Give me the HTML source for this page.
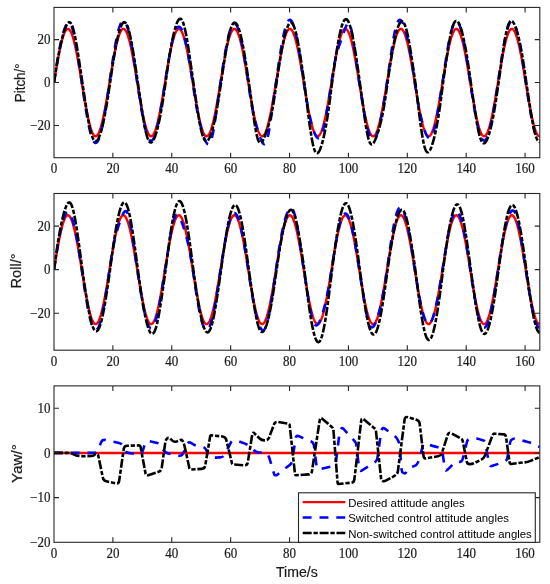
<!DOCTYPE html><html><head><meta charset="utf-8"><title>Attitude angles</title><style>
html,body{margin:0;padding:0;background:#fff;}body{width:550px;height:584px;overflow:hidden;}
svg{display:block;}
.tl{font-family:"Liberation Serif", "DejaVu Serif", serif;font-size:14px;fill:#1a1a1a;stroke:#1a1a1a;stroke-width:0.2px;}
.al{font-family:"Liberation Sans", sans-serif;font-size:14px;fill:#1a1a1a;stroke:#1a1a1a;stroke-width:0.2px;}
.lg{font-family:"Liberation Sans", sans-serif;font-size:11.4px;fill:#000;}
</style></head><body>
<svg width="550" height="584" viewBox="0 0 550 584">
<rect x="0" y="0" width="550" height="584" fill="#fff"/>
<defs>
<clipPath id="c_pitch"><rect x="54.00" y="7.40" width="485.80" height="150.30"/></clipPath>
<clipPath id="c_roll"><rect x="54.00" y="193.50" width="485.80" height="156.70"/></clipPath>
<clipPath id="c_yaw"><rect x="54.00" y="385.90" width="485.80" height="156.40"/></clipPath>
</defs>
<g clip-path="url(#c_pitch)">
<polyline fill="none" stroke="#ff0000" stroke-width="2.4" stroke-linejoin="round" points="54.00,82.55 54.30,80.71 54.61,78.86 54.91,77.02 55.21,75.19 55.52,73.37 55.82,71.56 56.13,69.76 56.43,67.97 56.73,66.21 57.04,64.46 57.34,62.73 57.64,61.03 57.95,59.35 58.25,57.70 58.55,56.08 58.86,54.49 59.16,52.94 59.47,51.42 59.77,49.93 60.07,48.49 60.38,47.08 60.68,45.72 60.98,44.40 61.29,43.12 61.59,41.89 61.89,40.71 62.20,39.58 62.50,38.50 62.81,37.47 63.11,36.50 63.41,35.58 63.72,34.71 64.02,33.90 64.32,33.15 64.63,32.46 64.93,31.83 65.23,31.25 65.54,30.74 65.84,30.29 66.14,29.90 66.45,29.57 66.75,29.30 67.06,29.10 67.36,28.96 67.66,28.89 67.97,28.87 68.27,28.93 68.57,29.04 68.88,29.22 69.18,29.46 69.48,29.76 69.79,30.13 70.09,30.55 70.40,31.04 70.70,31.59 71.00,32.20 71.31,32.87 71.61,33.60 71.91,34.39 72.22,35.23 72.52,36.13 72.82,37.08 73.13,38.09 73.43,39.15 73.74,40.26 74.04,41.42 74.34,42.63 74.65,43.89 74.95,45.19 75.25,46.54 75.56,47.93 75.86,49.36 76.16,50.83 76.47,52.34 76.77,53.88 77.08,55.46 77.38,57.06 77.68,58.70 77.99,60.37 78.29,62.06 78.59,63.78 78.90,65.52 79.20,67.28 79.50,69.06 79.81,70.85 80.11,72.66 80.42,74.48 80.72,76.31 81.02,78.14 81.33,79.98 81.63,81.83 81.93,83.67 82.24,85.52 82.54,87.36 82.84,89.19 83.15,91.02 83.45,92.83 83.76,94.64 84.06,96.43 84.36,98.20 84.67,99.96 84.97,101.69 85.27,103.41 85.58,105.09 85.88,106.75 86.18,108.39 86.49,109.99 86.79,111.56 87.10,113.09 87.40,114.59 87.70,116.05 88.01,117.47 88.31,118.85 88.61,120.19 88.92,121.49 89.22,122.73 89.52,123.93 89.83,125.08 90.13,126.18 90.44,127.23 90.74,128.23 91.04,129.17 91.35,130.06 91.65,130.89 91.95,131.66 92.26,132.38 92.56,133.03 92.86,133.63 93.17,134.17 93.47,134.64 93.77,135.06 94.08,135.41 94.38,135.70 94.69,135.93 94.99,136.09 95.29,136.19 95.60,136.23 95.90,136.20 96.20,136.11 96.51,135.96 96.81,135.74 97.11,135.47 97.42,135.12 97.72,134.72 98.03,134.26 98.33,133.73 98.63,133.14 98.94,132.50 99.24,131.79 99.54,131.03 99.85,130.21 100.15,129.33 100.45,128.40 100.76,127.41 101.06,126.37 101.37,125.28 101.67,124.14 101.97,122.95 102.28,121.71 102.58,120.42 102.88,119.09 103.19,117.72 103.49,116.31 103.79,114.85 104.10,113.36 104.40,111.83 104.71,110.27 105.01,108.67 105.31,107.04 105.62,105.39 105.92,103.70 106.22,102.00 106.53,100.26 106.83,98.51 107.13,96.74 107.44,94.95 107.74,93.15 108.05,91.34 108.35,89.51 108.65,87.68 108.96,85.84 109.26,84.00 109.56,82.15 109.87,80.31 110.17,78.46 110.47,76.63 110.78,74.80 111.08,72.98 111.39,71.17 111.69,69.37 111.99,67.59 112.30,65.83 112.60,64.08 112.90,62.36 113.21,60.66 113.51,58.99 113.81,57.35 114.12,55.74 114.42,54.15 114.72,52.60 115.03,51.09 115.33,49.61 115.64,48.18 115.94,46.78 116.24,45.43 116.55,44.12 116.85,42.85 117.15,41.63 117.46,40.46 117.76,39.34 118.06,38.27 118.37,37.26 118.67,36.29 118.98,35.38 119.28,34.53 119.58,33.74 119.89,33.00 120.19,32.32 120.49,31.70 120.80,31.14 121.10,30.64 121.40,30.20 121.71,29.82 122.01,29.51 122.32,29.25 122.62,29.07 122.92,28.94 123.23,28.88 123.53,28.88 123.83,28.94 124.14,29.07 124.44,29.26 124.74,29.52 125.05,29.84 125.35,30.21 125.66,30.66 125.96,31.16 126.26,31.72 126.57,32.34 126.87,33.03 127.17,33.77 127.48,34.57 127.78,35.42 128.08,36.33 128.39,37.30 128.69,38.32 129.00,39.39 129.30,40.51 129.60,41.68 129.91,42.90 130.21,44.17 130.51,45.48 130.82,46.84 131.12,48.24 131.42,49.67 131.73,51.15 132.03,52.67 132.34,54.22 132.64,55.80 132.94,57.42 133.25,59.06 133.55,60.73 133.85,62.43 134.16,64.15 134.46,65.90 134.76,67.66 135.07,69.44 135.37,71.24 135.68,73.05 135.98,74.87 136.28,76.70 136.59,78.54 136.89,80.38 137.19,82.23 137.50,84.07 137.80,85.91 138.10,87.75 138.41,89.59 138.71,91.41 139.01,93.23 139.32,95.03 139.62,96.81 139.93,98.58 140.23,100.34 140.53,102.07 140.84,103.77 141.14,105.45 141.44,107.11 141.75,108.74 142.05,110.33 142.35,111.89 142.66,113.42 142.96,114.91 143.27,116.36 143.57,117.78 143.87,119.15 144.18,120.48 144.48,121.76 144.78,123.00 145.09,124.19 145.39,125.32 145.69,126.41 146.00,127.45 146.30,128.44 146.61,129.37 146.91,130.24 147.21,131.06 147.52,131.82 147.82,132.52 148.12,133.17 148.43,133.75 148.73,134.28 149.03,134.74 149.34,135.14 149.64,135.48 149.95,135.75 150.25,135.97 150.55,136.12 150.86,136.20 151.16,136.23 151.46,136.19 151.77,136.08 152.07,135.92 152.37,135.69 152.68,135.40 152.98,135.04 153.29,134.62 153.59,134.15 153.89,133.61 154.20,133.01 154.50,132.35 154.80,131.63 155.11,130.85 155.41,130.02 155.71,129.13 156.02,128.19 156.32,127.19 156.63,126.14 156.93,125.04 157.23,123.88 157.54,122.68 157.84,121.43 158.14,120.14 158.45,118.80 158.75,117.42 159.05,115.99 159.36,114.53 159.66,113.03 159.97,111.49 160.27,109.92 160.57,108.32 160.88,106.69 161.18,105.02 161.48,103.34 161.79,101.62 162.09,99.89 162.39,98.13 162.70,96.36 163.00,94.57 163.30,92.76 163.61,90.94 163.91,89.12 164.22,87.28 164.52,85.44 164.82,83.60 165.13,81.75 165.43,79.91 165.73,78.07 166.04,76.23 166.34,74.40 166.64,72.58 166.95,70.78 167.25,68.98 167.56,67.21 167.86,65.45 168.16,63.71 168.47,61.99 168.77,60.30 169.07,58.64 169.38,57.00 169.68,55.39 169.98,53.82 170.29,52.27 170.59,50.77 170.90,49.30 171.20,47.87 171.50,46.48 171.81,45.14 172.11,43.84 172.41,42.58 172.72,41.38 173.02,40.22 173.32,39.11 173.63,38.05 173.93,37.04 174.24,36.09 174.54,35.20 174.84,34.35 175.15,33.57 175.45,32.84 175.75,32.18 176.06,31.57 176.36,31.02 176.66,30.54 176.97,30.11 177.27,29.75 177.58,29.45 177.88,29.21 178.18,29.03 178.49,28.92 178.79,28.87 179.09,28.89 179.40,28.97 179.70,29.11 180.00,29.31 180.31,29.58 180.61,29.91 180.92,30.30 181.22,30.76 181.52,31.27 181.83,31.85 182.13,32.49 182.43,33.18 182.74,33.93 183.04,34.75 183.34,35.61 183.65,36.54 183.95,37.51 184.26,38.54 184.56,39.63 184.86,40.76 185.17,41.94 185.47,43.17 185.77,44.45 186.08,45.77 186.38,47.14 186.68,48.54 186.99,49.99 187.29,51.48 187.59,53.00 187.90,54.56 188.20,56.15 188.51,57.77 188.81,59.42 189.11,61.10 189.42,62.80 189.72,64.53 190.02,66.28 190.33,68.05 190.63,69.83 190.93,71.63 191.24,73.44 191.54,75.27 191.85,77.10 192.15,78.94 192.45,80.78 192.76,82.63 193.06,84.47 193.36,86.31 193.67,88.15 193.97,89.98 194.27,91.81 194.58,93.62 194.88,95.42 195.19,97.20 195.49,98.97 195.79,100.71 196.10,102.44 196.40,104.14 196.70,105.82 197.01,107.46 197.31,109.08 197.61,110.67 197.92,112.23 198.22,113.75 198.53,115.23 198.83,116.67 199.13,118.08 199.44,119.44 199.74,120.76 200.04,122.03 200.35,123.26 200.65,124.44 200.95,125.56 201.26,126.64 201.56,127.67 201.87,128.64 202.17,129.56 202.47,130.42 202.78,131.23 203.08,131.98 203.38,132.67 203.69,133.30 203.99,133.87 204.29,134.38 204.60,134.83 204.90,135.22 205.21,135.54 205.51,135.81 205.81,136.01 206.12,136.14 206.42,136.21 206.72,136.22 207.03,136.17 207.33,136.05 207.63,135.87 207.94,135.63 208.24,135.33 208.55,134.96 208.85,134.53 209.15,134.04 209.46,133.48 209.76,132.87 210.06,132.20 210.37,131.47 210.67,130.68 210.97,129.83 211.28,128.93 211.58,127.98 211.88,126.97 212.19,125.90 212.49,124.79 212.80,123.63 213.10,122.42 213.40,121.16 213.71,119.85 214.01,118.50 214.31,117.11 214.62,115.68 214.92,114.21 215.22,112.70 215.53,111.16 215.83,109.58 216.14,107.97 216.44,106.33 216.74,104.66 217.05,102.97 217.35,101.25 217.65,99.51 217.96,97.75 218.26,95.97 218.56,94.18 218.87,92.37 219.17,90.55 219.48,88.72 219.78,86.88 220.08,85.04 220.39,83.20 220.69,81.35 220.99,79.51 221.30,77.67 221.60,75.83 221.90,74.01 222.21,72.19 222.51,70.39 222.82,68.60 223.12,66.82 223.42,65.07 223.73,63.34 224.03,61.62 224.33,59.94 224.64,58.28 224.94,56.65 225.24,55.05 225.55,53.48 225.85,51.94 226.16,50.45 226.46,48.99 226.76,47.57 227.07,46.19 227.37,44.85 227.67,43.56 227.98,42.32 228.28,41.12 228.58,39.97 228.89,38.87 229.19,37.83 229.50,36.83 229.80,35.89 230.10,35.01 230.41,34.18 230.71,33.41 231.01,32.70 231.32,32.04 231.62,31.45 231.92,30.91 232.23,30.44 232.53,30.03 232.84,29.68 233.14,29.39 233.44,29.17 233.75,29.00 234.05,28.91 234.35,28.87 234.66,28.90 234.96,28.99 235.26,29.15 235.57,29.37 235.87,29.65 236.17,29.99 236.48,30.40 236.78,30.87 237.09,31.39 237.39,31.98 237.69,32.63 238.00,33.34 238.30,34.11 238.60,34.93 238.91,35.81 239.21,36.74 239.51,37.73 239.82,38.77 240.12,39.87 240.43,41.01 240.73,42.20 241.03,43.44 241.34,44.73 241.64,46.06 241.94,47.44 242.25,48.85 242.55,50.31 242.85,51.80 243.16,53.33 243.46,54.90 243.77,56.50 244.07,58.12 244.37,59.78 244.68,61.47 244.98,63.18 245.28,64.91 245.59,66.66 245.89,68.43 246.19,70.22 246.50,72.02 246.80,73.84 247.11,75.66 247.41,77.50 247.71,79.34 248.02,81.18 248.32,83.03 248.62,84.87 248.93,86.71 249.23,88.55 249.53,90.38 249.84,92.20 250.14,94.01 250.45,95.80 250.75,97.58 251.05,99.35 251.36,101.09 251.66,102.81 251.96,104.50 252.27,106.17 252.57,107.82 252.87,109.43 253.18,111.01 253.48,112.56 253.79,114.07 254.09,115.54 254.39,116.98 254.70,118.38 255.00,119.73 255.30,121.04 255.61,122.30 255.91,123.52 256.21,124.68 256.52,125.80 256.82,126.87 257.13,127.88 257.43,128.85 257.73,129.75 258.04,130.60 258.34,131.40 258.64,132.13 258.95,132.81 259.25,133.43 259.55,133.99 259.86,134.48 260.16,134.92 260.47,135.29 260.77,135.61 261.07,135.85 261.38,136.04 261.68,136.16 261.98,136.22 262.29,136.22 262.59,136.15 262.89,136.02 263.20,135.83 263.50,135.57 263.80,135.25 264.11,134.87 264.41,134.43 264.72,133.92 265.02,133.36 265.32,132.73 265.63,132.04 265.93,131.30 266.23,130.50 266.54,129.64 266.84,128.73 267.14,127.76 267.45,126.74 267.75,125.67 268.06,124.54 268.36,123.37 268.66,122.15 268.97,120.88 269.27,119.56 269.57,118.21 269.88,116.81 270.18,115.37 270.48,113.89 270.79,112.37 271.09,110.82 271.40,109.23 271.70,107.62 272.00,105.97 272.31,104.30 272.61,102.60 272.91,100.87 273.22,99.13 273.52,97.36 273.82,95.58 274.13,93.79 274.43,91.97 274.74,90.15 275.04,88.32 275.34,86.48 275.65,84.64 275.95,82.80 276.25,80.95 276.56,79.11 276.86,77.27 277.16,75.44 277.47,73.61 277.77,71.80 278.08,70.00 278.38,68.21 278.68,66.44 278.99,64.69 279.29,62.96 279.59,61.26 279.90,59.58 280.20,57.92 280.50,56.30 280.81,54.70 281.11,53.14 281.42,51.62 281.72,50.13 282.02,48.68 282.33,47.27 282.63,45.90 282.93,44.57 283.24,43.29 283.54,42.05 283.84,40.87 284.15,39.73 284.45,38.64 284.75,37.61 285.06,36.62 285.36,35.70 285.67,34.82 285.97,34.01 286.27,33.25 286.58,32.55 286.88,31.91 287.18,31.33 287.49,30.80 287.79,30.34 288.09,29.95 288.40,29.61 288.70,29.34 289.01,29.13 289.31,28.98 289.61,28.89 289.92,28.87 290.22,28.91 290.52,29.02 290.83,29.19 291.13,29.42 291.43,29.72 291.74,30.07 292.04,30.49 292.35,30.97 292.65,31.52 292.95,32.12 293.26,32.78 293.56,33.50 293.86,34.28 294.17,35.11 294.47,36.01 294.77,36.95 295.08,37.95 295.38,39.01 295.69,40.11 295.99,41.26 296.29,42.47 296.60,43.72 296.90,45.02 297.20,46.36 297.51,47.74 297.81,49.17 298.11,50.63 298.42,52.13 298.72,53.67 299.03,55.24 299.33,56.85 299.63,58.48 299.94,60.14 300.24,61.83 300.54,63.55 300.85,65.28 301.15,67.04 301.45,68.82 301.76,70.61 302.06,72.41 302.37,74.23 302.67,76.06 302.97,77.89 303.28,79.74 303.58,81.58 303.88,83.42 304.19,85.27 304.49,87.11 304.79,88.94 305.10,90.77 305.40,92.59 305.71,94.40 306.01,96.19 306.31,97.97 306.62,99.72 306.92,101.46 307.22,103.18 307.53,104.87 307.83,106.53 308.13,108.17 308.44,109.78 308.74,111.35 309.04,112.89 309.35,114.39 309.65,115.86 309.96,117.29 310.26,118.67 310.56,120.02 310.87,121.31 311.17,122.57 311.47,123.77 311.78,124.93 312.08,126.04 312.38,127.09 312.69,128.10 312.99,129.05 313.30,129.94 313.60,130.78 313.90,131.56 314.21,132.28 314.51,132.95 314.81,133.55 315.12,134.10 315.42,134.58 315.72,135.01 316.03,135.37 316.33,135.66 316.64,135.90 316.94,136.07 317.24,136.18 317.55,136.23 317.85,136.21 318.15,136.13 318.46,135.98 318.76,135.78 319.06,135.51 319.37,135.17 319.67,134.78 319.98,134.32 320.28,133.80 320.58,133.22 320.89,132.59 321.19,131.89 321.49,131.13 321.80,130.32 322.10,129.45 322.40,128.53 322.71,127.55 323.01,126.51 323.32,125.43 323.62,124.29 323.92,123.11 324.23,121.88 324.53,120.60 324.83,119.27 325.14,117.91 325.44,116.50 325.74,115.05 326.05,113.56 326.35,112.04 326.66,110.48 326.96,108.89 327.26,107.26 327.57,105.61 327.87,103.93 328.17,102.23 328.48,100.50 328.78,98.75 329.08,96.98 329.39,95.19 329.69,93.39 330.00,91.58 330.30,89.76 330.60,87.93 330.91,86.09 331.21,84.24 331.51,82.40 331.82,80.55 332.12,78.71 332.42,76.87 332.73,75.04 333.03,73.22 333.33,71.41 333.64,69.61 333.94,67.83 334.25,66.06 334.55,64.32 334.85,62.59 335.16,60.89 335.46,59.22 335.76,57.57 336.07,55.95 336.37,54.36 336.67,52.81 336.98,51.29 337.28,49.81 337.59,48.37 337.89,46.97 338.19,45.61 338.50,44.29 338.80,43.02 339.10,41.79 339.41,40.62 339.71,39.49 340.01,38.41 340.32,37.39 340.62,36.42 340.93,35.50 341.23,34.64 341.53,33.84 341.84,33.09 342.14,32.40 342.44,31.78 342.75,31.21 343.05,30.70 343.35,30.25 343.66,29.87 343.96,29.55 344.27,29.29 344.57,29.09 344.87,28.95 345.18,28.88 345.48,28.88 345.78,28.93 346.09,29.05 346.39,29.23 346.69,29.48 347.00,29.79 347.30,30.16 347.61,30.59 347.91,31.09 348.21,31.64 348.52,32.26 348.82,32.93 349.12,33.66 349.43,34.45 349.73,35.30 350.03,36.21 350.34,37.16 350.64,38.18 350.95,39.24 351.25,40.36 351.55,41.52 351.86,42.74 352.16,44.00 352.46,45.30 352.77,46.65 353.07,48.05 353.37,49.48 353.68,50.95 353.98,52.46 354.29,54.01 354.59,55.59 354.89,57.20 355.20,58.84 355.50,60.51 355.80,62.20 356.11,63.92 356.41,65.66 356.71,67.42 357.02,69.20 357.32,71.00 357.62,72.81 357.93,74.63 358.23,76.46 358.54,78.29 358.84,80.13 359.14,81.98 359.45,83.82 359.75,85.67 360.05,87.51 360.36,89.34 360.66,91.17 360.96,92.98 361.27,94.79 361.57,96.58 361.88,98.35 362.18,100.10 362.48,101.83 362.79,103.55 363.09,105.23 363.39,106.89 363.70,108.52 364.00,110.12 364.30,111.69 364.61,113.22 364.91,114.71 365.22,116.17 365.52,117.59 365.82,118.97 366.13,120.30 366.43,121.59 366.73,122.83 367.04,124.03 367.34,125.17 367.64,126.27 367.95,127.32 368.25,128.31 368.56,129.24 368.86,130.13 369.16,130.95 369.47,131.72 369.77,132.43 370.07,133.08 370.38,133.68 370.68,134.21 370.98,134.68 371.29,135.09 371.59,135.44 371.90,135.72 372.20,135.94 372.50,136.10 372.81,136.20 373.11,136.23 373.41,136.20 373.72,136.10 374.02,135.94 374.32,135.72 374.63,135.44 374.93,135.09 375.24,134.68 375.54,134.21 375.84,133.68 376.15,133.09 376.45,132.44 376.75,131.73 377.06,130.96 377.36,130.14 377.66,129.25 377.97,128.32 378.27,127.33 378.58,126.28 378.88,125.19 379.18,124.04 379.49,122.85 379.79,121.60 380.09,120.31 380.40,118.98 380.70,117.61 381.00,116.19 381.31,114.73 381.61,113.23 381.91,111.70 382.22,110.14 382.52,108.54 382.83,106.91 383.13,105.25 383.43,103.56 383.74,101.85 384.04,100.12 384.34,98.37 384.65,96.60 384.95,94.81 385.25,93.00 385.56,91.19 385.86,89.36 386.17,87.53 386.47,85.69 386.77,83.84 387.08,82.00 387.38,80.15 387.68,78.31 387.99,76.48 388.29,74.65 388.59,72.83 388.90,71.02 389.20,69.22 389.51,67.44 389.81,65.68 390.11,63.94 390.42,62.22 390.72,60.53 391.02,58.86 391.33,57.22 391.63,55.60 391.93,54.02 392.24,52.48 392.54,50.97 392.85,49.50 393.15,48.06 393.45,46.67 393.76,45.32 394.06,44.01 394.36,42.75 394.67,41.53 394.97,40.37 395.27,39.25 395.58,38.19 395.88,37.18 396.19,36.22 396.49,35.31 396.79,34.46 397.10,33.67 397.40,32.94 397.70,32.26 398.01,31.65 398.31,31.09 398.61,30.60 398.92,30.16 399.22,29.79 399.53,29.48 399.83,29.24 400.13,29.05 400.44,28.93 400.74,28.88 401.04,28.88 401.35,28.95 401.65,29.09 401.95,29.28 402.26,29.54 402.56,29.86 402.87,30.25 403.17,30.69 403.47,31.20 403.78,31.77 404.08,32.40 404.38,33.08 404.69,33.83 404.99,34.63 405.29,35.49 405.60,36.41 405.90,37.38 406.20,38.40 406.51,39.48 406.81,40.60 407.12,41.78 407.42,43.00 407.72,44.27 408.03,45.59 408.33,46.95 408.63,48.35 408.94,49.79 409.24,51.28 409.54,52.79 409.85,54.35 410.15,55.93 410.46,57.55 410.76,59.20 411.06,60.87 411.37,62.57 411.67,64.30 411.97,66.04 412.28,67.81 412.58,69.59 412.88,71.39 413.19,73.20 413.49,75.02 413.80,76.85 414.10,78.69 414.40,80.53 414.71,82.38 415.01,84.22 415.31,86.07 415.62,87.90 415.92,89.74 416.22,91.56 416.53,93.37 416.83,95.18 417.14,96.96 417.44,98.73 417.74,100.48 418.05,102.21 418.35,103.91 418.65,105.59 418.96,107.24 419.26,108.87 419.56,110.46 419.87,112.02 420.17,113.54 420.48,115.03 420.78,116.48 421.08,117.89 421.39,119.26 421.69,120.58 421.99,121.86 422.30,123.10 422.60,124.28 422.90,125.42 423.21,126.50 423.51,127.53 423.82,128.51 424.12,129.44 424.42,130.31 424.73,131.12 425.03,131.88 425.33,132.58 425.64,133.22 425.94,133.80 426.24,134.32 426.55,134.77 426.85,135.17 427.16,135.50 427.46,135.77 427.76,135.98 428.07,136.13 428.37,136.21 428.67,136.23 428.98,136.18 429.28,136.07 429.58,135.90 429.89,135.67 430.19,135.37 430.49,135.01 430.80,134.59 431.10,134.10 431.41,133.56 431.71,132.96 432.01,132.29 432.32,131.57 432.62,130.79 432.92,129.95 433.23,129.06 433.53,128.11 433.83,127.11 434.14,126.05 434.44,124.94 434.75,123.79 435.05,122.58 435.35,121.33 435.66,120.03 435.96,118.69 436.26,117.30 436.57,115.88 436.87,114.41 437.17,112.91 437.48,111.37 437.78,109.79 438.09,108.19 438.39,106.55 438.69,104.89 439.00,103.20 439.30,101.48 439.60,99.74 439.91,97.99 440.21,96.21 440.51,94.42 440.82,92.61 441.12,90.79 441.43,88.97 441.73,87.13 442.03,85.29 442.34,83.44 442.64,81.60 442.94,79.76 443.25,77.92 443.55,76.08 443.85,74.25 444.16,72.43 444.46,70.63 444.77,68.84 445.07,67.06 445.37,65.30 445.68,63.57 445.98,61.85 446.28,60.16 446.59,58.50 446.89,56.86 447.19,55.26 447.50,53.69 447.80,52.15 448.11,50.65 448.41,49.18 448.71,47.76 449.02,46.37 449.32,45.03 449.62,43.73 449.93,42.48 450.23,41.28 450.53,40.12 450.84,39.02 451.14,37.96 451.45,36.96 451.75,36.02 452.05,35.12 452.36,34.29 452.66,33.51 452.96,32.79 453.27,32.13 453.57,31.52 453.87,30.98 454.18,30.50 454.48,30.08 454.78,29.72 455.09,29.42 455.39,29.19 455.70,29.02 456.00,28.92 456.30,28.87 456.61,28.89 456.91,28.98 457.21,29.12 457.52,29.33 457.82,29.61 458.12,29.94 458.43,30.34 458.73,30.80 459.04,31.32 459.34,31.90 459.64,32.54 459.95,33.24 460.25,34.00 460.55,34.81 460.86,35.69 461.16,36.61 461.46,37.60 461.77,38.63 462.07,39.72 462.38,40.85 462.68,42.04 462.98,43.28 463.29,44.56 463.59,45.88 463.89,47.25 464.20,48.66 464.50,50.11 464.80,51.60 465.11,53.13 465.41,54.69 465.72,56.28 466.02,57.90 466.32,59.56 466.63,61.24 466.93,62.94 467.23,64.67 467.54,66.42 467.84,68.19 468.14,69.98 468.45,71.78 468.75,73.59 469.06,75.42 469.36,77.25 469.66,79.09 469.97,80.93 470.27,82.78 470.57,84.62 470.88,86.46 471.18,88.30 471.48,90.13 471.79,91.95 472.09,93.77 472.40,95.56 472.70,97.34 473.00,99.11 473.31,100.85 473.61,102.58 473.91,104.28 474.22,105.95 474.52,107.60 474.82,109.22 475.13,110.80 475.43,112.35 475.74,113.87 476.04,115.35 476.34,116.79 476.65,118.19 476.95,119.55 477.25,120.86 477.56,122.13 477.86,123.36 478.16,124.53 478.47,125.66 478.77,126.73 479.07,127.75 479.38,128.72 479.68,129.63 479.99,130.49 480.29,131.29 480.59,132.04 480.90,132.72 481.20,133.35 481.50,133.91 481.81,134.42 482.11,134.86 482.41,135.25 482.72,135.57 483.02,135.82 483.33,136.02 483.63,136.15 483.93,136.22 484.24,136.22 484.54,136.16 484.84,136.04 485.15,135.86 485.45,135.61 485.75,135.30 486.06,134.92 486.36,134.49 486.67,133.99 486.97,133.43 487.27,132.82 487.58,132.14 487.88,131.40 488.18,130.61 488.49,129.76 488.79,128.86 489.09,127.90 489.40,126.88 489.70,125.81 490.01,124.70 490.31,123.53 490.61,122.31 490.92,121.05 491.22,119.74 491.52,118.39 491.83,117.00 492.13,115.56 492.43,114.09 492.74,112.58 493.04,111.03 493.35,109.45 493.65,107.84 493.95,106.19 494.26,104.52 494.56,102.83 494.86,101.11 495.17,99.36 495.47,97.60 495.77,95.82 496.08,94.03 496.38,92.22 496.69,90.40 496.99,88.57 497.29,86.73 497.60,84.89 497.90,83.05 498.20,81.20 498.51,79.36 498.81,77.52 499.11,75.68 499.42,73.86 499.72,72.04 500.03,70.24 500.33,68.45 500.63,66.68 500.94,64.93 501.24,63.19 501.54,61.49 501.85,59.80 502.15,58.14 502.45,56.51 502.76,54.92 503.06,53.35 503.36,51.82 503.67,50.33 503.97,48.87 504.28,47.45 504.58,46.08 504.88,44.75 505.19,43.46 505.49,42.22 505.79,41.02 506.10,39.88 506.40,38.79 506.70,37.74 507.01,36.75 507.31,35.82 507.62,34.94 507.92,34.11 508.22,33.35 508.53,32.64 508.83,31.99 509.13,31.40 509.44,30.87 509.74,30.40 510.04,30.00 510.35,29.65 510.65,29.37 510.96,29.15 511.26,28.99 511.56,28.90 511.87,28.87 512.17,28.91 512.47,29.00 512.78,29.16 513.08,29.39 513.38,29.67 513.69,30.02 513.99,30.43 514.30,30.91 514.60,31.44 514.90,32.03 515.21,32.69 515.51,33.40 515.81,34.17 516.12,35.00 516.42,35.88 516.72,36.82 517.03,37.82 517.33,38.86 517.64,39.96 517.94,41.11 518.24,42.30 518.55,43.55 518.85,44.84 519.15,46.17 519.46,47.55 519.76,48.97 520.06,50.43 520.37,51.93 520.67,53.46 520.98,55.03 521.28,56.63 521.58,58.26 521.89,59.92 522.19,61.61 522.49,63.32 522.80,65.05 523.10,66.80 523.40,68.58 523.71,70.37 524.01,72.17 524.32,73.99 524.62,75.81 524.92,77.65 525.23,79.49 525.53,81.33 525.83,83.18 526.14,85.02 526.44,86.86 526.74,88.70 527.05,90.53 527.35,92.35 527.65,94.16 527.96,95.95 528.26,97.73 528.57,99.49 528.87,101.23 529.17,102.95 529.48,104.64 529.78,106.31 530.08,107.95 530.39,109.56 530.69,111.14 530.99,112.68 531.30,114.19 531.60,115.66 531.91,117.10 532.21,118.49 532.51,119.84 532.82,121.14 533.12,122.40 533.42,123.61 533.73,124.78 534.03,125.89 534.33,126.95 534.64,127.97 534.94,128.92 535.25,129.82 535.55,130.67 535.85,131.46 536.16,132.19 536.46,132.86 536.76,133.48 537.07,134.03 537.37,134.52 537.67,134.95 537.98,135.32 538.28,135.63 538.59,135.87 538.89,136.05 539.19,136.17 539.50,136.22 539.80,136.22"/>
<polyline fill="none" stroke="#0000ff" stroke-width="2.6" stroke-dasharray="8.9 7.9" stroke-linejoin="round" points="54.00,82.55 54.30,80.49 54.61,78.43 54.91,76.38 55.21,74.34 55.52,72.30 55.82,70.29 56.13,68.31 56.43,66.36 56.73,64.45 57.04,62.57 57.34,60.73 57.64,58.93 57.95,57.17 58.25,55.44 58.55,53.76 58.86,52.11 59.16,50.51 59.47,48.95 59.77,47.42 60.07,45.94 60.38,44.50 60.68,43.10 60.98,41.74 61.29,40.41 61.59,39.13 61.89,37.89 62.20,36.70 62.50,35.54 62.81,34.42 63.11,33.35 63.41,32.32 63.72,31.34 64.02,30.39 64.32,29.50 64.63,28.65 64.93,27.85 65.23,27.10 65.54,26.40 65.84,25.75 66.14,25.16 66.45,24.63 66.75,24.16 67.06,23.74 67.36,23.39 67.66,23.10 67.97,22.88 68.27,22.74 68.57,22.66 68.88,22.65 69.18,22.72 69.48,22.87 69.79,23.09 70.09,23.40 70.40,23.78 70.70,24.25 71.00,24.80 71.31,25.43 71.61,26.15 71.91,26.95 72.22,27.83 72.52,28.79 72.82,29.84 73.13,30.96 73.43,32.16 73.74,33.43 74.04,34.78 74.34,36.19 74.65,37.68 74.95,39.22 75.25,40.83 75.56,42.50 75.86,44.21 76.16,45.98 76.47,47.79 76.77,49.64 77.08,51.52 77.38,53.44 77.68,55.39 77.99,57.36 78.29,59.35 78.59,61.36 78.90,63.38 79.20,65.41 79.50,67.44 79.81,69.48 80.11,71.51 80.42,73.54 80.72,75.58 81.02,77.63 81.33,79.69 81.63,81.74 81.93,83.81 82.24,85.88 82.54,87.95 82.84,90.01 83.15,92.07 83.45,94.11 83.76,96.14 84.06,98.15 84.36,100.14 84.67,102.12 84.97,104.07 85.27,105.99 85.58,107.89 85.88,109.76 86.18,111.59 86.49,113.39 86.79,115.15 87.10,116.88 87.40,118.57 87.70,120.21 88.01,121.81 88.31,123.36 88.61,124.86 88.92,126.31 89.22,127.71 89.52,129.06 89.83,130.36 90.13,131.59 90.44,132.77 90.74,133.89 91.04,134.95 91.35,135.95 91.65,136.88 91.95,137.75 92.26,138.56 92.56,139.29 92.86,139.96 93.17,140.57 93.47,141.10 93.77,141.57 94.08,141.96 94.38,142.29 94.69,142.55 94.99,142.73 95.29,142.84 95.60,142.88 95.90,142.86 96.20,142.75 96.51,142.58 96.81,142.34 97.11,142.03 97.42,141.64 97.72,141.19 98.03,140.67 98.33,140.08 98.63,139.42 98.94,138.69 99.24,137.90 99.54,137.04 99.85,136.12 100.15,135.13 100.45,134.08 100.76,132.97 101.06,131.80 101.37,130.58 101.67,129.29 101.97,127.96 102.28,126.56 102.58,125.12 102.88,123.62 103.19,122.08 103.49,120.49 103.79,118.86 104.10,117.18 104.40,115.46 104.71,113.70 105.01,111.91 105.31,110.08 105.62,108.22 105.92,106.33 106.22,104.41 106.53,102.46 106.83,100.49 107.13,98.50 107.44,96.49 107.74,94.47 108.05,92.43 108.35,90.38 108.65,88.31 108.96,86.25 109.26,84.17 109.56,82.09 109.87,79.97 110.17,77.86 110.47,75.75 110.78,73.65 111.08,71.56 111.39,69.48 111.69,67.42 111.99,65.38 112.30,63.35 112.60,61.35 112.90,59.37 113.21,57.43 113.51,55.51 113.81,53.62 114.12,51.77 114.42,49.95 114.72,48.17 115.03,46.44 115.33,44.74 115.64,43.09 115.94,41.49 116.24,39.93 116.55,38.43 116.85,36.98 117.15,35.58 117.46,34.23 117.76,32.95 118.06,31.72 118.37,30.55 118.67,29.45 118.98,28.40 119.28,27.42 119.58,26.51 119.89,25.66 120.19,24.88 120.49,24.17 120.80,23.53 121.10,22.95 121.40,22.45 121.71,22.02 122.01,21.66 122.32,21.37 122.62,21.15 122.92,21.01 123.23,20.94 123.53,20.94 123.83,21.01 124.14,21.16 124.44,21.38 124.74,21.67 125.05,22.03 125.35,22.47 125.66,22.97 125.96,23.55 126.26,24.20 126.57,24.91 126.87,25.70 127.17,26.55 127.48,27.46 127.78,28.45 128.08,29.49 128.39,30.60 128.69,31.77 129.00,33.00 129.30,34.29 129.60,35.63 129.91,37.03 130.21,38.49 130.51,39.99 130.82,41.55 131.12,43.16 131.42,44.81 131.73,46.51 132.03,48.24 132.34,50.02 132.64,51.84 132.94,53.70 133.25,55.59 133.55,57.51 133.85,59.46 134.16,61.43 134.46,63.43 134.76,65.46 135.07,67.50 135.37,69.57 135.68,71.64 135.98,73.74 136.28,75.84 136.59,77.95 136.89,80.06 137.19,82.18 137.50,84.20 137.80,86.20 138.10,88.19 138.41,90.18 138.71,92.16 139.01,94.12 139.32,96.08 139.62,98.01 139.93,99.93 140.23,101.83 140.53,103.71 140.84,105.56 141.14,107.38 141.44,109.17 141.75,110.94 142.05,112.66 142.35,114.36 142.66,116.01 142.96,117.63 143.27,119.20 143.57,120.74 143.87,122.22 144.18,123.66 144.48,125.05 144.78,126.39 145.09,127.68 145.39,128.92 145.69,130.10 146.00,131.22 146.30,132.29 146.61,133.30 146.91,134.25 147.21,135.13 147.52,135.96 147.82,136.72 148.12,137.42 148.43,138.05 148.73,138.62 149.03,139.12 149.34,139.56 149.64,139.92 149.95,140.22 150.25,140.45 150.55,140.62 150.86,140.71 151.16,140.74 151.46,140.69 151.77,140.58 152.07,140.40 152.37,140.15 152.68,139.84 152.98,139.45 153.29,139.00 153.59,138.48 153.89,137.90 154.20,137.25 154.50,136.53 154.80,135.75 155.11,134.91 155.41,134.01 155.71,133.04 156.02,132.02 156.32,130.94 156.63,129.80 156.93,128.60 157.23,127.36 157.54,126.05 157.84,124.70 158.14,123.30 158.45,121.84 158.75,120.35 159.05,118.80 159.36,117.22 159.66,115.59 159.97,113.93 160.27,112.22 160.57,110.48 160.88,108.71 161.18,106.91 161.48,105.08 161.79,103.22 162.09,101.34 162.39,99.44 162.70,97.52 163.00,95.57 163.30,93.62 163.61,91.65 163.91,89.67 164.22,87.68 164.52,85.68 164.82,83.68 165.13,81.72 165.43,79.80 165.73,77.89 166.04,75.98 166.34,74.08 166.64,72.18 166.95,70.31 167.25,68.44 167.56,66.59 167.86,64.76 168.16,62.96 168.47,61.17 168.77,59.41 169.07,57.68 169.38,55.98 169.68,54.30 169.98,52.67 170.29,51.06 170.59,49.50 170.90,47.97 171.20,46.48 171.50,45.04 171.81,43.64 172.11,42.29 172.41,40.98 172.72,39.73 173.02,38.52 173.32,37.37 173.63,36.27 173.93,35.22 174.24,34.23 174.54,33.30 174.84,32.43 175.15,31.61 175.45,30.86 175.75,30.16 176.06,29.53 176.36,28.96 176.66,28.46 176.97,28.01 177.27,27.64 177.58,27.32 177.88,27.08 178.18,26.89 178.49,26.78 178.79,26.73 179.09,26.74 179.40,26.82 179.70,26.97 180.00,27.18 180.31,27.46 180.61,27.81 180.92,28.21 181.22,28.69 181.52,29.22 181.83,29.82 182.13,30.48 182.43,31.21 182.74,31.99 183.04,32.83 183.34,33.74 183.65,34.70 183.95,35.71 184.26,36.78 184.56,37.91 184.86,39.09 185.17,40.32 185.47,41.60 185.77,42.92 186.08,44.30 186.38,45.72 186.68,47.18 186.99,48.69 187.29,50.23 187.59,51.82 187.90,53.44 188.20,55.09 188.51,56.78 188.81,58.50 189.11,60.24 189.42,62.01 189.72,63.81 190.02,65.63 190.33,67.47 190.63,69.32 190.93,71.19 191.24,73.08 191.54,74.98 191.85,76.88 192.15,78.79 192.45,80.71 192.76,82.64 193.06,84.76 193.36,86.89 193.67,89.00 193.97,91.11 194.27,93.21 194.58,95.28 194.88,97.29 195.19,99.25 195.49,101.15 195.79,103.00 196.10,104.79 196.40,106.53 196.70,108.21 197.01,109.85 197.31,111.43 197.61,112.97 197.92,114.45 198.22,115.90 198.53,117.30 198.83,118.66 199.13,119.98 199.44,121.27 199.74,122.52 200.04,123.73 200.35,124.92 200.65,126.08 200.95,127.21 201.26,128.31 201.56,129.39 201.87,130.44 202.17,131.47 202.47,132.47 202.78,133.45 203.08,134.40 203.38,135.32 203.69,136.22 203.99,137.08 204.29,137.92 204.60,138.72 204.90,139.48 205.21,140.21 205.51,140.89 205.81,141.52 206.12,142.10 206.42,142.63 206.72,143.10 207.03,143.50 207.33,143.83 207.63,144.09 207.94,144.27 208.24,144.37 208.55,144.38 208.85,144.30 209.15,144.13 209.46,143.85 209.76,143.48 210.06,143.00 210.37,142.42 210.67,141.72 210.97,140.92 211.28,140.02 211.58,139.00 211.88,137.88 212.19,136.65 212.49,135.33 212.80,133.90 213.10,132.39 213.40,130.78 213.71,129.09 214.01,127.32 214.31,125.48 214.62,123.57 214.92,121.60 215.22,119.59 215.53,117.53 215.83,115.43 216.14,113.30 216.44,111.15 216.74,108.98 217.05,106.80 217.35,104.62 217.65,102.45 217.96,100.28 218.26,98.12 218.56,95.98 218.87,93.86 219.17,91.76 219.48,89.66 219.78,87.54 220.08,85.42 220.39,83.30 220.69,81.23 220.99,79.20 221.30,77.18 221.60,75.16 221.90,73.15 222.21,71.16 222.51,69.17 222.82,67.20 223.12,65.25 223.42,63.32 223.73,61.41 224.03,59.53 224.33,57.68 224.64,55.85 224.94,54.06 225.24,52.30 225.55,50.57 225.85,48.88 226.16,47.24 226.46,45.63 226.76,44.07 227.07,42.55 227.37,41.08 227.67,39.66 227.98,38.29 228.28,36.98 228.58,35.71 228.89,34.51 229.19,33.35 229.50,32.26 229.80,31.23 230.10,30.25 230.41,29.34 230.71,28.49 231.01,27.71 231.32,26.99 231.62,26.34 231.92,25.75 232.23,25.23 232.53,24.77 232.84,24.39 233.14,24.07 233.44,23.83 233.75,23.65 234.05,23.54 234.35,23.50 234.66,23.54 234.96,23.64 235.26,23.81 235.57,24.05 235.87,24.36 236.17,24.74 236.48,25.18 236.78,25.70 237.09,26.28 237.39,26.93 237.69,27.64 238.00,28.42 238.30,29.26 238.60,30.17 238.91,31.13 239.21,32.16 239.51,33.25 239.82,34.40 240.12,35.60 240.43,36.86 240.73,38.17 241.03,39.53 241.34,40.95 241.64,42.41 241.94,43.93 242.25,45.48 242.55,47.09 242.85,48.73 243.16,50.41 243.46,52.13 243.77,53.89 244.07,55.68 244.37,57.51 244.68,59.36 244.98,61.24 245.28,63.14 245.59,65.07 245.89,67.02 246.19,68.99 246.50,70.97 246.80,72.97 247.11,74.97 247.41,76.99 247.71,79.02 248.02,81.04 248.32,83.10 248.62,85.21 248.93,87.33 249.23,89.44 249.53,91.54 249.84,93.62 250.14,95.66 250.45,97.64 250.75,99.56 251.05,101.41 251.36,103.20 251.66,104.93 251.96,106.59 252.27,108.20 252.57,109.76 252.87,111.26 253.18,112.71 253.48,114.11 253.79,115.46 254.09,116.78 254.39,118.05 254.70,119.28 255.00,120.48 255.30,121.65 255.61,122.79 255.91,123.90 256.21,124.99 256.52,126.06 256.82,127.11 257.13,128.13 257.43,129.14 257.73,130.14 258.04,131.11 258.34,132.07 258.64,133.02 258.95,133.94 259.25,134.85 259.55,135.74 259.86,136.60 260.16,137.44 260.47,138.25 260.77,139.03 261.07,139.77 261.38,140.48 261.68,141.14 261.98,141.74 262.29,142.30 262.59,142.79 262.89,143.22 263.20,143.58 263.50,143.85 263.80,144.05 264.11,144.15 264.41,144.17 264.72,144.08 265.02,143.89 265.32,143.59 265.63,143.17 265.93,142.65 266.23,142.00 266.54,141.24 266.84,140.37 267.14,139.37 267.45,138.26 267.75,137.03 268.06,135.69 268.36,134.25 268.66,132.70 268.97,131.05 269.27,129.32 269.57,127.50 269.88,125.60 270.18,123.63 270.48,121.60 270.79,119.52 271.09,117.40 271.40,115.24 271.70,113.05 272.00,110.85 272.31,108.63 272.61,106.41 272.91,104.19 273.22,101.98 273.52,99.79 273.82,97.62 274.13,95.48 274.43,93.37 274.74,91.28 275.04,89.18 275.34,87.07 275.65,84.95 275.95,82.83 276.25,80.68 276.56,78.53 276.86,76.38 277.16,74.24 277.47,72.11 277.77,69.99 278.08,67.89 278.38,65.80 278.68,63.74 278.99,61.69 279.29,59.67 279.59,57.68 279.90,55.72 280.20,53.79 280.50,51.89 280.81,50.03 281.11,48.20 281.42,46.42 281.72,44.68 282.02,42.99 282.33,41.34 282.63,39.74 282.93,38.19 283.24,36.69 283.54,35.25 283.84,33.86 284.15,32.54 284.45,31.27 284.75,30.06 285.06,28.91 285.36,27.83 285.67,26.81 285.97,25.85 286.27,24.97 286.58,24.15 286.88,23.40 287.18,22.72 287.49,22.11 287.79,21.57 288.09,21.11 288.40,20.72 288.70,20.40 289.01,20.15 289.31,19.98 289.61,19.88 289.92,19.85 290.22,19.90 290.52,20.03 290.83,20.23 291.13,20.50 291.43,20.84 291.74,21.26 292.04,21.75 292.35,22.31 292.65,22.94 292.95,23.65 293.26,24.42 293.56,25.26 293.86,26.17 294.17,27.15 294.47,28.19 294.77,29.29 295.08,30.46 295.38,31.69 295.69,32.98 295.99,34.33 296.29,35.73 296.60,37.20 296.90,38.71 297.20,40.28 297.51,41.89 297.81,43.56 298.11,45.27 298.42,47.02 298.72,48.82 299.03,50.65 299.33,52.53 299.63,54.44 299.94,56.38 300.24,58.35 300.54,60.36 300.85,62.38 301.15,64.44 301.45,66.51 301.76,68.60 302.06,70.71 302.37,72.83 302.67,74.97 302.97,77.11 303.28,79.26 303.58,81.42 303.88,83.46 304.19,85.37 304.49,87.27 304.79,89.18 305.10,91.07 305.40,92.95 305.71,94.81 306.01,96.63 306.31,98.42 306.62,100.18 306.92,101.91 307.22,103.60 307.53,105.26 307.83,106.88 308.13,108.46 308.44,110.01 308.74,111.52 309.04,112.99 309.35,114.42 309.65,115.82 309.96,117.17 310.26,118.50 310.56,119.78 310.87,121.02 311.17,122.23 311.47,123.40 311.78,124.54 312.08,125.63 312.38,126.69 312.69,127.70 312.99,128.68 313.30,129.62 313.60,130.51 313.90,131.37 314.21,132.18 314.51,132.94 314.81,133.66 315.12,134.34 315.42,134.96 315.72,135.54 316.03,136.06 316.33,136.53 316.64,136.95 316.94,137.31 317.24,137.60 317.55,137.84 317.85,138.01 318.15,138.12 318.46,138.16 318.76,138.13 319.06,138.03 319.37,137.86 319.67,137.62 319.98,137.30 320.28,136.91 320.58,136.44 320.89,135.89 321.19,135.27 321.49,134.56 321.80,133.79 322.10,132.93 322.40,132.00 322.71,131.00 323.01,129.92 323.32,128.78 323.62,127.56 323.92,126.28 324.23,124.94 324.53,123.53 324.83,122.07 325.14,120.55 325.44,118.98 325.74,117.37 326.05,115.71 326.35,114.01 326.66,112.28 326.96,110.51 327.26,108.72 327.57,106.90 327.87,105.06 328.17,103.20 328.48,101.33 328.78,99.45 329.08,97.57 329.39,95.68 329.69,93.79 330.00,91.91 330.30,90.02 330.60,88.12 330.91,86.21 331.21,84.30 331.51,82.38 331.82,80.35 332.12,78.31 332.42,76.28 332.73,74.26 333.03,72.25 333.33,70.29 333.64,68.42 333.94,66.62 334.25,64.91 334.55,63.28 334.85,61.72 335.16,60.24 335.46,58.83 335.76,57.49 336.07,56.21 336.37,54.99 336.67,53.82 336.98,52.71 337.28,51.64 337.59,50.61 337.89,49.62 338.19,48.66 338.50,47.73 338.80,46.82 339.10,45.93 339.41,45.06 339.71,44.19 340.01,43.33 340.32,42.48 340.62,41.62 340.93,40.76 341.23,39.90 341.53,39.03 341.84,38.16 342.14,37.28 342.44,36.39 342.75,35.50 343.05,34.60 343.35,33.70 343.66,32.80 343.96,31.91 344.27,31.02 344.57,30.15 344.87,29.29 345.18,28.46 345.48,27.66 345.78,26.91 346.09,26.20 346.39,25.54 346.69,24.96 347.00,24.44 347.30,24.01 347.61,23.68 347.91,23.44 348.21,23.31 348.52,23.30 348.82,23.41 349.12,23.65 349.43,24.02 349.73,24.54 350.03,25.19 350.34,25.99 350.64,26.92 350.95,28.00 351.25,29.22 351.55,30.58 351.86,32.06 352.16,33.66 352.46,35.38 352.77,37.20 353.07,39.12 353.37,41.12 353.68,43.20 353.98,45.33 354.29,47.52 354.59,49.75 354.89,52.00 355.20,54.27 355.50,56.54 355.80,58.81 356.11,61.06 356.41,63.28 356.71,65.48 357.02,67.63 357.32,69.74 357.62,71.79 357.93,73.80 358.23,75.82 358.54,77.85 358.84,79.88 359.14,81.92 359.45,83.90 359.75,85.85 360.05,87.80 360.36,89.75 360.66,91.68 360.96,93.61 361.27,95.52 361.57,97.42 361.88,99.30 362.18,101.15 362.48,102.99 362.79,104.80 363.09,106.59 363.39,108.35 363.70,110.08 364.00,111.77 364.30,113.43 364.61,115.06 364.91,116.64 365.22,118.19 365.52,119.69 365.82,121.15 366.13,122.57 366.43,123.93 366.73,125.25 367.04,126.52 367.34,127.73 367.64,128.89 367.95,130.00 368.25,131.05 368.56,132.05 368.86,132.98 369.16,133.86 369.47,134.67 369.77,135.43 370.07,136.12 370.38,136.74 370.68,137.31 370.98,137.81 371.29,138.24 371.59,138.61 371.90,138.91 372.20,139.15 372.50,139.31 372.81,139.42 373.11,139.45 373.41,139.42 373.72,139.32 374.02,139.15 374.32,138.91 374.63,138.61 374.93,138.25 375.24,137.81 375.54,137.31 375.84,136.75 376.15,136.12 376.45,135.43 376.75,134.68 377.06,133.87 377.36,132.99 377.66,132.06 377.97,131.06 378.27,130.01 378.58,128.91 378.88,127.75 379.18,126.53 379.49,125.26 379.79,123.95 380.09,122.58 380.40,121.17 380.70,119.71 381.00,118.21 381.31,116.66 381.61,115.08 381.91,113.45 382.22,111.79 382.52,110.10 382.83,108.37 383.13,106.61 383.43,104.82 383.74,103.01 384.04,101.18 384.34,99.32 384.65,97.44 384.95,95.54 385.25,93.63 385.56,91.71 385.86,89.77 386.17,87.83 386.47,85.88 386.77,83.92 387.08,81.91 387.38,79.75 387.68,77.60 387.99,75.46 388.29,73.32 388.59,71.19 388.90,69.06 389.20,66.93 389.51,64.79 389.81,62.66 390.11,60.53 390.42,58.41 390.72,56.31 391.02,54.22 391.33,52.16 391.63,50.13 391.93,48.13 392.24,46.17 392.54,44.25 392.85,42.37 393.15,40.55 393.45,38.79 393.76,37.08 394.06,35.44 394.36,33.87 394.67,32.37 394.97,30.95 395.27,29.61 395.58,28.34 395.88,27.16 396.19,26.07 396.49,25.07 396.79,24.15 397.10,23.32 397.40,22.58 397.70,21.94 398.01,21.38 398.31,20.91 398.61,20.53 398.92,20.23 399.22,20.02 399.53,19.90 399.83,19.85 400.13,19.89 400.44,20.00 400.74,20.19 401.04,20.44 401.35,20.77 401.65,21.17 401.95,21.62 402.26,22.15 402.56,22.73 402.87,23.36 403.17,24.06 403.47,24.80 403.78,25.60 404.08,26.45 404.38,27.34 404.69,28.28 404.99,29.26 405.29,30.29 405.60,31.36 405.90,32.48 406.20,33.63 406.51,34.83 406.81,36.06 407.12,37.34 407.42,38.66 407.72,40.02 408.03,41.42 408.33,42.86 408.63,44.34 408.94,45.87 409.24,47.43 409.54,49.04 409.85,50.69 410.15,52.39 410.46,54.12 410.76,55.90 411.06,57.72 411.37,59.59 411.67,61.50 411.97,63.44 412.28,65.43 412.58,67.46 412.88,69.53 413.19,71.63 413.49,73.76 413.80,75.90 414.10,78.04 414.40,80.19 414.71,82.35 415.01,84.28 415.31,86.19 415.62,88.10 415.92,90.00 416.22,91.89 416.53,93.76 416.83,95.59 417.14,97.40 417.44,99.17 417.74,100.90 418.05,102.60 418.35,104.26 418.65,105.89 418.96,107.47 419.26,109.02 419.56,110.53 419.87,112.00 420.17,113.44 420.48,114.83 420.78,116.19 421.08,117.51 421.39,118.80 421.69,120.05 421.99,121.26 422.30,122.43 422.60,123.57 422.90,124.68 423.21,125.74 423.51,126.78 423.82,127.77 424.12,128.73 424.42,129.65 424.73,130.53 425.03,131.37 425.33,132.17 425.64,132.93 425.94,133.64 426.24,134.31 426.55,134.94 426.85,135.51 427.16,136.04 427.46,136.51 427.76,136.93 428.07,137.29 428.37,137.59 428.67,137.83 428.98,138.01 429.28,138.12 429.58,138.16 429.89,138.13 430.19,138.04 430.49,137.86 430.80,137.62 431.10,137.29 431.41,136.89 431.71,136.41 432.01,135.85 432.32,135.21 432.62,134.49 432.92,133.69 433.23,132.82 433.53,131.86 433.83,130.83 434.14,129.72 434.44,128.55 434.75,127.30 435.05,125.98 435.35,124.60 435.66,123.15 435.96,121.65 436.26,120.10 436.57,118.49 436.87,116.84 437.17,115.14 437.48,113.41 437.78,111.64 438.09,109.84 438.39,108.02 438.69,106.17 439.00,104.31 439.30,102.43 439.60,100.55 439.91,98.65 440.21,96.76 440.51,94.87 440.82,92.98 441.12,91.09 441.43,89.20 441.73,87.29 442.03,85.39 442.34,83.48 442.64,81.47 442.94,79.36 443.25,77.27 443.55,75.17 443.85,73.09 444.16,71.02 444.46,68.96 444.77,66.92 445.07,64.89 445.37,62.89 445.68,60.91 445.98,58.96 446.28,57.03 446.59,55.13 446.89,53.27 447.19,51.44 447.50,49.65 447.80,47.89 448.11,46.18 448.41,44.51 448.71,42.89 449.02,41.31 449.32,39.78 449.62,38.30 449.93,36.87 450.23,35.50 450.53,34.18 450.84,32.92 451.14,31.72 451.45,30.58 451.75,29.50 452.05,28.48 452.36,27.53 452.66,26.64 452.96,25.82 453.27,25.07 453.57,24.38 453.87,23.76 454.18,23.21 454.48,22.73 454.78,22.32 455.09,21.99 455.39,21.72 455.70,21.53 456.00,21.41 456.30,21.36 456.61,21.38 456.91,21.48 457.21,21.64 457.52,21.88 457.82,22.19 458.12,22.58 458.43,23.03 458.73,23.55 459.04,24.15 459.34,24.81 459.64,25.54 459.95,26.34 460.25,27.20 460.55,28.13 460.86,29.13 461.16,30.18 461.46,31.30 461.77,32.48 462.07,33.72 462.38,35.02 462.68,36.37 462.98,37.78 463.29,39.24 463.59,40.75 463.89,42.31 464.20,43.92 464.50,45.57 464.80,47.27 465.11,49.01 465.41,50.79 465.72,52.60 466.02,54.45 466.32,56.34 466.63,58.26 466.93,60.20 467.23,62.17 467.54,64.17 467.84,66.18 468.14,68.22 468.45,70.27 468.75,72.34 469.06,74.42 469.36,76.51 469.66,78.60 469.97,80.71 470.27,82.80 470.57,84.79 470.88,86.78 471.18,88.76 471.48,90.74 471.79,92.71 472.09,94.66 472.40,96.60 472.70,98.53 473.00,100.43 473.31,102.32 473.61,104.18 473.91,106.02 474.22,107.82 474.52,109.60 474.82,111.35 475.13,113.06 475.43,114.74 475.74,116.37 476.04,117.97 476.34,119.53 476.65,121.04 476.95,122.51 477.25,123.93 477.56,125.30 477.86,126.62 478.16,127.89 478.47,129.10 478.77,130.26 479.07,131.37 479.38,132.41 479.68,133.40 479.99,134.33 480.29,135.19 480.59,136.00 480.90,136.74 481.20,137.41 481.50,138.02 481.81,138.57 482.11,139.05 482.41,139.46 482.72,139.81 483.02,140.09 483.33,140.30 483.63,140.44 483.93,140.51 484.24,140.52 484.54,140.45 484.84,140.32 485.15,140.12 485.45,139.85 485.75,139.52 486.06,139.11 486.36,138.64 486.67,138.11 486.97,137.51 487.27,136.84 487.58,136.11 487.88,135.31 488.18,134.46 488.49,133.54 488.79,132.56 489.09,131.52 489.40,130.43 489.70,129.28 490.01,128.07 490.31,126.81 490.61,125.50 490.92,124.13 491.22,122.72 491.52,121.26 491.83,119.75 492.13,118.20 492.43,116.61 492.74,114.98 493.04,113.31 493.35,111.60 493.65,109.86 493.95,108.08 494.26,106.28 494.56,104.45 494.86,102.59 495.17,100.71 495.47,98.81 495.77,96.88 496.08,94.95 496.38,92.99 496.69,91.03 496.99,89.05 497.29,87.07 497.60,85.08 497.90,83.09 498.20,81.01 498.51,78.91 498.81,76.81 499.11,74.72 499.42,72.64 499.72,70.57 500.03,68.52 500.33,66.48 500.63,64.46 500.94,62.46 501.24,60.48 501.54,58.54 501.85,56.62 502.15,54.73 502.45,52.87 502.76,51.05 503.06,49.26 503.36,47.52 503.67,45.81 503.97,44.15 504.28,42.54 504.58,40.97 504.88,39.45 505.19,37.99 505.49,36.57 505.79,35.21 506.10,33.91 506.40,32.66 506.70,31.47 507.01,30.34 507.31,29.28 507.62,28.27 507.92,27.33 508.22,26.46 508.53,25.65 508.83,24.91 509.13,24.24 509.44,23.64 509.74,23.10 510.04,22.64 510.35,22.25 510.65,21.92 510.96,21.67 511.26,21.50 511.56,21.39 511.87,21.36 512.17,21.40 512.47,21.51 512.78,21.69 513.08,21.94 513.38,22.27 513.69,22.67 513.99,23.14 514.30,23.68 514.60,24.28 514.90,24.96 515.21,25.71 515.51,26.52 515.81,27.40 516.12,28.34 516.42,29.35 516.72,30.42 517.03,31.55 517.33,32.74 517.64,34.00 517.94,35.30 518.24,36.67 518.55,38.09 518.85,39.56 519.15,41.08 519.46,42.65 519.76,44.27 520.06,45.93 520.37,47.64 520.67,49.39 520.98,51.18 521.28,53.00 521.58,54.86 521.89,56.75 522.19,58.67 522.49,60.62 522.80,62.60 523.10,64.60 523.40,66.62 523.71,68.66 524.01,70.72 524.32,72.79 524.62,74.87 524.92,76.96 525.23,79.06 525.53,81.16 525.83,83.23 526.14,85.22 526.44,87.21 526.74,89.19 527.05,91.17 527.35,93.13 527.65,95.08 527.96,97.02 528.26,98.94 528.57,100.84 528.87,102.72 529.17,104.58 529.48,106.41 529.78,108.21 530.08,109.98 530.39,111.72 530.69,113.43 530.99,115.09 531.30,116.72 531.60,118.31 531.91,119.86 532.21,121.36 532.51,122.82 532.82,124.23 533.12,125.59 533.42,126.90 533.73,128.16 534.03,129.36 534.33,130.51 534.64,131.60 534.94,132.63 535.25,133.61 535.55,134.52 535.85,135.37 536.16,136.16 536.46,136.89 536.76,137.55 537.07,138.15 537.37,138.68 537.67,139.14 537.98,139.54 538.28,139.87 538.59,140.14 538.89,140.33 539.19,140.46 539.50,140.52 539.80,140.51"/>
<polyline fill="none" stroke="#000" stroke-width="2.6" stroke-dasharray="9 1.8 4.3 1.8" stroke-linejoin="round" points="54.00,82.55 54.30,80.58 54.61,78.61 54.91,76.65 55.21,74.69 55.52,72.74 55.82,70.81 56.13,68.91 56.43,67.05 56.73,65.21 57.04,63.41 57.34,61.64 57.64,59.91 57.95,58.21 58.25,56.55 58.55,54.92 58.86,53.34 59.16,51.78 59.47,50.27 59.77,48.79 60.07,47.34 60.38,45.93 60.68,44.56 60.98,43.22 61.29,41.92 61.59,40.65 61.89,39.42 62.20,38.22 62.50,37.06 62.81,35.93 63.11,34.84 63.41,33.78 63.72,32.77 64.02,31.79 64.32,30.85 64.63,29.94 64.93,29.08 65.23,28.27 65.54,27.49 65.84,26.75 66.14,26.03 66.45,25.37 66.75,24.76 67.06,24.22 67.36,23.73 67.66,23.31 67.97,22.95 68.27,22.66 68.57,22.44 68.88,22.30 69.18,22.22 69.48,22.23 69.79,22.31 70.09,22.47 70.40,22.71 70.70,23.04 71.00,23.45 71.31,23.94 71.61,24.52 71.91,25.18 72.22,25.93 72.52,26.75 72.82,27.67 73.13,28.66 73.43,29.74 73.74,30.89 74.04,32.12 74.34,33.42 74.65,34.79 74.95,36.24 75.25,37.74 75.56,39.31 75.86,40.93 76.16,42.61 76.47,44.34 76.77,46.12 77.08,47.93 77.38,49.79 77.68,51.67 77.99,53.59 78.29,55.53 78.59,57.50 78.90,59.48 79.20,61.47 79.50,63.48 79.81,65.49 80.11,67.50 80.42,69.52 80.72,71.55 81.02,73.60 81.33,75.66 81.63,77.72 81.93,79.79 82.24,81.86 82.54,83.90 82.84,85.91 83.15,87.92 83.45,89.93 83.76,91.93 84.06,93.94 84.36,95.94 84.67,97.94 84.97,99.93 85.27,101.91 85.58,103.88 85.88,105.82 86.18,107.74 86.49,109.64 86.79,111.51 87.10,113.35 87.40,115.15 87.70,116.92 88.01,118.64 88.31,120.31 88.61,121.94 88.92,123.51 89.22,125.03 89.52,126.50 89.83,127.90 90.13,129.24 90.44,130.51 90.74,131.72 91.04,132.86 91.35,133.93 91.65,134.93 91.95,135.86 92.26,136.71 92.56,137.48 92.86,138.19 93.17,138.81 93.47,139.37 93.77,139.84 94.08,140.25 94.38,140.58 94.69,140.83 94.99,141.01 95.29,141.13 95.60,141.17 95.90,141.14 96.20,141.04 96.51,140.88 96.81,140.65 97.11,140.36 97.42,140.00 97.72,139.58 98.03,139.11 98.33,138.57 98.63,137.98 98.94,137.33 99.24,136.62 99.54,135.86 99.85,135.05 100.15,134.19 100.45,133.28 100.76,132.31 101.06,131.30 101.37,130.24 101.67,129.13 101.97,127.98 102.28,126.78 102.58,125.53 102.88,124.24 103.19,122.90 103.49,121.52 103.79,120.09 104.10,118.63 104.40,117.12 104.71,115.56 105.01,113.97 105.31,112.34 105.62,110.66 105.92,108.95 106.22,107.20 106.53,105.41 106.83,103.59 107.13,101.74 107.44,99.85 107.74,97.93 108.05,95.98 108.35,94.01 108.65,92.02 108.96,90.03 109.26,88.03 109.56,86.02 109.87,84.01 110.17,81.98 110.47,79.90 110.78,77.83 111.08,75.77 111.39,73.72 111.69,71.68 111.99,69.66 112.30,67.67 112.60,65.69 112.90,63.74 113.21,61.82 113.51,59.93 113.81,58.06 114.12,56.23 114.42,54.43 114.72,52.66 115.03,50.93 115.33,49.24 115.64,47.59 115.94,45.98 116.24,44.41 116.55,42.88 116.85,41.40 117.15,39.96 117.46,38.57 117.76,37.23 118.06,35.94 118.37,34.69 118.67,33.50 118.98,32.36 119.28,31.28 119.58,30.25 119.89,29.27 120.19,28.36 120.49,27.50 120.80,26.70 121.10,25.96 121.40,25.29 121.71,24.68 122.01,24.14 122.32,23.66 122.62,23.24 122.92,22.90 123.23,22.62 123.53,22.42 123.83,22.28 124.14,22.22 124.44,22.23 124.74,22.31 125.05,22.47 125.35,22.70 125.66,23.00 125.96,23.37 126.26,23.83 126.57,24.35 126.87,24.95 127.17,25.62 127.48,26.36 127.78,27.18 128.08,28.07 128.39,29.02 128.69,30.05 129.00,31.14 129.30,32.30 129.60,33.52 129.91,34.81 130.21,36.15 130.51,37.56 130.82,39.02 131.12,40.53 131.42,42.10 131.73,43.71 132.03,45.37 132.34,47.08 132.64,48.82 132.94,50.60 133.25,52.42 133.55,54.28 133.85,56.16 134.16,58.07 134.46,60.01 134.76,61.96 135.07,63.94 135.37,65.93 135.68,67.94 135.98,69.96 136.28,72.00 136.59,74.04 136.89,76.10 137.19,78.17 137.50,80.24 137.80,82.31 138.10,84.37 138.41,86.43 138.71,88.48 139.01,90.53 139.32,92.59 139.62,94.66 139.93,96.72 140.23,98.79 140.53,100.85 140.84,102.90 141.14,104.94 141.44,106.96 141.75,108.97 142.05,110.95 142.35,112.89 142.66,114.81 142.96,116.69 143.27,118.53 143.57,120.32 143.87,122.06 144.18,123.75 144.48,125.38 144.78,126.95 145.09,128.45 145.39,129.89 145.69,131.26 146.00,132.55 146.30,133.77 146.61,134.91 146.91,135.97 147.21,136.96 147.52,137.86 147.82,138.68 148.12,139.42 148.43,140.07 148.73,140.65 149.03,141.14 149.34,141.56 149.64,141.89 149.95,142.14 150.25,142.32 150.55,142.43 150.86,142.45 151.16,142.41 151.46,142.30 151.77,142.12 152.07,141.87 152.37,141.56 152.68,141.19 152.98,140.76 153.29,140.27 153.59,139.72 153.89,139.12 154.20,138.47 154.50,137.76 154.80,137.00 155.11,136.20 155.41,135.35 155.71,134.45 156.02,133.50 156.32,132.51 156.63,131.48 156.93,130.40 157.23,129.27 157.54,128.11 157.84,126.90 158.14,125.65 158.45,124.35 158.75,123.02 159.05,121.63 159.36,120.21 159.66,118.74 159.97,117.23 160.27,115.68 160.57,114.08 160.88,112.44 161.18,110.76 161.48,109.03 161.79,107.27 162.09,105.46 162.39,103.61 162.70,101.72 163.00,99.80 163.30,97.83 163.61,95.84 163.91,93.82 164.22,91.79 164.52,89.75 164.82,87.71 165.13,85.65 165.43,83.59 165.73,81.47 166.04,79.28 166.34,77.09 166.64,74.91 166.95,72.76 167.25,70.63 167.56,68.53 167.86,66.46 168.16,64.42 168.47,62.41 168.77,60.44 169.07,58.51 169.38,56.61 169.68,54.76 169.98,52.94 170.29,51.15 170.59,49.41 170.90,47.71 171.20,46.05 171.50,44.43 171.81,42.85 172.11,41.31 172.41,39.81 172.72,38.36 173.02,36.95 173.32,35.58 173.63,34.26 173.93,32.98 174.24,31.74 174.54,30.56 174.84,29.42 175.15,28.33 175.45,27.29 175.75,26.30 176.06,25.36 176.36,24.48 176.66,23.65 176.97,22.88 177.27,22.17 177.58,21.52 177.88,20.94 178.18,20.42 178.49,19.97 178.79,19.58 179.09,19.27 179.40,19.04 179.70,18.88 180.00,18.79 180.31,18.79 180.61,18.86 180.92,19.02 181.22,19.26 181.52,19.59 181.83,20.00 182.13,20.50 182.43,21.08 182.74,21.75 183.04,22.51 183.34,23.35 183.65,24.27 183.95,25.28 184.26,26.37 184.56,27.55 184.86,28.80 185.17,30.12 185.47,31.53 185.77,33.00 186.08,34.54 186.38,36.14 186.68,37.81 186.99,39.53 187.29,41.31 187.59,43.14 187.90,45.01 188.20,46.93 188.51,48.89 188.81,50.88 189.11,52.90 189.42,54.94 189.72,57.01 190.02,59.10 190.33,61.20 190.63,63.32 190.93,65.44 191.24,67.57 191.54,69.71 191.85,71.86 192.15,74.03 192.45,76.21 192.76,78.39 193.06,80.58 193.36,82.75 193.67,84.77 193.97,86.78 194.27,88.79 194.58,90.80 194.88,92.81 195.19,94.83 195.49,96.86 195.79,98.88 196.10,100.89 196.40,102.90 196.70,104.89 197.01,106.87 197.31,108.82 197.61,110.75 197.92,112.65 198.22,114.52 198.53,116.35 198.83,118.14 199.13,119.88 199.44,121.57 199.74,123.21 200.04,124.79 200.35,126.32 200.65,127.77 200.95,129.17 201.26,130.49 201.56,131.74 201.87,132.92 202.17,134.02 202.47,135.04 202.78,135.98 203.08,136.85 203.38,137.64 203.69,138.34 203.99,138.97 204.29,139.51 204.60,139.98 204.90,140.36 205.21,140.67 205.51,140.91 205.81,141.07 206.12,141.15 206.42,141.16 206.72,141.11 207.03,140.98 207.33,140.79 207.63,140.54 207.94,140.22 208.24,139.84 208.55,139.41 208.85,138.92 209.15,138.37 209.46,137.77 209.76,137.12 210.06,136.42 210.37,135.67 210.67,134.87 210.97,134.02 211.28,133.13 211.58,132.20 211.88,131.22 212.19,130.20 212.49,129.13 212.80,128.03 213.10,126.88 213.40,125.68 213.71,124.45 214.01,123.17 214.31,121.86 214.62,120.50 214.92,119.09 215.22,117.65 215.53,116.16 215.83,114.63 216.14,113.06 216.44,111.45 216.74,109.79 217.05,108.09 217.35,106.36 217.65,104.58 217.96,102.76 218.26,100.91 218.56,99.01 218.87,97.08 219.17,95.13 219.48,93.15 219.78,91.16 220.08,89.17 220.39,87.16 220.69,85.15 220.99,83.13 221.30,81.09 221.60,79.03 221.90,76.98 222.21,74.93 222.51,72.89 222.82,70.85 223.12,68.82 223.42,66.80 223.73,64.79 224.03,62.80 224.33,60.83 224.64,58.88 224.94,56.96 225.24,55.07 225.55,53.20 225.85,51.37 226.16,49.58 226.46,47.82 226.76,46.11 227.07,44.44 227.37,42.82 227.67,41.25 227.98,39.73 228.28,38.26 228.58,36.85 228.89,35.50 229.19,34.21 229.50,32.98 229.80,31.81 230.10,30.71 230.41,29.68 230.71,28.72 231.01,27.82 231.32,26.99 231.62,26.24 231.92,25.56 232.23,24.94 232.53,24.40 232.84,23.94 233.14,23.54 233.44,23.22 233.75,22.97 234.05,22.79 234.35,22.68 234.66,22.64 234.96,22.68 235.26,22.78 235.57,22.95 235.87,23.20 236.17,23.50 236.48,23.88 236.78,24.32 237.09,24.82 237.39,25.39 237.69,26.03 238.00,26.72 238.30,27.47 238.60,28.29 238.91,29.16 239.21,30.09 239.51,31.08 239.82,32.12 240.12,33.22 240.43,34.37 240.73,35.58 241.03,36.83 241.34,38.14 241.64,39.50 241.94,40.90 242.25,42.35 242.55,43.85 242.85,45.39 243.16,46.98 243.46,48.61 243.77,50.28 244.07,51.99 244.37,53.74 244.68,55.52 244.98,57.34 245.28,59.20 245.59,61.08 245.89,63.00 246.19,64.94 246.50,66.92 246.80,68.91 247.11,70.92 247.41,72.95 247.71,74.99 248.02,77.04 248.32,79.09 248.62,81.15 248.93,83.21 249.23,85.28 249.53,87.35 249.84,89.42 250.14,91.51 250.45,93.64 250.75,95.80 251.05,97.99 251.36,100.20 251.66,102.43 251.96,104.66 252.27,106.90 252.57,109.13 252.87,111.35 253.18,113.55 253.48,115.72 253.79,117.85 254.09,119.94 254.39,121.98 254.70,123.95 255.00,125.85 255.30,127.67 255.61,129.41 255.91,131.06 256.21,132.62 256.52,134.07 256.82,135.41 257.13,136.65 257.43,137.77 257.73,138.78 258.04,139.68 258.34,140.46 258.64,141.13 258.95,141.68 259.25,142.13 259.55,142.47 259.86,142.71 260.16,142.84 260.47,142.88 260.77,142.84 261.07,142.71 261.38,142.49 261.68,142.21 261.98,141.86 262.29,141.44 262.59,140.97 262.89,140.44 263.20,139.87 263.50,139.25 263.80,138.60 264.11,137.91 264.41,137.19 264.72,136.44 265.02,135.67 265.32,134.87 265.63,134.06 265.93,133.22 266.23,132.36 266.54,131.48 266.84,130.59 267.14,129.67 267.45,128.74 267.75,127.78 268.06,126.81 268.36,125.80 268.66,124.78 268.97,123.72 269.27,122.64 269.57,121.52 269.88,120.37 270.18,119.18 270.48,117.95 270.79,116.67 271.09,115.35 271.40,113.98 271.70,112.56 272.00,111.08 272.31,109.55 272.61,107.95 272.91,106.30 273.22,104.58 273.52,102.80 273.82,100.96 274.13,99.05 274.43,97.08 274.74,95.06 275.04,93.02 275.34,90.97 275.65,88.91 275.95,86.85 276.25,84.78 276.56,82.70 276.86,80.64 277.16,78.59 277.47,76.53 277.77,74.49 278.08,72.47 278.38,70.47 278.68,68.49 278.99,66.53 279.29,64.60 279.59,62.70 279.90,60.83 280.20,58.98 280.50,57.17 280.81,55.40 281.11,53.66 281.42,51.95 281.72,50.28 282.02,48.65 282.33,47.06 282.63,45.51 282.93,44.00 283.24,42.53 283.54,41.11 283.84,39.73 284.15,38.39 284.45,37.10 284.75,35.85 285.06,34.66 285.36,33.51 285.67,32.41 285.97,31.37 286.27,30.37 286.58,29.43 286.88,28.55 287.18,27.72 287.49,26.95 287.79,26.24 288.09,25.58 288.40,24.99 288.70,24.47 289.01,24.00 289.31,23.61 289.61,23.27 289.92,23.01 290.22,22.82 290.52,22.70 290.83,22.65 291.13,22.67 291.43,22.76 291.74,22.93 292.04,23.18 292.35,23.50 292.65,23.89 292.95,24.36 293.26,24.91 293.56,25.54 293.86,26.23 294.17,27.01 294.47,27.85 294.77,28.77 295.08,29.76 295.38,30.82 295.69,31.95 295.99,33.15 296.29,34.41 296.60,35.74 296.90,37.13 297.20,38.57 297.51,40.07 297.81,41.63 298.11,43.23 298.42,44.88 298.72,46.58 299.03,48.32 299.33,50.10 299.63,51.91 299.94,53.76 300.24,55.63 300.54,57.54 300.85,59.46 301.15,61.41 301.45,63.37 301.76,65.35 302.06,67.34 302.37,69.35 302.67,71.36 302.97,73.39 303.28,75.43 303.58,77.48 303.88,79.53 304.19,81.59 304.49,83.85 304.79,86.27 305.10,88.70 305.40,91.12 305.71,93.55 306.01,95.99 306.31,98.45 306.62,100.91 306.92,103.38 307.22,105.84 307.53,108.29 307.83,110.73 308.13,113.15 308.44,115.54 308.74,117.91 309.04,120.23 309.35,122.52 309.65,124.75 309.96,126.93 310.26,129.06 310.56,131.11 310.87,133.10 311.17,135.00 311.47,136.83 311.78,138.58 312.08,140.23 312.38,141.79 312.69,143.26 312.99,144.63 313.30,145.90 313.60,147.06 313.90,148.13 314.21,149.09 314.51,149.94 314.81,150.70 315.12,151.35 315.42,151.90 315.72,152.35 316.03,152.70 316.33,152.95 316.64,153.12 316.94,153.19 317.24,153.17 317.55,153.07 317.85,152.88 318.15,152.62 318.46,152.28 318.76,151.87 319.06,151.39 319.37,150.84 319.67,150.23 319.98,149.55 320.28,148.82 320.58,148.03 320.89,147.18 321.19,146.29 321.49,145.34 321.80,144.34 322.10,143.29 322.40,142.20 322.71,141.05 323.01,139.86 323.32,138.63 323.62,137.35 323.92,136.02 324.23,134.65 324.53,133.23 324.83,131.77 325.14,130.25 325.44,128.69 325.74,127.08 326.05,125.41 326.35,123.70 326.66,121.94 326.96,120.12 327.26,118.25 327.57,116.33 327.87,114.35 328.17,112.32 328.48,110.24 328.78,108.10 329.08,105.92 329.39,103.68 329.69,101.39 330.00,99.05 330.30,96.68 330.60,94.29 330.91,91.89 331.21,89.48 331.51,87.06 331.82,84.63 332.12,82.24 332.42,80.06 332.73,77.89 333.03,75.72 333.33,73.56 333.64,71.41 333.94,69.27 334.25,67.15 334.55,65.05 334.85,62.97 335.16,60.91 335.46,58.88 335.76,56.87 336.07,54.90 336.37,52.96 336.67,51.05 336.98,49.18 337.28,47.35 337.59,45.56 337.89,43.81 338.19,42.11 338.50,40.46 338.80,38.86 339.10,37.31 339.41,35.81 339.71,34.37 340.01,32.99 340.32,31.66 340.62,30.39 340.93,29.19 341.23,28.05 341.53,26.97 341.84,25.96 342.14,25.02 342.44,24.14 342.75,23.33 343.05,22.59 343.35,21.93 343.66,21.33 343.96,20.81 344.27,20.36 344.57,19.98 344.87,19.68 345.18,19.45 345.48,19.30 345.78,19.22 346.09,19.22 346.39,19.29 346.69,19.43 347.00,19.65 347.30,19.95 347.61,20.32 347.91,20.76 348.21,21.27 348.52,21.86 348.82,22.52 349.12,23.25 349.43,24.05 349.73,24.92 350.03,25.86 350.34,26.86 350.64,27.93 350.95,29.07 351.25,30.26 351.55,31.52 351.86,32.84 352.16,34.22 352.46,35.66 352.77,37.15 353.07,38.69 353.37,40.29 353.68,41.94 353.98,43.63 354.29,45.37 354.59,47.16 354.89,48.98 355.20,50.85 355.50,52.75 355.80,54.69 356.11,56.66 356.41,58.66 356.71,60.69 357.02,62.75 357.32,64.83 357.62,66.93 357.93,69.05 358.23,71.18 358.54,73.33 358.84,75.49 359.14,77.66 359.45,79.83 359.75,82.01 360.05,84.15 360.36,86.27 360.66,88.39 360.96,90.51 361.27,92.67 361.57,94.85 361.88,97.06 362.18,99.29 362.48,101.53 362.79,103.78 363.09,106.04 363.39,108.29 363.70,110.53 364.00,112.76 364.30,114.96 364.61,117.12 364.91,119.25 365.22,121.32 365.52,123.34 365.82,125.30 366.13,127.18 366.43,128.99 366.73,130.72 367.04,132.35 367.34,133.90 367.64,135.34 367.95,136.68 368.25,137.91 368.56,139.04 368.86,140.06 369.16,140.96 369.47,141.76 369.77,142.45 370.07,143.02 370.38,143.50 370.68,143.87 370.98,144.13 371.29,144.30 371.59,144.38 371.90,144.37 372.20,144.28 372.50,144.10 372.81,143.85 373.11,143.53 373.41,143.15 373.72,142.70 374.02,142.20 374.32,141.65 374.63,141.06 374.93,140.41 375.24,139.73 375.54,139.01 375.84,138.26 376.15,137.48 376.45,136.67 376.75,135.83 377.06,134.96 377.36,134.07 377.66,133.15 377.97,132.21 378.27,131.24 378.58,130.25 378.88,129.23 379.18,128.19 379.49,127.12 379.79,126.01 380.09,124.88 380.40,123.71 380.70,122.50 381.00,121.26 381.31,119.97 381.61,118.64 381.91,117.27 382.22,115.85 382.52,114.38 382.83,112.85 383.13,111.28 383.43,109.64 383.74,107.95 384.04,106.20 384.34,104.39 384.65,102.52 384.95,100.59 385.25,98.59 385.56,96.54 385.86,94.47 386.17,92.37 386.47,90.27 386.77,88.16 387.08,86.04 387.38,83.91 387.68,81.79 387.99,79.69 388.29,77.59 388.59,75.50 388.90,73.42 389.20,71.36 389.51,69.33 389.81,67.32 390.11,65.33 390.42,63.37 390.72,61.44 391.02,59.54 391.33,57.67 391.63,55.84 391.93,54.04 392.24,52.28 392.54,50.55 392.85,48.86 393.15,47.22 393.45,45.61 393.76,44.04 394.06,42.52 394.36,41.04 394.67,39.60 394.97,38.21 395.27,36.86 395.58,35.56 395.88,34.31 396.19,33.11 396.49,31.96 396.79,30.87 397.10,29.82 397.40,28.83 397.70,27.89 398.01,27.01 398.31,26.19 398.61,25.43 398.92,24.73 399.22,24.09 399.53,23.52 399.83,23.00 400.13,22.56 400.44,22.18 400.74,21.88 401.04,21.64 401.35,21.47 401.65,21.38 401.95,21.36 402.26,21.41 402.56,21.54 402.87,21.75 403.17,22.03 403.47,22.39 403.78,22.83 404.08,23.35 404.38,23.94 404.69,24.61 404.99,25.35 405.29,26.18 405.60,27.07 405.90,28.04 406.20,29.09 406.51,30.20 406.81,31.39 407.12,32.64 407.42,33.96 407.72,35.34 408.03,36.78 408.33,38.28 408.63,39.84 408.94,41.45 409.24,43.11 409.54,44.82 409.85,46.57 410.15,48.37 410.46,50.20 410.76,52.06 411.06,53.96 411.37,55.89 411.67,57.85 411.97,59.82 412.28,61.82 412.58,63.83 412.88,65.86 413.19,67.90 413.49,69.95 413.80,72.02 414.10,74.09 414.40,76.18 414.71,78.28 415.01,80.38 415.31,82.48 415.62,84.87 415.92,87.27 416.22,89.66 416.53,92.05 416.83,94.47 417.14,96.91 417.44,99.36 417.74,101.82 418.05,104.29 418.35,106.76 418.65,109.22 418.96,111.67 419.26,114.10 419.56,116.50 419.87,118.87 420.17,121.20 420.48,123.49 420.78,125.72 421.08,127.90 421.39,130.01 421.69,132.05 421.99,134.01 422.30,135.89 422.60,137.68 422.90,139.38 423.21,140.98 423.51,142.48 423.82,143.88 424.12,145.17 424.42,146.36 424.73,147.43 425.03,148.40 425.33,149.25 425.64,150.00 425.94,150.64 426.24,151.18 426.55,151.60 426.85,151.93 427.16,152.16 427.46,152.29 427.76,152.33 428.07,152.28 428.37,152.15 428.67,151.93 428.98,151.64 429.28,151.27 429.58,150.83 429.89,150.33 430.19,149.76 430.49,149.13 430.80,148.45 431.10,147.71 431.41,146.92 431.71,146.08 432.01,145.20 432.32,144.27 432.62,143.30 432.92,142.29 433.23,141.23 433.53,140.14 433.83,139.00 434.14,137.83 434.44,136.62 434.75,135.36 435.05,134.07 435.35,132.73 435.66,131.35 435.96,129.92 436.26,128.46 436.57,126.94 436.87,125.38 437.17,123.76 437.48,122.10 437.78,120.38 438.09,118.61 438.39,116.79 438.69,114.91 439.00,112.98 439.30,110.98 439.60,108.93 439.91,106.82 440.21,104.66 440.51,102.44 440.82,100.16 441.12,97.84 441.43,95.49 441.73,93.12 442.03,90.75 442.34,88.36 442.64,85.97 442.94,83.57 443.25,81.33 443.55,79.21 443.85,77.10 444.16,74.99 444.46,72.88 444.77,70.77 445.07,68.66 445.37,66.56 445.68,64.47 445.98,62.39 446.28,60.32 446.59,58.28 446.89,56.25 447.19,54.25 447.50,52.28 447.80,50.35 448.11,48.45 448.41,46.59 448.71,44.78 449.02,43.01 449.32,41.30 449.62,39.64 449.93,38.03 450.23,36.49 450.53,35.01 450.84,33.59 451.14,32.25 451.45,30.97 451.75,29.77 452.05,28.63 452.36,27.58 452.66,26.60 452.96,25.70 453.27,24.87 453.57,24.13 453.87,23.46 454.18,22.87 454.48,22.36 454.78,21.93 455.09,21.58 455.39,21.30 455.70,21.10 456.00,20.98 456.30,20.93 456.61,20.95 456.91,21.05 457.21,21.21 457.52,21.45 457.82,21.75 458.12,22.12 458.43,22.55 458.73,23.04 459.04,23.60 459.34,24.22 459.64,24.90 459.95,25.63 460.25,26.43 460.55,27.27 460.86,28.18 461.16,29.13 461.46,30.14 461.77,31.20 462.07,32.31 462.38,33.47 462.68,34.68 462.98,35.94 463.29,37.24 463.59,38.60 463.89,40.00 464.20,41.45 464.50,42.94 464.80,44.48 465.11,46.06 465.41,47.69 465.72,49.36 466.02,51.07 466.32,52.83 466.63,54.62 466.93,56.46 467.23,58.34 467.54,60.25 467.84,62.20 468.14,64.18 468.45,66.20 468.75,68.24 469.06,70.31 469.36,72.39 469.66,74.49 469.97,76.59 470.27,78.71 470.57,80.82 470.88,82.93 471.18,85.02 471.48,87.11 471.79,89.19 472.09,91.27 472.40,93.36 472.70,95.46 473.00,97.55 473.31,99.65 473.61,101.73 473.91,103.81 474.22,105.88 474.52,107.92 474.82,109.95 475.13,111.95 475.43,113.91 475.74,115.85 476.04,117.74 476.34,119.59 476.65,121.39 476.95,123.14 477.25,124.84 477.56,126.47 477.86,128.05 478.16,129.55 478.47,130.99 478.77,132.35 479.07,133.64 479.38,134.86 479.68,135.99 479.99,137.05 480.29,138.02 480.59,138.91 480.90,139.72 481.20,140.44 481.50,141.08 481.81,141.64 482.11,142.12 482.41,142.51 482.72,142.83 483.02,143.06 483.33,143.22 483.63,143.30 483.93,143.31 484.24,143.24 484.54,143.11 484.84,142.91 485.15,142.64 485.45,142.30 485.75,141.91 486.06,141.45 486.36,140.94 486.67,140.37 486.97,139.74 487.27,139.06 487.58,138.33 487.88,137.55 488.18,136.71 488.49,135.84 488.79,134.91 489.09,133.94 489.40,132.92 489.70,131.86 490.01,130.75 490.31,129.60 490.61,128.40 490.92,127.16 491.22,125.88 491.52,124.55 491.83,123.18 492.13,121.77 492.43,120.31 492.74,118.81 493.04,117.26 493.35,115.67 493.65,114.04 493.95,112.37 494.26,110.65 494.56,108.88 494.86,107.08 495.17,105.23 495.47,103.35 495.77,101.42 496.08,99.45 496.38,97.45 496.69,95.42 496.99,93.37 497.29,91.31 497.60,89.24 497.90,87.16 498.20,85.07 498.51,82.98 498.81,80.87 499.11,78.76 499.42,76.64 499.72,74.53 500.03,72.41 500.33,70.27 500.63,68.13 500.94,65.98 501.24,63.83 501.54,61.68 501.85,59.55 502.15,57.42 502.45,55.32 502.76,53.23 503.06,51.18 503.36,49.16 503.67,47.18 503.97,45.24 504.28,43.35 504.58,41.51 504.88,39.74 505.19,38.02 505.49,36.37 505.79,34.80 506.10,33.30 506.40,31.87 506.70,30.53 507.01,29.28 507.31,28.10 507.62,27.02 507.92,26.03 508.22,25.12 508.53,24.31 508.83,23.58 509.13,22.95 509.44,22.40 509.74,21.95 510.04,21.58 510.35,21.29 510.65,21.09 510.96,20.97 511.26,20.93 511.56,20.96 511.87,21.07 512.17,21.25 512.47,21.49 512.78,21.81 513.08,22.18 513.38,22.62 513.69,23.11 513.99,23.66 514.30,24.26 514.60,24.91 514.90,25.62 515.21,26.37 515.51,27.16 515.81,28.00 516.12,28.88 516.42,29.81 516.72,30.77 517.03,31.78 517.33,32.83 517.64,33.91 517.94,35.04 518.24,36.21 518.55,37.41 518.85,38.66 519.15,39.95 519.46,41.29 519.76,42.66 520.06,44.08 520.37,45.54 520.67,47.04 520.98,48.60 521.28,50.19 521.58,51.83 521.89,53.52 522.19,55.26 522.49,57.04 522.80,58.87 523.10,60.74 523.40,62.67 523.71,64.63 524.01,66.64 524.32,68.69 524.62,70.76 524.92,72.85 525.23,74.94 525.53,77.05 525.83,79.16 526.14,81.28 526.44,83.37 526.74,85.40 527.05,87.43 527.35,89.46 527.65,91.49 527.96,93.52 528.26,95.55 528.57,97.57 528.87,99.59 529.17,101.59 529.48,103.58 529.78,105.55 530.08,107.50 530.39,109.43 530.69,111.33 530.99,113.19 531.30,115.03 531.60,116.82 531.91,118.57 532.21,120.28 532.51,121.94 532.82,123.54 533.12,125.09 533.42,126.59 533.73,128.02 534.03,129.40 534.33,130.70 534.64,131.94 534.94,133.11 535.25,134.21 535.55,135.24 535.85,136.20 536.16,137.08 536.46,137.88 536.76,138.61 537.07,139.27 537.37,139.85 537.67,140.35 537.98,140.78 538.28,141.13 538.59,141.41 538.89,141.61 539.19,141.75 539.50,141.81 539.80,141.80"/>
</g>
<g clip-path="url(#c_roll)">
<polyline fill="none" stroke="#ff0000" stroke-width="2.4" stroke-linejoin="round" points="54.00,269.67 54.30,267.80 54.61,265.94 54.91,264.07 55.21,262.22 55.52,260.37 55.82,258.53 56.13,256.71 56.43,254.90 56.73,253.11 57.04,251.34 57.34,249.59 57.64,247.86 57.95,246.16 58.25,244.49 58.55,242.85 58.86,241.23 59.16,239.66 59.47,238.12 59.77,236.61 60.07,235.14 60.38,233.72 60.68,232.34 60.98,231.00 61.29,229.71 61.59,228.46 61.89,227.27 62.20,226.12 62.50,225.02 62.81,223.98 63.11,222.99 63.41,222.06 63.72,221.18 64.02,220.36 64.32,219.60 64.63,218.90 64.93,218.26 65.23,217.68 65.54,217.16 65.84,216.70 66.14,216.30 66.45,215.97 66.75,215.70 67.06,215.50 67.36,215.36 67.66,215.28 67.97,215.27 68.27,215.32 68.57,215.43 68.88,215.61 69.18,215.86 69.48,216.17 69.79,216.54 70.09,216.97 70.40,217.47 70.70,218.02 71.00,218.64 71.31,219.32 71.61,220.06 71.91,220.86 72.22,221.71 72.52,222.62 72.82,223.59 73.13,224.61 73.43,225.68 73.74,226.81 74.04,227.99 74.34,229.21 74.65,230.49 74.95,231.81 75.25,233.17 75.56,234.58 75.86,236.03 76.16,237.52 76.47,239.05 76.77,240.61 77.08,242.21 77.38,243.84 77.68,245.50 77.99,247.19 78.29,248.91 78.59,250.65 78.90,252.41 79.20,254.19 79.50,256.00 79.81,257.81 80.11,259.65 80.42,261.49 80.72,263.34 81.02,265.21 81.33,267.07 81.63,268.94 81.93,270.81 82.24,272.68 82.54,274.55 82.84,276.40 83.15,278.26 83.45,280.10 83.76,281.93 84.06,283.74 84.36,285.54 84.67,287.32 84.97,289.08 85.27,290.81 85.58,292.52 85.88,294.21 86.18,295.86 86.49,297.49 86.79,299.08 87.10,300.63 87.40,302.15 87.70,303.63 88.01,305.07 88.31,306.47 88.61,307.83 88.92,309.14 89.22,310.40 89.52,311.62 89.83,312.79 90.13,313.90 90.44,314.96 90.74,315.97 91.04,316.93 91.35,317.83 91.65,318.67 91.95,319.45 92.26,320.18 92.56,320.84 92.86,321.45 93.17,321.99 93.47,322.48 93.77,322.90 94.08,323.25 94.38,323.55 94.69,323.78 94.99,323.94 95.29,324.05 95.60,324.08 95.90,324.06 96.20,323.97 96.51,323.81 96.81,323.59 97.11,323.31 97.42,322.96 97.72,322.55 98.03,322.08 98.33,321.55 98.63,320.96 98.94,320.30 99.24,319.59 99.54,318.81 99.85,317.98 100.15,317.09 100.45,316.14 100.76,315.14 101.06,314.09 101.37,312.98 101.67,311.83 101.97,310.62 102.28,309.36 102.58,308.06 102.88,306.71 103.19,305.32 103.49,303.89 103.79,302.41 104.10,300.90 104.40,299.35 104.71,297.77 105.01,296.15 105.31,294.50 105.62,292.82 105.92,291.12 106.22,289.38 106.53,287.63 106.83,285.85 107.13,284.06 107.44,282.25 107.74,280.42 108.05,278.58 108.35,276.73 108.65,274.87 108.96,273.01 109.26,271.14 109.56,269.27 109.87,267.40 110.17,265.53 110.47,263.67 110.78,261.82 111.08,259.97 111.39,258.14 111.69,256.31 111.99,254.51 112.30,252.72 112.60,250.96 112.90,249.21 113.21,247.49 113.51,245.80 113.81,244.13 114.12,242.49 114.42,240.89 114.72,239.32 115.03,237.79 115.33,236.29 115.64,234.83 115.94,233.42 116.24,232.04 116.55,230.72 116.85,229.43 117.15,228.20 117.46,227.01 117.76,225.88 118.06,224.79 118.37,223.76 118.67,222.79 118.98,221.87 119.28,221.00 119.58,220.19 119.89,219.45 120.19,218.76 120.49,218.13 120.80,217.56 121.10,217.05 121.40,216.61 121.71,216.23 122.01,215.91 122.32,215.65 122.62,215.46 122.92,215.33 123.23,215.27 123.53,215.27 123.83,215.34 124.14,215.47 124.44,215.66 124.74,215.92 125.05,216.24 125.35,216.62 125.66,217.07 125.96,217.58 126.26,218.15 126.57,218.78 126.87,219.47 127.17,220.23 127.48,221.04 127.78,221.90 128.08,222.83 128.39,223.80 128.69,224.84 129.00,225.92 129.30,227.06 129.60,228.25 129.91,229.49 130.21,230.77 130.51,232.10 130.82,233.47 131.12,234.89 131.42,236.35 131.73,237.85 132.03,239.38 132.34,240.96 132.64,242.56 132.94,244.20 133.25,245.87 133.55,247.56 133.85,249.28 134.16,251.03 134.46,252.80 134.76,254.58 135.07,256.39 135.37,258.21 135.68,260.04 135.98,261.89 136.28,263.75 136.59,265.61 136.89,267.48 137.19,269.35 137.50,271.22 137.80,273.08 138.10,274.95 138.41,276.81 138.71,278.66 139.01,280.49 139.32,282.32 139.62,284.13 139.93,285.93 140.23,287.70 140.53,289.46 140.84,291.19 141.14,292.89 141.44,294.57 141.75,296.22 142.05,297.83 142.35,299.42 142.66,300.96 142.96,302.48 143.27,303.95 143.57,305.38 143.87,306.77 144.18,308.12 144.48,309.42 144.78,310.67 145.09,311.88 145.39,313.03 145.69,314.14 146.00,315.19 146.30,316.18 146.61,317.13 146.91,318.01 147.21,318.84 147.52,319.62 147.82,320.33 148.12,320.98 148.43,321.57 148.73,322.10 149.03,322.57 149.34,322.98 149.64,323.32 149.95,323.60 150.25,323.82 150.55,323.97 150.86,324.06 151.16,324.08 151.46,324.04 151.77,323.94 152.07,323.77 152.37,323.54 152.68,323.24 152.98,322.88 153.29,322.46 153.59,321.97 153.89,321.43 154.20,320.82 154.50,320.15 154.80,319.42 155.11,318.64 155.41,317.79 155.71,316.89 156.02,315.93 156.32,314.92 156.63,313.86 156.93,312.74 157.23,311.57 157.54,310.35 157.84,309.09 158.14,307.77 158.45,306.42 158.75,305.02 159.05,303.57 159.36,302.09 159.66,300.57 159.97,299.01 160.27,297.42 160.57,295.79 160.88,294.14 161.18,292.45 161.48,290.74 161.79,289.01 162.09,287.25 162.39,285.47 162.70,283.67 163.00,281.85 163.30,280.02 163.61,278.18 163.91,276.33 164.22,274.47 164.52,272.60 164.82,270.73 165.13,268.86 165.43,266.99 165.73,265.13 166.04,263.27 166.34,261.41 166.64,259.57 166.95,257.74 167.25,255.92 167.56,254.12 167.86,252.34 168.16,250.58 168.47,248.84 168.77,247.12 169.07,245.43 169.38,243.77 169.68,242.14 169.98,240.55 170.29,238.99 170.59,237.46 170.90,235.97 171.20,234.52 171.50,233.12 171.81,231.75 172.11,230.43 172.41,229.16 172.72,227.94 173.02,226.76 173.32,225.64 173.63,224.57 173.93,223.55 174.24,222.58 174.54,221.67 174.84,220.82 175.15,220.03 175.45,219.29 175.75,218.61 176.06,218.00 176.36,217.44 176.66,216.95 176.97,216.52 177.27,216.15 177.58,215.85 177.88,215.61 178.18,215.43 178.49,215.32 178.79,215.27 179.09,215.28 179.40,215.36 179.70,215.50 180.00,215.71 180.31,215.98 180.61,216.32 180.92,216.72 181.22,217.18 181.52,217.70 181.83,218.28 182.13,218.93 182.43,219.63 182.74,220.40 183.04,221.22 183.34,222.10 183.65,223.03 183.95,224.02 184.26,225.07 184.56,226.16 184.86,227.31 185.17,228.51 185.47,229.76 185.77,231.05 186.08,232.39 186.38,233.78 186.68,235.20 186.99,236.67 187.29,238.18 187.59,239.72 187.90,241.30 188.20,242.91 188.51,244.56 188.81,246.23 189.11,247.93 189.42,249.66 189.72,251.41 190.02,253.18 190.33,254.97 190.63,256.78 190.93,258.61 191.24,260.44 191.54,262.29 191.85,264.15 192.15,266.01 192.45,267.88 192.76,269.75 193.06,271.62 193.36,273.49 193.67,275.35 193.97,277.21 194.27,279.05 194.58,280.89 194.88,282.71 195.19,284.52 195.49,286.31 195.79,288.08 196.10,289.83 196.40,291.56 196.70,293.26 197.01,294.93 197.31,296.57 197.61,298.18 197.92,299.75 198.22,301.29 198.53,302.80 198.83,304.26 199.13,305.68 199.44,307.07 199.74,308.40 200.04,309.69 200.35,310.94 200.65,312.13 200.95,313.27 201.26,314.37 201.56,315.41 201.87,316.39 202.17,317.32 202.47,318.20 202.78,319.02 203.08,319.77 203.38,320.47 203.69,321.11 203.99,321.69 204.29,322.21 204.60,322.67 204.90,323.06 205.21,323.39 205.51,323.65 205.81,323.86 206.12,324.00 206.42,324.07 206.72,324.08 207.03,324.03 207.33,323.91 207.63,323.72 207.94,323.48 208.24,323.17 208.55,322.79 208.85,322.36 209.15,321.86 209.46,321.30 209.76,320.68 210.06,320.00 210.37,319.26 210.67,318.46 210.97,317.60 211.28,316.69 211.58,315.72 211.88,314.70 212.19,313.62 212.49,312.49 212.80,311.31 213.10,310.08 213.40,308.81 213.71,307.48 214.01,306.12 214.31,304.71 214.62,303.26 214.92,301.76 215.22,300.24 215.53,298.67 215.83,297.07 216.14,295.44 216.44,293.78 216.74,292.09 217.05,290.37 217.35,288.63 217.65,286.86 217.96,285.08 218.26,283.28 218.56,281.46 218.87,279.62 219.17,277.78 219.48,275.93 219.78,274.07 220.08,272.20 220.39,270.33 220.69,268.46 220.99,266.59 221.30,264.73 221.60,262.87 221.90,261.01 222.21,259.17 222.51,257.35 222.82,255.53 223.12,253.73 223.42,251.96 223.73,250.20 224.03,248.46 224.33,246.75 224.64,245.07 224.94,243.42 225.24,241.80 225.55,240.21 225.85,238.65 226.16,237.13 226.46,235.65 226.76,234.21 227.07,232.82 227.37,231.46 227.67,230.16 227.98,228.89 228.28,227.68 228.58,226.52 228.89,225.40 229.19,224.34 229.50,223.33 229.80,222.38 230.10,221.48 230.41,220.64 230.71,219.86 231.01,219.14 231.32,218.48 231.62,217.87 231.92,217.33 232.23,216.85 232.53,216.43 232.84,216.08 233.14,215.79 233.44,215.56 233.75,215.40 234.05,215.30 234.35,215.26 234.66,215.29 234.96,215.39 235.26,215.54 235.57,215.77 235.87,216.05 236.17,216.40 236.48,216.81 236.78,217.28 237.09,217.82 237.39,218.42 237.69,219.08 238.00,219.79 238.30,220.57 238.60,221.40 238.91,222.30 239.21,223.24 239.51,224.24 239.82,225.30 240.12,226.41 240.43,227.57 240.73,228.78 241.03,230.04 241.34,231.34 241.64,232.69 241.94,234.08 242.25,235.52 242.55,236.99 242.85,238.51 243.16,240.06 243.46,241.65 243.77,243.27 244.07,244.92 244.37,246.60 244.68,248.30 244.98,250.04 245.28,251.79 245.59,253.57 245.89,255.36 246.19,257.18 246.50,259.00 246.80,260.84 247.11,262.69 247.41,264.55 247.71,266.42 248.02,268.29 248.32,270.16 248.62,272.02 248.93,273.89 249.23,275.75 249.53,277.61 249.84,279.45 250.14,281.29 250.45,283.11 250.75,284.91 251.05,286.70 251.36,288.46 251.66,290.21 251.96,291.93 252.27,293.62 252.57,295.29 252.87,296.92 253.18,298.52 253.48,300.09 253.79,301.62 254.09,303.12 254.39,304.57 254.70,305.99 255.00,307.36 255.30,308.68 255.61,309.97 255.91,311.20 256.21,312.38 256.52,313.52 256.82,314.60 257.13,315.63 257.43,316.60 257.73,317.52 258.04,318.38 258.34,319.19 258.64,319.93 258.95,320.62 259.25,321.24 259.55,321.81 259.86,322.31 260.16,322.76 260.47,323.14 260.77,323.45 261.07,323.70 261.38,323.89 261.68,324.02 261.98,324.08 262.29,324.07 262.59,324.00 262.89,323.87 263.20,323.68 263.50,323.42 263.80,323.09 264.11,322.71 264.41,322.26 264.72,321.74 265.02,321.17 265.32,320.54 265.63,319.84 265.93,319.09 266.23,318.28 266.54,317.41 266.84,316.48 267.14,315.50 267.45,314.47 267.75,313.38 268.06,312.24 268.36,311.05 268.66,309.81 268.97,308.52 269.27,307.19 269.57,305.82 269.88,304.40 270.18,302.94 270.48,301.44 270.79,299.90 271.09,298.33 271.40,296.72 271.70,295.08 272.00,293.41 272.31,291.72 272.61,289.99 272.91,288.25 273.22,286.48 273.52,284.69 273.82,282.88 274.13,281.06 274.43,279.23 274.74,277.38 275.04,275.52 275.34,273.66 275.65,271.79 275.95,269.92 276.25,268.05 276.56,266.19 276.86,264.32 277.16,262.46 277.47,260.62 277.77,258.78 278.08,256.95 278.38,255.14 278.68,253.35 278.99,251.57 279.29,249.82 279.59,248.09 279.90,246.39 280.20,244.71 280.50,243.06 280.81,241.45 281.11,239.87 281.42,238.32 281.72,236.81 282.02,235.34 282.33,233.91 282.63,232.52 282.93,231.18 283.24,229.88 283.54,228.63 283.84,227.42 284.15,226.27 284.45,225.17 284.75,224.12 285.06,223.12 285.36,222.18 285.67,221.30 285.97,220.47 286.27,219.70 286.58,218.99 286.88,218.34 287.18,217.75 287.49,217.22 287.79,216.76 288.09,216.35 288.40,216.01 288.70,215.73 289.01,215.52 289.31,215.37 289.61,215.29 289.92,215.26 290.22,215.31 290.52,215.42 290.83,215.59 291.13,215.82 291.43,216.12 291.74,216.48 292.04,216.91 292.35,217.40 292.65,217.94 292.95,218.55 293.26,219.23 293.56,219.96 293.86,220.74 294.17,221.59 294.47,222.50 294.77,223.45 295.08,224.47 295.38,225.54 295.69,226.66 295.99,227.83 296.29,229.05 296.60,230.31 296.90,231.63 297.20,232.99 297.51,234.39 297.81,235.83 298.11,237.32 298.42,238.84 298.72,240.40 299.03,241.99 299.33,243.62 299.63,245.28 299.94,246.96 300.24,248.68 300.54,250.41 300.85,252.17 301.15,253.95 301.45,255.75 301.76,257.57 302.06,259.40 302.37,261.24 302.67,263.09 302.97,264.95 303.28,266.82 303.58,268.69 303.88,270.56 304.19,272.43 304.49,274.30 304.79,276.16 305.10,278.01 305.40,279.85 305.71,281.68 306.01,283.50 306.31,285.30 306.62,287.08 306.92,288.84 307.22,290.58 307.53,292.30 307.83,293.98 308.13,295.64 308.44,297.27 308.74,298.86 309.04,300.43 309.35,301.95 309.65,303.44 309.96,304.88 310.26,306.29 310.56,307.65 310.87,308.97 311.17,310.24 311.47,311.46 311.78,312.63 312.08,313.75 312.38,314.82 312.69,315.84 312.99,316.80 313.30,317.71 313.60,318.56 313.90,319.35 314.21,320.09 314.51,320.76 314.81,321.37 315.12,321.92 315.42,322.42 315.72,322.84 316.03,323.21 316.33,323.51 316.64,323.75 316.94,323.92 317.24,324.04 317.55,324.08 317.85,324.06 318.15,323.98 318.46,323.84 318.76,323.63 319.06,323.35 319.37,323.01 319.67,322.61 319.98,322.15 320.28,321.63 320.58,321.04 320.89,320.39 321.19,319.68 321.49,318.92 321.80,318.09 322.10,317.21 322.40,316.27 322.71,315.28 323.01,314.24 323.32,313.14 323.62,311.99 323.92,310.78 324.23,309.54 324.53,308.24 324.83,306.90 325.14,305.51 325.44,304.08 325.74,302.61 326.05,301.11 326.35,299.56 326.66,297.98 326.96,296.37 327.26,294.72 327.57,293.05 327.87,291.35 328.17,289.62 328.48,287.87 328.78,286.09 329.08,284.30 329.39,282.49 329.69,280.67 330.00,278.83 330.30,276.98 330.60,275.12 330.91,273.26 331.21,271.39 331.51,269.52 331.82,267.65 332.12,265.78 332.42,263.92 332.73,262.06 333.03,260.22 333.33,258.38 333.64,256.56 333.94,254.75 334.25,252.96 334.55,251.19 334.85,249.44 335.16,247.72 335.46,246.02 335.76,244.35 336.07,242.71 336.37,241.10 336.67,239.53 336.98,237.99 337.28,236.49 337.59,235.03 337.89,233.60 338.19,232.23 338.50,230.89 338.80,229.60 339.10,228.36 339.41,227.17 339.71,226.03 340.01,224.94 340.32,223.90 340.62,222.91 340.93,221.99 341.23,221.11 341.53,220.30 341.84,219.54 342.14,218.85 342.44,218.21 342.75,217.63 343.05,217.12 343.35,216.66 343.66,216.27 343.96,215.95 344.27,215.68 344.57,215.48 344.87,215.35 345.18,215.28 345.48,215.27 345.78,215.33 346.09,215.45 346.39,215.63 346.69,215.88 347.00,216.19 347.30,216.57 347.61,217.01 347.91,217.51 348.21,218.07 348.52,218.69 348.82,219.38 349.12,220.12 349.43,220.92 349.73,221.78 350.03,222.70 350.34,223.67 350.64,224.70 350.95,225.77 351.25,226.90 351.55,228.09 351.86,229.32 352.16,230.59 352.46,231.92 352.77,233.29 353.07,234.70 353.37,236.15 353.68,237.65 353.98,239.18 354.29,240.74 354.59,242.34 354.89,243.98 355.20,245.64 355.50,247.33 355.80,249.05 356.11,250.79 356.41,252.56 356.71,254.34 357.02,256.15 357.32,257.96 357.62,259.80 357.93,261.64 358.23,263.50 358.54,265.36 358.84,267.22 359.14,269.09 359.45,270.96 359.75,272.83 360.05,274.70 360.36,276.56 360.66,278.41 360.96,280.25 361.27,282.08 361.57,283.89 361.88,285.69 362.18,287.46 362.48,289.22 362.79,290.95 363.09,292.66 363.39,294.34 363.70,296.00 364.00,297.62 364.30,299.21 364.61,300.76 364.91,302.28 365.22,303.75 365.52,305.19 365.82,306.59 366.13,307.94 366.43,309.24 366.73,310.50 367.04,311.72 367.34,312.88 367.64,313.99 367.95,315.05 368.25,316.05 368.56,317.00 368.86,317.90 369.16,318.74 369.47,319.52 369.77,320.24 370.07,320.90 370.38,321.50 370.68,322.04 370.98,322.51 371.29,322.93 371.59,323.28 371.90,323.57 372.20,323.79 372.50,323.95 372.81,324.05 373.11,324.08 373.41,324.05 373.72,323.96 374.02,323.80 374.32,323.57 374.63,323.28 374.93,322.93 375.24,322.52 375.54,322.04 375.84,321.50 376.15,320.90 376.45,320.24 376.75,319.52 377.06,318.74 377.36,317.91 377.66,317.01 377.97,316.06 378.27,315.06 378.58,314.00 378.88,312.89 379.18,311.73 379.49,310.52 379.79,309.26 380.09,307.95 380.40,306.60 380.70,305.21 381.00,303.77 381.31,302.29 381.61,300.78 381.91,299.22 382.22,297.64 382.52,296.01 382.83,294.36 383.13,292.68 383.43,290.97 383.74,289.24 384.04,287.48 384.34,285.71 384.65,283.91 384.95,282.10 385.25,280.27 385.56,278.43 385.86,276.58 386.17,274.72 386.47,272.85 386.77,270.99 387.08,269.12 387.38,267.25 387.68,265.38 387.99,263.52 388.29,261.66 388.59,259.82 388.90,257.99 389.20,256.17 389.51,254.36 389.81,252.58 390.11,250.81 390.42,249.07 390.72,247.35 391.02,245.66 391.33,243.99 391.63,242.36 391.93,240.76 392.24,239.19 392.54,237.66 392.85,236.17 393.15,234.72 393.45,233.30 393.76,231.93 394.06,230.61 394.36,229.33 394.67,228.10 394.97,226.92 395.27,225.79 395.58,224.71 395.88,223.68 396.19,222.71 396.49,221.79 396.79,220.93 397.10,220.13 397.40,219.39 397.70,218.70 398.01,218.08 398.31,217.51 398.61,217.01 398.92,216.57 399.22,216.20 399.53,215.88 399.83,215.63 400.13,215.45 400.44,215.33 400.74,215.27 401.04,215.28 401.35,215.35 401.65,215.48 401.95,215.68 402.26,215.94 402.56,216.27 402.87,216.66 403.17,217.11 403.47,217.63 403.78,218.20 404.08,218.84 404.38,219.53 404.69,220.29 404.99,221.10 405.29,221.98 405.60,222.90 405.90,223.89 406.20,224.92 406.51,226.01 406.81,227.16 407.12,228.35 407.42,229.59 407.72,230.88 408.03,232.21 408.33,233.59 408.63,235.01 408.94,236.47 409.24,237.97 409.54,239.51 409.85,241.09 410.15,242.69 410.46,244.33 410.76,246.00 411.06,247.70 411.37,249.42 411.67,251.17 411.97,252.94 412.28,254.73 412.58,256.54 412.88,258.36 413.19,260.20 413.49,262.04 413.80,263.90 414.10,265.76 414.40,267.63 414.71,269.50 415.01,271.37 415.31,273.24 415.62,275.10 415.92,276.96 416.22,278.81 416.53,280.65 416.83,282.47 417.14,284.28 417.44,286.07 417.74,287.85 418.05,289.60 418.35,291.33 418.65,293.03 418.96,294.70 419.26,296.35 419.56,297.96 419.87,299.54 420.17,301.09 420.48,302.60 420.78,304.07 421.08,305.50 421.39,306.88 421.69,308.22 421.99,309.52 422.30,310.77 422.60,311.97 422.90,313.12 423.21,314.22 423.51,315.27 423.82,316.26 424.12,317.20 424.42,318.08 424.73,318.91 425.03,319.68 425.33,320.38 425.64,321.03 425.94,321.62 426.24,322.14 426.55,322.61 426.85,323.01 427.16,323.35 427.46,323.62 427.76,323.83 428.07,323.98 428.37,324.06 428.67,324.08 428.98,324.04 429.28,323.93 429.58,323.75 429.89,323.51 430.19,323.21 430.49,322.85 430.80,322.42 431.10,321.93 431.41,321.38 431.71,320.77 432.01,320.09 432.32,319.36 432.62,318.57 432.92,317.72 433.23,316.81 433.53,315.85 433.83,314.84 434.14,313.77 434.44,312.64 434.75,311.47 435.05,310.25 435.35,308.98 435.66,307.66 435.96,306.30 436.26,304.90 436.57,303.45 436.87,301.97 437.17,300.44 437.48,298.88 437.78,297.29 438.09,295.66 438.39,294.00 438.69,292.31 439.00,290.60 439.30,288.86 439.60,287.10 439.91,285.32 440.21,283.52 440.51,281.70 440.82,279.87 441.12,278.03 441.43,276.18 441.73,274.32 442.03,272.45 442.34,270.58 442.64,268.71 442.94,266.84 443.25,264.98 443.55,263.12 443.85,261.26 444.16,259.42 444.46,257.59 444.77,255.77 445.07,253.97 445.37,252.19 445.68,250.43 445.98,248.69 446.28,246.98 446.59,245.30 446.89,243.64 447.19,242.01 447.50,240.42 447.80,238.86 448.11,237.34 448.41,235.85 448.71,234.41 449.02,233.00 449.32,231.64 449.62,230.33 449.93,229.06 450.23,227.84 450.53,226.67 450.84,225.55 451.14,224.48 451.45,223.47 451.75,222.51 452.05,221.60 452.36,220.75 452.66,219.96 452.96,219.23 453.27,218.56 453.57,217.95 453.87,217.40 454.18,216.91 454.48,216.49 454.78,216.12 455.09,215.82 455.39,215.59 455.70,215.42 456.00,215.31 456.30,215.26 456.61,215.29 456.91,215.37 457.21,215.52 457.52,215.73 457.82,216.01 458.12,216.35 458.43,216.75 458.73,217.22 459.04,217.75 459.34,218.33 459.64,218.98 459.95,219.69 460.25,220.46 460.55,221.29 460.86,222.17 461.16,223.11 461.46,224.11 461.77,225.16 462.07,226.26 462.38,227.41 462.68,228.61 462.98,229.86 463.29,231.16 463.59,232.51 463.89,233.89 464.20,235.32 464.50,236.79 464.80,238.30 465.11,239.85 465.41,241.43 465.72,243.05 466.02,244.69 466.32,246.37 466.63,248.07 466.93,249.80 467.23,251.55 467.54,253.33 467.84,255.12 468.14,256.93 468.45,258.76 468.75,260.60 469.06,262.44 469.36,264.30 469.66,266.17 469.97,268.03 470.27,269.90 470.57,271.77 470.88,273.64 471.18,275.50 471.48,277.36 471.79,279.21 472.09,281.04 472.40,282.86 472.70,284.67 473.00,286.46 473.31,288.23 473.61,289.97 473.91,291.70 474.22,293.39 474.52,295.06 474.82,296.70 475.13,298.31 475.43,299.88 475.74,301.42 476.04,302.92 476.34,304.38 476.65,305.80 476.95,307.18 477.25,308.51 477.56,309.80 477.86,311.04 478.16,312.23 478.47,313.37 478.77,314.45 479.07,315.49 479.38,316.47 479.68,317.40 479.99,318.27 480.29,319.08 480.59,319.83 480.90,320.53 481.20,321.16 481.50,321.74 481.81,322.25 482.11,322.70 482.41,323.09 482.72,323.41 483.02,323.67 483.33,323.87 483.63,324.00 483.93,324.07 484.24,324.08 484.54,324.02 484.84,323.89 485.15,323.71 485.45,323.45 485.75,323.14 486.06,322.76 486.36,322.32 486.67,321.82 486.97,321.25 487.27,320.63 487.58,319.94 487.88,319.19 488.18,318.39 488.49,317.53 488.79,316.61 489.09,315.64 489.40,314.61 489.70,313.53 490.01,312.39 490.31,311.21 490.61,309.98 490.92,308.70 491.22,307.37 491.52,306.00 491.83,304.59 492.13,303.13 492.43,301.64 492.74,300.11 493.04,298.54 493.35,296.94 493.65,295.30 493.95,293.64 494.26,291.95 494.56,290.23 494.86,288.48 495.17,286.72 495.47,284.93 495.77,283.13 496.08,281.31 496.38,279.47 496.69,277.63 496.99,275.77 497.29,273.91 497.60,272.05 497.90,270.18 498.20,268.31 498.51,266.44 498.81,264.57 499.11,262.71 499.42,260.86 499.72,259.02 500.03,257.20 500.33,255.38 500.63,253.59 500.94,251.81 501.24,250.05 501.54,248.32 501.85,246.61 502.15,244.93 502.45,243.28 502.76,241.66 503.06,240.08 503.36,238.53 503.67,237.01 503.97,235.53 504.28,234.10 504.58,232.70 504.88,231.35 505.19,230.05 505.49,228.79 505.79,227.58 506.10,226.42 506.40,225.31 506.70,224.26 507.01,223.25 507.31,222.31 507.62,221.41 507.92,220.58 508.22,219.80 508.53,219.08 508.83,218.42 509.13,217.83 509.44,217.29 509.74,216.82 510.04,216.40 510.35,216.05 510.65,215.77 510.96,215.55 511.26,215.39 511.56,215.29 511.87,215.26 512.17,215.30 512.47,215.40 512.78,215.56 513.08,215.79 513.38,216.08 513.69,216.43 513.99,216.85 514.30,217.33 514.60,217.87 514.90,218.47 515.21,219.13 515.51,219.85 515.81,220.64 516.12,221.47 516.42,222.37 516.72,223.32 517.03,224.33 517.33,225.39 517.64,226.50 517.94,227.67 518.24,228.88 518.55,230.14 518.85,231.45 519.15,232.80 519.46,234.20 519.76,235.64 520.06,237.12 520.37,238.63 520.67,240.19 520.98,241.78 521.28,243.40 521.58,245.05 521.89,246.73 522.19,248.44 522.49,250.18 522.80,251.94 523.10,253.71 523.40,255.51 523.71,257.33 524.01,259.15 524.32,260.99 524.62,262.85 524.92,264.70 525.23,266.57 525.53,268.44 525.83,270.31 526.14,272.18 526.44,274.04 526.74,275.91 527.05,277.76 527.35,279.60 527.65,281.44 527.96,283.26 528.26,285.06 528.57,286.84 528.87,288.61 529.17,290.35 529.48,292.07 529.78,293.76 530.08,295.42 530.39,297.05 530.69,298.65 530.99,300.22 531.30,301.75 531.60,303.24 531.91,304.69 532.21,306.10 532.51,307.47 532.82,308.79 533.12,310.07 533.42,311.30 533.73,312.48 534.03,313.61 534.33,314.68 534.64,315.71 534.94,316.68 535.25,317.59 535.55,318.45 535.85,319.25 536.16,319.99 536.46,320.67 536.76,321.29 537.07,321.85 537.37,322.35 537.67,322.79 537.98,323.16 538.28,323.47 538.59,323.72 538.89,323.90 539.19,324.02 539.50,324.08 539.80,324.07"/>
<polyline fill="none" stroke="#0000ff" stroke-width="2.6" stroke-dasharray="8.9 7.9" stroke-linejoin="round" points="54.00,269.67 54.30,267.69 54.61,265.71 54.91,263.74 55.21,261.77 55.52,259.81 55.82,257.86 56.13,255.93 56.43,254.01 56.73,252.11 57.04,250.24 57.34,248.38 57.64,246.55 57.95,244.75 58.25,242.98 58.55,241.24 58.86,239.53 59.16,237.86 59.47,236.22 59.77,234.63 60.07,233.07 60.38,231.56 60.68,230.10 60.98,228.68 61.29,227.31 61.59,225.99 61.89,224.72 62.20,223.51 62.50,222.34 62.81,221.24 63.11,220.19 63.41,219.20 63.72,218.27 64.02,217.41 64.32,216.60 64.63,215.85 64.93,215.17 65.23,214.56 65.54,214.01 65.84,213.52 66.14,213.10 66.45,212.75 66.75,212.46 67.06,212.25 67.36,212.10 67.66,212.02 67.97,212.00 68.27,212.06 68.57,212.18 68.88,212.37 69.18,212.63 69.48,212.96 69.79,213.35 70.09,213.81 70.40,214.33 70.70,214.92 71.00,215.58 71.31,216.30 71.61,217.08 71.91,217.93 72.22,218.83 72.52,219.80 72.82,220.82 73.13,221.91 73.43,223.04 73.74,224.24 74.04,225.49 74.34,226.79 74.65,228.14 74.95,229.54 75.25,230.98 75.56,232.48 75.86,234.01 76.16,235.59 76.47,237.21 76.77,238.87 77.08,240.56 77.38,242.29 77.68,244.05 77.99,245.84 78.29,247.66 78.59,249.51 78.90,251.38 79.20,253.27 79.50,255.18 79.81,257.10 80.11,259.05 80.42,261.00 80.72,262.96 81.02,264.94 81.33,266.92 81.63,268.90 81.93,270.94 82.24,273.02 82.54,275.09 82.84,277.16 83.15,279.22 83.45,281.27 83.76,283.30 84.06,285.32 84.36,287.32 84.67,289.30 84.97,291.25 85.27,293.18 85.58,295.08 85.88,296.96 86.18,298.80 86.49,300.60 86.79,302.37 87.10,304.10 87.40,305.79 87.70,307.44 88.01,309.04 88.31,310.59 88.61,312.10 88.92,313.56 89.22,314.96 89.52,316.32 89.83,317.61 90.13,318.85 90.44,320.04 90.74,321.16 91.04,322.22 91.35,323.22 91.65,324.16 91.95,325.03 92.26,325.84 92.56,326.58 92.86,327.25 93.17,327.85 93.47,328.39 93.77,328.86 94.08,329.25 94.38,329.58 94.69,329.84 94.99,330.02 95.29,330.13 95.60,330.18 95.90,330.15 96.20,330.05 96.51,329.87 96.81,329.63 97.11,329.32 97.42,328.93 97.72,328.48 98.03,327.95 98.33,327.36 98.63,326.70 98.94,325.97 99.24,325.18 99.54,324.31 99.85,323.39 100.15,322.40 100.45,321.35 100.76,320.24 101.06,319.07 101.37,317.84 101.67,316.55 101.97,315.21 102.28,313.81 102.58,312.36 102.88,310.86 103.19,309.32 103.49,307.72 103.79,306.08 104.10,304.40 104.40,302.68 104.71,300.91 105.01,299.11 105.31,297.28 105.62,295.41 105.92,293.52 106.22,291.59 106.53,289.64 106.83,287.67 107.13,285.67 107.44,283.65 107.74,281.62 108.05,279.58 108.35,277.52 108.65,275.45 108.96,273.38 109.26,271.30 109.56,269.24 109.87,267.23 110.17,265.22 110.47,263.21 110.78,261.22 111.08,259.23 111.39,257.29 111.69,255.41 111.99,253.59 112.30,251.83 112.60,250.13 112.90,248.48 113.21,246.89 113.51,245.36 113.81,243.88 114.12,242.46 114.42,241.08 114.72,239.74 115.03,238.46 115.33,237.21 115.64,236.00 115.94,234.82 116.24,233.68 116.55,232.57 116.85,231.49 117.15,230.43 117.46,229.39 117.76,228.38 118.06,227.38 118.37,226.41 118.67,225.45 118.98,224.50 119.28,223.58 119.58,222.66 119.89,221.77 120.19,220.89 120.49,220.02 120.80,219.18 121.10,218.36 121.40,217.56 121.71,216.79 122.01,216.05 122.32,215.34 122.62,214.67 122.92,214.04 123.23,213.46 123.53,212.93 123.83,212.46 124.14,212.05 124.44,211.71 124.74,211.44 125.05,211.25 125.35,211.15 125.66,211.13 125.96,211.21 126.26,211.39 126.57,211.67 126.87,212.06 127.17,212.56 127.48,213.16 127.78,213.88 128.08,214.71 128.39,215.65 128.69,216.70 129.00,217.86 129.30,219.13 129.60,220.50 129.91,221.97 130.21,223.53 130.51,225.17 130.82,226.90 131.12,228.70 131.42,230.57 131.73,232.49 132.03,234.46 132.34,236.48 132.64,238.53 132.94,240.61 133.25,242.70 133.55,244.81 133.85,246.92 134.16,249.03 134.46,251.13 134.76,253.21 135.07,255.27 135.37,257.31 135.68,259.31 135.98,261.30 136.28,263.30 136.59,265.30 136.89,267.31 137.19,269.32 137.50,271.33 137.80,273.33 138.10,275.33 138.41,277.32 138.71,279.30 139.01,281.27 139.32,283.23 139.62,285.17 139.93,287.10 140.23,289.00 140.53,290.88 140.84,292.73 141.14,294.56 141.44,296.36 141.75,298.13 142.05,299.86 142.35,301.56 142.66,303.22 142.96,304.84 143.27,306.42 143.57,307.95 143.87,309.44 144.18,310.88 144.48,312.28 144.78,313.62 145.09,314.91 145.39,316.15 145.69,317.34 146.00,318.46 146.30,319.53 146.61,320.54 146.91,321.49 147.21,322.38 147.52,323.21 147.82,323.98 148.12,324.68 148.43,325.31 148.73,325.88 149.03,326.38 149.34,326.82 149.64,327.19 149.95,327.49 150.25,327.72 150.55,327.88 150.86,327.97 151.16,328.00 151.46,327.96 151.77,327.84 152.07,327.66 152.37,327.41 152.68,327.10 152.98,326.71 153.29,326.26 153.59,325.74 153.89,325.15 154.20,324.50 154.50,323.78 154.80,323.00 155.11,322.16 155.41,321.26 155.71,320.29 156.02,319.26 156.32,318.18 156.63,317.04 156.93,315.84 157.23,314.59 157.54,313.28 157.84,311.92 158.14,310.52 158.45,309.06 158.75,307.56 159.05,306.01 159.36,304.42 159.66,302.79 159.97,301.12 160.27,299.42 160.57,297.68 160.88,295.90 161.18,294.09 161.48,292.26 161.79,290.40 162.09,288.51 162.39,286.60 162.70,284.68 163.00,282.73 163.30,280.77 163.61,278.79 163.91,276.81 164.22,274.81 164.52,272.81 164.82,270.81 165.13,268.86 165.43,266.97 165.73,265.09 166.04,263.22 166.34,261.35 166.64,259.49 166.95,257.60 167.25,255.70 167.56,253.78 167.86,251.84 168.16,249.90 168.47,247.95 168.77,246.01 169.07,244.07 169.38,242.14 169.68,240.24 169.98,238.36 170.29,236.52 170.59,234.72 170.90,232.96 171.20,231.26 171.50,229.62 171.81,228.04 172.11,226.54 172.41,225.11 172.72,223.77 173.02,222.51 173.32,221.34 173.63,220.27 173.93,219.29 174.24,218.41 174.54,217.63 174.84,216.94 175.15,216.36 175.45,215.87 175.75,215.48 176.06,215.18 176.36,214.98 176.66,214.86 176.97,214.83 177.27,214.88 177.58,215.01 177.88,215.21 178.18,215.48 178.49,215.81 178.79,216.20 179.09,216.65 179.40,217.15 179.70,217.70 180.00,218.29 180.31,218.92 180.61,219.58 180.92,220.28 181.22,221.00 181.52,221.76 181.83,222.54 182.13,223.34 182.43,224.17 182.74,225.01 183.04,225.88 183.34,226.76 183.65,227.67 183.95,228.59 184.26,229.54 184.56,230.50 184.86,231.49 185.17,232.50 185.47,233.54 185.77,234.60 186.08,235.69 186.38,236.81 186.68,237.97 186.99,239.15 187.29,240.38 187.59,241.64 187.90,242.94 188.20,244.29 188.51,245.68 188.81,247.11 189.11,248.59 189.42,250.12 189.72,251.70 190.02,253.34 190.33,255.02 190.63,256.75 190.93,258.54 191.24,260.37 191.54,262.23 191.85,264.10 192.15,265.98 192.45,267.87 192.76,269.76 193.06,271.84 193.36,273.92 193.67,275.99 193.97,278.05 194.27,280.11 194.58,282.15 194.88,284.18 195.19,286.19 195.49,288.18 195.79,290.14 196.10,292.09 196.40,294.01 196.70,295.90 197.01,297.76 197.31,299.58 197.61,301.37 197.92,303.12 198.22,304.84 198.53,306.51 198.83,308.14 199.13,309.72 199.44,311.25 199.74,312.74 200.04,314.17 200.35,315.56 200.65,316.89 200.95,318.16 201.26,319.37 201.56,320.53 201.87,321.63 202.17,322.66 202.47,323.63 202.78,324.54 203.08,325.39 203.38,326.16 203.69,326.88 203.99,327.52 204.29,328.09 204.60,328.60 204.90,329.04 205.21,329.40 205.51,329.70 205.81,329.93 206.12,330.08 206.42,330.16 206.72,330.17 207.03,330.11 207.33,329.98 207.63,329.78 207.94,329.50 208.24,329.16 208.55,328.74 208.85,328.26 209.15,327.70 209.46,327.08 209.76,326.39 210.06,325.63 210.37,324.81 210.67,323.92 210.97,322.97 211.28,321.95 211.58,320.88 211.88,319.74 212.19,318.54 212.49,317.29 212.80,315.97 213.10,314.61 213.40,313.19 213.71,311.72 214.01,310.20 214.31,308.63 214.62,307.02 214.92,305.36 215.22,303.66 215.53,301.92 215.83,300.14 216.14,298.32 216.44,296.48 216.74,294.60 217.05,292.69 217.35,290.75 217.65,288.79 217.96,286.80 218.26,284.80 218.56,282.78 218.87,280.74 219.17,278.69 219.48,276.63 219.78,274.56 220.08,272.48 220.39,270.40 220.69,268.41 220.99,266.47 221.30,264.53 221.60,262.59 221.90,260.67 222.21,258.75 222.51,256.85 222.82,254.97 223.12,253.10 223.42,251.25 223.73,249.42 224.03,247.61 224.33,245.84 224.64,244.09 224.94,242.37 225.24,240.68 225.55,239.03 225.85,237.41 226.16,235.83 226.46,234.29 226.76,232.80 227.07,231.34 227.37,229.94 227.67,228.57 227.98,227.26 228.28,226.00 228.58,224.79 228.89,223.63 229.19,222.53 229.50,221.48 229.80,220.49 230.10,219.56 230.41,218.68 230.71,217.87 231.01,217.12 231.32,216.43 231.62,215.80 231.92,215.24 232.23,214.74 232.53,214.31 232.84,213.94 233.14,213.63 233.44,213.40 233.75,213.23 234.05,213.12 234.35,213.09 234.66,213.12 234.96,213.22 235.26,213.38 235.57,213.61 235.87,213.91 236.17,214.27 236.48,214.70 236.78,215.19 237.09,215.75 237.39,216.37 237.69,217.05 238.00,217.80 238.30,218.61 238.60,219.47 238.91,220.40 239.21,221.39 239.51,222.43 239.82,223.53 240.12,224.68 240.43,225.88 240.73,227.14 241.03,228.45 241.34,229.81 241.64,231.21 241.94,232.66 242.25,234.15 242.55,235.69 242.85,237.26 243.16,238.88 243.46,240.52 243.77,242.21 244.07,243.93 244.37,245.67 244.68,247.45 244.98,249.25 245.28,251.08 245.59,252.92 245.89,254.79 246.19,256.68 246.50,258.58 246.80,260.49 247.11,262.41 247.41,264.35 247.71,266.29 248.02,268.23 248.32,270.21 248.62,272.29 248.93,274.36 249.23,276.43 249.53,278.50 249.84,280.55 250.14,282.57 250.45,284.57 250.75,286.52 251.05,288.45 251.36,290.33 251.66,292.18 251.96,293.99 252.27,295.76 252.57,297.50 252.87,299.19 253.18,300.84 253.48,302.45 253.79,304.01 254.09,305.54 254.39,307.03 254.70,308.47 255.00,309.88 255.30,311.24 255.61,312.57 255.91,313.85 256.21,315.09 256.52,316.29 256.82,317.45 257.13,318.56 257.43,319.64 257.73,320.66 258.04,321.65 258.34,322.59 258.64,323.48 258.95,324.32 259.25,325.12 259.55,325.86 259.86,326.56 260.16,327.19 260.47,327.78 260.77,328.30 261.07,328.77 261.38,329.17 261.68,329.51 261.98,329.78 262.29,329.98 262.59,330.11 262.89,330.17 263.20,330.16 263.50,330.07 263.80,329.90 264.11,329.65 264.41,329.32 264.72,328.91 265.02,328.42 265.32,327.84 265.63,327.18 265.93,326.44 266.23,325.61 266.54,324.70 266.84,323.70 267.14,322.63 267.45,321.48 267.75,320.25 268.06,318.94 268.36,317.56 268.66,316.11 268.97,314.60 269.27,313.02 269.57,311.38 269.88,309.69 270.18,307.94 270.48,306.15 270.79,304.31 271.09,302.43 271.40,300.51 271.70,298.57 272.00,296.59 272.31,294.60 272.61,292.58 272.91,290.55 273.22,288.51 273.52,286.46 273.82,284.40 274.13,282.35 274.43,280.30 274.74,278.24 275.04,276.18 275.34,274.11 275.65,272.03 275.95,269.95 276.25,267.83 276.56,265.71 276.86,263.59 277.16,261.48 277.47,259.38 277.77,257.30 278.08,255.26 278.38,253.25 278.68,251.28 278.99,249.35 279.29,247.46 279.59,245.61 279.90,243.81 280.20,242.04 280.50,240.32 280.81,238.64 281.11,237.01 281.42,235.41 281.72,233.86 282.02,232.34 282.33,230.87 282.63,229.44 282.93,228.06 283.24,226.71 283.54,225.40 283.84,224.13 284.15,222.90 284.45,221.71 284.75,220.56 285.06,219.46 285.36,218.39 285.67,217.37 285.97,216.39 286.27,215.45 286.58,214.56 286.88,213.71 287.18,212.92 287.49,212.17 287.79,211.48 288.09,210.83 288.40,210.25 288.70,209.72 289.01,209.26 289.31,208.85 289.61,208.51 289.92,208.24 290.22,208.04 290.52,207.92 290.83,207.87 291.13,207.89 291.43,208.00 291.74,208.18 292.04,208.46 292.35,208.81 292.65,209.25 292.95,209.79 293.26,210.40 293.56,211.11 293.86,211.91 294.17,212.79 294.47,213.76 294.77,214.82 295.08,215.96 295.38,217.19 295.69,218.50 295.99,219.88 296.29,221.34 296.60,222.87 296.90,224.48 297.20,226.14 297.51,227.87 297.81,229.65 298.11,231.49 298.42,233.37 298.72,235.30 299.03,237.26 299.33,239.26 299.63,241.28 299.94,243.33 300.24,245.40 300.54,247.49 300.85,249.58 301.15,251.69 301.45,253.79 301.76,255.90 302.06,258.00 302.37,260.10 302.67,262.20 302.97,264.31 303.28,266.43 303.58,268.56 303.88,270.58 304.19,272.50 304.49,274.41 304.79,276.31 305.10,278.21 305.40,280.10 305.71,282.00 306.01,283.91 306.31,285.84 306.62,287.76 306.92,289.69 307.22,291.61 307.53,293.52 307.83,295.42 308.13,297.31 308.44,299.17 308.74,301.00 309.04,302.79 309.35,304.55 309.65,306.26 309.96,307.92 310.26,309.53 310.56,311.07 310.87,312.56 311.17,313.97 311.47,315.31 311.78,316.58 312.08,317.76 312.38,318.87 312.69,319.89 312.99,320.82 313.30,321.67 313.60,322.43 313.90,323.10 314.21,323.68 314.51,324.17 314.81,324.58 315.12,324.90 315.42,325.14 315.72,325.30 316.03,325.38 316.33,325.38 316.64,325.31 316.94,325.17 317.24,324.96 317.55,324.69 317.85,324.35 318.15,323.96 318.46,323.51 318.76,323.01 319.06,322.47 319.37,321.87 319.67,321.24 319.98,320.56 320.28,319.84 320.58,319.09 320.89,318.30 321.19,317.48 321.49,316.62 321.80,315.74 322.10,314.82 322.40,313.87 322.71,312.90 323.01,311.89 323.32,310.86 323.62,309.79 323.92,308.69 324.23,307.57 324.53,306.41 324.83,305.22 325.14,303.99 325.44,302.73 325.74,301.43 326.05,300.10 326.35,298.73 326.66,297.32 326.96,295.87 327.26,294.38 327.57,292.84 327.87,291.27 328.17,289.65 328.48,287.99 328.78,286.28 329.08,284.54 329.39,282.75 329.69,280.92 330.00,279.05 330.30,277.15 330.60,275.25 330.91,273.34 331.21,271.43 331.51,269.52 331.82,267.59 332.12,265.66 332.42,263.74 332.73,261.82 333.03,259.91 333.33,258.02 333.64,256.14 333.94,254.27 334.25,252.43 334.55,250.60 334.85,248.80 335.16,247.02 335.46,245.27 335.76,243.54 336.07,241.85 336.37,240.19 336.67,238.56 336.98,236.98 337.28,235.43 337.59,233.92 337.89,232.45 338.19,231.03 338.50,229.65 338.80,228.32 339.10,227.04 339.41,225.81 339.71,224.63 340.01,223.50 340.32,222.43 340.62,221.42 340.93,220.46 341.23,219.56 341.53,218.72 341.84,217.94 342.14,217.22 342.44,216.56 342.75,215.97 343.05,215.43 343.35,214.97 343.66,214.57 343.96,214.23 344.27,213.96 344.57,213.75 344.87,213.61 345.18,213.54 345.48,213.53 345.78,213.59 346.09,213.71 346.39,213.90 346.69,214.16 347.00,214.48 347.30,214.87 347.61,215.32 347.91,215.84 348.21,216.42 348.52,217.06 348.82,217.77 349.12,218.54 349.43,219.36 349.73,220.25 350.03,221.20 350.34,222.20 350.64,223.26 350.95,224.37 351.25,225.54 351.55,226.76 351.86,228.02 352.16,229.34 352.46,230.71 352.77,232.12 353.07,233.58 353.37,235.08 353.68,236.62 353.98,238.20 354.29,239.82 354.59,241.47 354.89,243.15 355.20,244.87 355.50,246.62 355.80,248.39 356.11,250.19 356.41,252.01 356.71,253.85 357.02,255.71 357.32,257.59 357.62,259.48 357.93,261.39 358.23,263.30 358.54,265.22 358.84,267.15 359.14,269.08 359.45,271.04 359.75,273.02 360.05,275.00 360.36,276.97 360.66,278.93 360.96,280.89 361.27,282.85 361.57,284.82 361.88,286.80 362.18,288.77 362.48,290.74 362.79,292.70 363.09,294.64 363.39,296.57 363.70,298.47 364.00,300.35 364.30,302.20 364.61,304.01 364.91,305.78 365.22,307.50 365.52,309.18 365.82,310.80 366.13,312.36 366.43,313.85 366.73,315.28 367.04,316.64 367.34,317.93 367.64,319.14 367.95,320.26 368.25,321.31 368.56,322.28 368.86,323.16 369.16,323.96 369.47,324.67 369.77,325.30 370.07,325.84 370.38,326.29 370.68,326.66 370.98,326.95 371.29,327.16 371.59,327.29 371.90,327.35 372.20,327.32 372.50,327.23 372.81,327.07 373.11,326.84 373.41,326.54 373.72,326.19 374.02,325.77 374.32,325.30 374.63,324.77 374.93,324.19 375.24,323.56 375.54,322.89 375.84,322.17 376.15,321.40 376.45,320.60 376.75,319.75 377.06,318.87 377.36,317.94 377.66,316.98 377.97,315.98 378.27,314.95 378.58,313.88 378.88,312.78 379.18,311.64 379.49,310.47 379.79,309.26 380.09,308.01 380.40,306.73 380.70,305.41 381.00,304.05 381.31,302.66 381.61,301.22 381.91,299.75 382.22,298.24 382.52,296.69 382.83,295.09 383.13,293.46 383.43,291.78 383.74,290.07 384.04,288.31 384.34,286.52 384.65,284.68 384.95,282.81 385.25,280.90 385.56,278.95 385.86,276.99 386.17,275.02 386.47,273.04 386.77,271.06 387.08,269.04 387.38,266.91 387.68,264.78 387.99,262.66 388.29,260.54 388.59,258.44 388.90,256.34 389.20,254.24 389.51,252.15 389.81,250.07 390.11,248.01 390.42,245.96 390.72,243.93 391.02,241.93 391.33,239.95 391.63,238.00 391.93,236.09 392.24,234.21 392.54,232.38 392.85,230.59 393.15,228.84 393.45,227.16 393.76,225.52 394.06,223.94 394.36,222.43 394.67,220.98 394.97,219.59 395.27,218.27 395.58,217.03 395.88,215.85 396.19,214.76 396.49,213.73 396.79,212.79 397.10,211.93 397.40,211.14 397.70,210.43 398.01,209.81 398.31,209.26 398.61,208.80 398.92,208.41 399.22,208.11 399.53,207.88 399.83,207.73 400.13,207.65 400.44,207.66 400.74,207.73 401.04,207.88 401.35,208.10 401.65,208.39 401.95,208.75 402.26,209.18 402.56,209.67 402.87,210.23 403.17,210.84 403.47,211.52 403.78,212.26 404.08,213.05 404.38,213.90 404.69,214.81 404.99,215.77 405.29,216.78 405.60,217.85 405.90,218.96 406.20,220.13 406.51,221.34 406.81,222.60 407.12,223.91 407.42,225.26 407.72,226.66 408.03,228.11 408.33,229.60 408.63,231.13 408.94,232.71 409.24,234.33 409.54,235.99 409.85,237.69 410.15,239.44 410.46,241.22 410.76,243.04 411.06,244.90 411.37,246.80 411.67,248.73 411.97,250.70 412.28,252.70 412.58,254.73 412.88,256.78 413.19,258.87 413.49,260.97 413.80,263.09 414.10,265.21 414.40,267.34 414.71,269.47 415.01,271.36 415.31,273.21 415.62,275.06 415.92,276.90 416.22,278.73 416.53,280.56 416.83,282.37 417.14,284.16 417.44,285.94 417.74,287.70 418.05,289.44 418.35,291.15 418.65,292.84 418.96,294.50 419.26,296.14 419.56,297.74 419.87,299.31 420.17,300.84 420.48,302.33 420.78,303.79 421.08,305.21 421.39,306.58 421.69,307.92 421.99,309.20 422.30,310.44 422.60,311.63 422.90,312.78 423.21,313.87 423.51,314.91 423.82,315.89 424.12,316.82 424.42,317.70 424.73,318.52 425.03,319.28 425.33,319.98 425.64,320.62 425.94,321.20 426.24,321.72 426.55,322.18 426.85,322.58 427.16,322.92 427.46,323.19 427.76,323.40 428.07,323.55 428.37,323.63 428.67,323.65 428.98,323.60 429.28,323.49 429.58,323.32 429.89,323.08 430.19,322.78 430.49,322.42 430.80,322.00 431.10,321.51 431.41,320.97 431.71,320.36 432.01,319.69 432.32,318.96 432.62,318.18 432.92,317.34 433.23,316.44 433.53,315.48 433.83,314.47 434.14,313.41 434.44,312.30 434.75,311.14 435.05,309.93 435.35,308.67 435.66,307.36 435.96,306.01 436.26,304.62 436.57,303.18 436.87,301.71 437.17,300.20 437.48,298.65 437.78,297.07 438.09,295.45 438.39,293.81 438.69,292.13 439.00,290.43 439.30,288.71 439.60,286.96 439.91,285.19 440.21,283.41 440.51,281.61 440.82,279.79 441.12,277.96 441.43,276.12 441.73,274.28 442.03,272.43 442.34,270.57 442.64,268.64 442.94,266.64 443.25,264.64 443.55,262.64 443.85,260.66 444.16,258.68 444.46,256.72 444.77,254.77 445.07,252.84 445.37,250.93 445.68,249.05 445.98,247.18 446.28,245.35 446.59,243.54 446.89,241.76 447.19,240.02 447.50,238.31 447.80,236.64 448.11,235.01 448.41,233.42 448.71,231.87 449.02,230.36 449.32,228.90 449.62,227.50 449.93,226.14 450.23,224.83 450.53,223.57 450.84,222.37 451.14,221.23 451.45,220.14 451.75,219.11 452.05,218.14 452.36,217.23 452.66,216.39 452.96,215.60 453.27,214.88 453.57,214.23 453.87,213.64 454.18,213.11 454.48,212.66 454.78,212.27 455.09,211.95 455.39,211.69 455.70,211.51 456.00,211.39 456.30,211.35 456.61,211.37 456.91,211.46 457.21,211.62 457.52,211.85 457.82,212.14 458.12,212.51 458.43,212.94 458.73,213.44 459.04,214.01 459.34,214.64 459.64,215.33 459.95,216.09 460.25,216.92 460.55,217.80 460.86,218.75 461.16,219.76 461.46,220.83 461.77,221.95 462.07,223.13 462.38,224.37 462.68,225.66 462.98,227.00 463.29,228.39 463.59,229.83 463.89,231.32 464.20,232.85 464.50,234.43 464.80,236.04 465.11,237.70 465.41,239.40 465.72,241.13 466.02,242.89 466.32,244.69 466.63,246.52 466.93,248.37 467.23,250.25 467.54,252.15 467.84,254.07 468.14,256.01 468.45,257.97 468.75,259.94 469.06,261.92 469.36,263.92 469.66,265.91 469.97,267.92 470.27,269.92 470.57,271.91 470.88,273.90 471.18,275.88 471.48,277.85 471.79,279.82 472.09,281.77 472.40,283.71 472.70,285.63 473.00,287.53 473.31,289.42 473.61,291.27 473.91,293.11 474.22,294.91 474.52,296.69 474.82,298.43 475.13,300.14 475.43,301.82 475.74,303.45 476.04,305.05 476.34,306.60 476.65,308.11 476.95,309.58 477.25,310.99 477.56,312.36 477.86,313.68 478.16,314.95 478.47,316.16 478.77,317.32 479.07,318.42 479.38,319.47 479.68,320.45 479.99,321.38 480.29,322.24 480.59,323.04 480.90,323.78 481.20,324.46 481.50,325.07 481.81,325.62 482.11,326.09 482.41,326.51 482.72,326.85 483.02,327.13 483.33,327.34 483.63,327.48 483.93,327.55 484.24,327.56 484.54,327.50 484.84,327.36 485.15,327.16 485.45,326.90 485.75,326.56 486.06,326.16 486.36,325.69 486.67,325.15 486.97,324.55 487.27,323.89 487.58,323.16 487.88,322.36 488.18,321.51 488.49,320.59 488.79,319.61 489.09,318.58 489.40,317.48 489.70,316.33 490.01,315.13 490.31,313.87 490.61,312.56 490.92,311.20 491.22,309.79 491.52,308.33 491.83,306.82 492.13,305.28 492.43,303.69 492.74,302.06 493.04,300.39 493.35,298.68 493.65,296.94 493.95,295.17 494.26,293.37 494.56,291.54 494.86,289.69 495.17,287.81 495.47,285.91 495.77,283.99 496.08,282.05 496.38,280.10 496.69,278.14 496.99,276.16 497.29,274.18 497.60,272.20 497.90,270.21 498.20,268.19 498.51,266.15 498.81,264.12 499.11,262.10 499.42,260.09 499.72,258.09 500.03,256.12 500.33,254.19 500.63,252.29 500.94,250.42 501.24,248.60 501.54,246.81 501.85,245.05 502.15,243.34 502.45,241.66 502.76,240.03 503.06,238.43 503.36,236.88 503.67,235.36 503.97,233.89 504.28,232.45 504.58,231.05 504.88,229.70 505.19,228.38 505.49,227.11 505.79,225.87 506.10,224.68 506.40,223.52 506.70,222.41 507.01,221.34 507.31,220.31 507.62,219.32 507.92,218.38 508.22,217.48 508.53,216.63 508.83,215.83 509.13,215.07 509.44,214.37 509.74,213.72 510.04,213.12 510.35,212.57 510.65,212.09 510.96,211.66 511.26,211.30 511.56,211.00 511.87,210.76 512.17,210.60 512.47,210.50 512.78,210.48 513.08,210.53 513.38,210.65 513.69,210.85 513.99,211.13 514.30,211.49 514.60,211.93 514.90,212.45 515.21,213.06 515.51,213.74 515.81,214.51 516.12,215.36 516.42,216.29 516.72,217.30 517.03,218.39 517.33,219.55 517.64,220.79 517.94,222.10 518.24,223.48 518.55,224.93 518.85,226.44 519.15,228.02 519.46,229.65 519.76,231.33 520.06,233.06 520.37,234.84 520.67,236.66 520.98,238.51 521.28,240.40 521.58,242.32 521.89,244.26 522.19,246.22 522.49,248.20 522.80,250.19 523.10,252.20 523.40,254.20 523.71,256.21 524.01,258.22 524.32,260.23 524.62,262.24 524.92,264.27 525.23,266.30 525.53,268.33 525.83,270.35 526.14,272.34 526.44,274.32 526.74,276.31 527.05,278.28 527.35,280.24 527.65,282.19 527.96,284.13 528.26,286.04 528.57,287.94 528.87,289.82 529.17,291.67 529.48,293.50 529.78,295.30 530.08,297.07 530.39,298.80 530.69,300.51 530.99,302.17 531.30,303.80 531.60,305.39 531.91,306.93 532.21,308.43 532.51,309.89 532.82,311.30 533.12,312.65 533.42,313.96 533.73,315.22 534.03,316.42 534.33,317.56 534.64,318.65 534.94,319.69 535.25,320.66 535.55,321.57 535.85,322.42 536.16,323.21 536.46,323.94 536.76,324.60 537.07,325.19 537.37,325.72 537.67,326.19 537.98,326.59 538.28,326.92 538.59,327.18 538.89,327.38 539.19,327.50 539.50,327.56 539.80,327.55"/>
<polyline fill="none" stroke="#000" stroke-width="2.6" stroke-dasharray="9 1.8 4.3 1.8" stroke-linejoin="round" points="54.00,269.67 54.30,267.48 54.61,265.28 54.91,263.10 55.21,260.91 55.52,258.74 55.82,256.59 56.13,254.47 56.43,252.38 56.73,250.32 57.04,248.30 57.34,246.31 57.64,244.36 57.95,242.45 58.25,240.57 58.55,238.74 58.86,236.94 59.16,235.19 59.47,233.47 59.77,231.79 60.07,230.16 60.38,228.56 60.68,227.00 60.98,225.49 61.29,224.01 61.59,222.58 61.89,221.19 62.20,219.83 62.50,218.52 62.81,217.26 63.11,216.03 63.41,214.85 63.72,213.72 64.02,212.63 64.32,211.58 64.63,210.58 64.93,209.64 65.23,208.74 65.54,207.89 65.84,207.09 66.14,206.31 66.45,205.60 66.75,204.96 67.06,204.38 67.36,203.87 67.66,203.44 67.97,203.08 68.27,202.79 68.57,202.59 68.88,202.46 69.18,202.42 69.48,202.47 69.79,202.60 70.09,202.81 70.40,203.12 70.70,203.51 71.00,204.00 71.31,204.57 71.61,205.24 71.91,206.00 72.22,206.84 72.52,207.78 72.82,208.81 73.13,209.92 73.43,211.12 73.74,212.41 74.04,213.77 74.34,215.22 74.65,216.74 74.95,218.33 75.25,219.99 75.56,221.72 75.86,223.51 76.16,225.37 76.47,227.27 76.77,229.23 77.08,231.23 77.38,233.27 77.68,235.36 77.99,237.47 78.29,239.62 78.59,241.79 78.90,243.99 79.20,246.20 79.50,248.42 79.81,250.66 80.11,252.90 80.42,255.15 80.72,257.42 81.02,259.70 81.33,261.99 81.63,264.29 81.93,266.60 82.24,268.91 82.54,271.09 82.84,273.20 83.15,275.32 83.45,277.42 83.76,279.52 84.06,281.60 84.36,283.67 84.67,285.72 84.97,287.76 85.27,289.77 85.58,291.76 85.88,293.72 86.18,295.66 86.49,297.56 86.79,299.43 87.10,301.27 87.40,303.07 87.70,304.82 88.01,306.54 88.31,308.22 88.61,309.84 88.92,311.43 89.22,312.96 89.52,314.44 89.83,315.86 90.13,317.24 90.44,318.55 90.74,319.81 91.04,321.01 91.35,322.15 91.65,323.23 91.95,324.24 92.26,325.19 92.56,326.08 92.86,326.89 93.17,327.64 93.47,328.32 93.77,328.94 94.08,329.48 94.38,329.95 94.69,330.35 94.99,330.68 95.29,330.93 95.60,331.12 95.90,331.23 96.20,331.27 96.51,331.23 96.81,331.12 97.11,330.94 97.42,330.69 97.72,330.37 98.03,329.97 98.33,329.50 98.63,328.97 98.94,328.36 99.24,327.68 99.54,326.94 99.85,326.12 100.15,325.24 100.45,324.30 100.76,323.29 101.06,322.21 101.37,321.08 101.67,319.88 101.97,318.62 102.28,317.31 102.58,315.94 102.88,314.52 103.19,313.04 103.49,311.51 103.79,309.93 104.10,308.31 104.40,306.63 104.71,304.92 105.01,303.16 105.31,301.37 105.62,299.53 105.92,297.66 106.22,295.76 106.53,293.83 106.83,291.87 107.13,289.88 107.44,287.87 107.74,285.83 108.05,283.78 108.35,281.71 108.65,279.63 108.96,277.53 109.26,275.43 109.56,273.32 109.87,271.20 110.17,269.03 110.47,266.72 110.78,264.42 111.08,262.11 111.39,259.83 111.69,257.56 111.99,255.31 112.30,253.08 112.60,250.88 112.90,248.71 113.21,246.57 113.51,244.46 113.81,242.38 114.12,240.33 114.42,238.33 114.72,236.36 115.03,234.43 115.33,232.55 115.64,230.71 115.94,228.91 116.24,227.16 116.55,225.46 116.85,223.81 117.15,222.20 117.46,220.65 117.76,219.16 118.06,217.72 118.37,216.33 118.67,215.00 118.98,213.73 119.28,212.52 119.58,211.37 119.89,210.29 120.19,209.27 120.49,208.31 120.80,207.42 121.10,206.60 121.40,205.85 121.71,205.17 122.01,204.56 122.32,204.03 122.62,203.57 122.92,203.19 123.23,202.88 123.53,202.65 123.83,202.50 124.14,202.43 124.44,202.44 124.74,202.53 125.05,202.70 125.35,202.96 125.66,203.30 125.96,203.72 126.26,204.22 126.57,204.80 126.87,205.47 127.17,206.22 127.48,207.05 127.78,207.96 128.08,208.95 128.39,210.01 128.69,211.16 129.00,212.37 129.30,213.67 129.60,215.03 129.91,216.46 130.21,217.96 130.51,219.52 130.82,221.15 131.12,222.84 131.42,224.58 131.73,226.38 132.03,228.23 132.34,230.13 132.64,232.08 132.94,234.07 133.25,236.09 133.55,238.16 133.85,240.26 134.16,242.39 134.46,244.55 134.76,246.73 135.07,248.93 135.37,251.15 135.68,253.39 135.98,255.64 136.28,257.91 136.59,260.19 136.89,262.49 137.19,264.79 137.50,267.10 137.80,269.41 138.10,271.63 138.41,273.83 138.71,276.03 139.01,278.22 139.32,280.39 139.62,282.54 139.93,284.66 140.23,286.76 140.53,288.83 140.84,290.87 141.14,292.87 141.44,294.85 141.75,296.79 142.05,298.70 142.35,300.56 142.66,302.39 142.96,304.18 143.27,305.93 143.57,307.64 143.87,309.30 144.18,310.92 144.48,312.50 144.78,314.03 145.09,315.51 145.39,316.95 145.69,318.33 146.00,319.67 146.30,320.95 146.61,322.18 146.91,323.36 147.21,324.48 147.52,325.55 147.82,326.56 148.12,327.51 148.43,328.40 148.73,329.23 149.03,330.00 149.34,330.70 149.64,331.33 149.95,331.90 150.25,332.40 150.55,332.83 150.86,333.19 151.16,333.47 151.46,333.68 151.77,333.82 152.07,333.87 152.37,333.85 152.68,333.76 152.98,333.58 153.29,333.32 153.59,332.98 153.89,332.56 154.20,332.06 154.50,331.47 154.80,330.81 155.11,330.06 155.41,329.24 155.71,328.33 156.02,327.35 156.32,326.29 156.63,325.16 156.93,323.95 157.23,322.67 157.54,321.32 157.84,319.90 158.14,318.42 158.45,316.87 158.75,315.27 159.05,313.60 159.36,311.89 159.66,310.12 159.97,308.30 160.27,306.44 160.57,304.53 160.88,302.59 161.18,300.61 161.48,298.60 161.79,296.57 162.09,294.50 162.39,292.42 162.70,290.31 163.00,288.19 163.30,286.06 163.61,283.91 163.91,281.75 164.22,279.58 164.52,277.39 164.82,275.20 165.13,273.00 165.43,270.79 165.73,268.51 166.04,266.16 166.34,263.80 166.64,261.46 166.95,259.13 167.25,256.80 167.56,254.50 167.86,252.21 168.16,249.94 168.47,247.70 168.77,245.48 169.07,243.29 169.38,241.13 169.68,239.00 169.98,236.91 170.29,234.86 170.59,232.85 170.90,230.89 171.20,228.97 171.50,227.10 171.81,225.27 172.11,223.51 172.41,221.79 172.72,220.13 173.02,218.53 173.32,216.99 173.63,215.52 173.93,214.11 174.24,212.76 174.54,211.48 174.84,210.27 175.15,209.13 175.45,208.06 175.75,207.06 176.06,206.14 176.36,205.29 176.66,204.52 176.97,203.82 177.27,203.21 177.58,202.67 177.88,202.21 178.18,201.83 178.49,201.53 178.79,201.31 179.09,201.18 179.40,201.12 179.70,201.14 180.00,201.25 180.31,201.43 180.61,201.70 180.92,202.05 181.22,202.47 181.52,202.98 181.83,203.57 182.13,204.23 182.43,204.97 182.74,205.79 183.04,206.68 183.34,207.64 183.65,208.68 183.95,209.80 184.26,210.98 184.56,212.23 184.86,213.55 185.17,214.94 185.47,216.39 185.77,217.90 186.08,219.48 186.38,221.11 186.68,222.80 186.99,224.55 187.29,226.35 187.59,228.20 187.90,230.11 188.20,232.05 188.51,234.04 188.81,236.08 189.11,238.15 189.42,240.26 189.72,242.41 190.02,244.59 190.33,246.79 190.63,249.03 190.93,251.29 191.24,253.57 191.54,255.87 191.85,258.18 192.15,260.51 192.45,262.85 192.76,265.20 193.06,267.56 193.36,269.89 193.67,272.05 193.97,274.20 194.27,276.34 194.58,278.48 194.88,280.60 195.19,282.70 195.49,284.77 195.79,286.83 196.10,288.86 196.40,290.86 196.70,292.84 197.01,294.78 197.31,296.69 197.61,298.56 197.92,300.40 198.22,302.21 198.53,303.97 198.83,305.69 199.13,307.38 199.44,309.01 199.74,310.61 200.04,312.16 200.35,313.66 200.65,315.11 200.95,316.52 201.26,317.87 201.56,319.17 201.87,320.42 202.17,321.61 202.47,322.75 202.78,323.83 203.08,324.85 203.38,325.81 203.69,326.71 203.99,327.55 204.29,328.33 204.60,329.04 204.90,329.69 205.21,330.26 205.51,330.77 205.81,331.21 206.12,331.59 206.42,331.88 206.72,332.11 207.03,332.26 207.33,332.34 207.63,332.35 207.94,332.27 208.24,332.13 208.55,331.90 208.85,331.60 209.15,331.22 209.46,330.77 209.76,330.24 210.06,329.63 210.37,328.94 210.67,328.18 210.97,327.35 211.28,326.44 211.58,325.46 211.88,324.41 212.19,323.28 212.49,322.09 212.80,320.83 213.10,319.51 213.40,318.12 213.71,316.67 214.01,315.17 214.31,313.61 214.62,311.99 214.92,310.32 215.22,308.60 215.53,306.84 215.83,305.04 216.14,303.19 216.44,301.30 216.74,299.39 217.05,297.43 217.35,295.45 217.65,293.45 217.96,291.42 218.26,289.37 218.56,287.30 218.87,285.22 219.17,283.12 219.48,281.01 219.78,278.88 220.08,276.75 220.39,274.60 220.69,272.45 220.99,270.30 221.30,268.10 221.60,265.88 221.90,263.66 222.21,261.45 222.51,259.26 222.82,257.08 223.12,254.92 223.42,252.78 223.73,250.66 224.03,248.56 224.33,246.50 224.64,244.46 224.94,242.45 225.24,240.48 225.55,238.54 225.85,236.64 226.16,234.78 226.46,232.96 226.76,231.19 227.07,229.46 227.37,227.77 227.67,226.14 227.98,224.55 228.28,223.01 228.58,221.53 228.89,220.10 229.19,218.73 229.50,217.42 229.80,216.16 230.10,214.97 230.41,213.84 230.71,212.77 231.01,211.76 231.32,210.82 231.62,209.95 231.92,209.14 232.23,208.41 232.53,207.74 232.84,207.14 233.14,206.62 233.44,206.17 233.75,205.80 234.05,205.49 234.35,205.27 234.66,205.12 234.96,205.04 235.26,205.05 235.57,205.13 235.87,205.28 236.17,205.52 236.48,205.83 236.78,206.22 237.09,206.68 237.39,207.23 237.69,207.85 238.00,208.54 238.30,209.31 238.60,210.15 238.91,211.07 239.21,212.06 239.51,213.12 239.82,214.25 240.12,215.45 240.43,216.72 240.73,218.05 241.03,219.44 241.34,220.89 241.64,222.41 241.94,223.98 242.25,225.61 242.55,227.28 242.85,229.01 243.16,230.79 243.46,232.62 243.77,234.48 244.07,236.39 244.37,238.34 244.68,240.32 244.98,242.33 245.28,244.38 245.59,246.45 245.89,248.54 246.19,250.66 246.50,252.80 246.80,254.96 247.11,257.13 247.41,259.32 247.71,261.51 248.02,263.72 248.32,265.94 248.62,268.16 248.93,270.35 249.23,272.49 249.53,274.63 249.84,276.76 250.14,278.89 250.45,281.02 250.75,283.15 251.05,285.28 251.36,287.39 251.66,289.50 251.96,291.59 252.27,293.66 252.57,295.71 252.87,297.74 253.18,299.74 253.48,301.70 253.79,303.63 254.09,305.51 254.39,307.36 254.70,309.15 255.00,310.90 255.30,312.59 255.61,314.23 255.91,315.80 256.21,317.32 256.52,318.76 256.82,320.14 257.13,321.45 257.43,322.68 257.73,323.85 258.04,324.93 258.34,325.94 258.64,326.87 258.95,327.73 259.25,328.50 259.55,329.20 259.86,329.81 260.16,330.34 260.47,330.80 260.77,331.18 261.07,331.48 261.38,331.70 261.68,331.84 261.98,331.91 262.29,331.91 262.59,331.83 262.89,331.68 263.20,331.46 263.50,331.17 263.80,330.82 264.11,330.40 264.41,329.91 264.72,329.37 265.02,328.76 265.32,328.09 265.63,327.36 265.93,326.58 266.23,325.73 266.54,324.84 266.84,323.89 267.14,322.88 267.45,321.82 267.75,320.72 268.06,319.56 268.36,318.35 268.66,317.09 268.97,315.78 269.27,314.43 269.57,313.02 269.88,311.57 270.18,310.08 270.48,308.53 270.79,306.95 271.09,305.31 271.40,303.64 271.70,301.92 272.00,300.16 272.31,298.35 272.61,296.51 272.91,294.62 273.22,292.70 273.52,290.74 273.82,288.75 274.13,286.72 274.43,284.66 274.74,282.58 275.04,280.47 275.34,278.36 275.65,276.24 275.95,274.11 276.25,271.97 276.56,269.83 276.86,267.77 277.16,265.71 277.47,263.66 277.77,261.62 278.08,259.60 278.38,257.60 278.68,255.62 278.99,253.67 279.29,251.74 279.59,249.84 279.90,247.97 280.20,246.13 280.50,244.32 280.81,242.55 281.11,240.81 281.42,239.10 281.72,237.44 282.02,235.81 282.33,234.22 282.63,232.67 282.93,231.16 283.24,229.69 283.54,228.27 283.84,226.89 284.15,225.55 284.45,224.26 284.75,223.02 285.06,221.83 285.36,220.68 285.67,219.58 285.97,218.54 286.27,217.55 286.58,216.61 286.88,215.72 287.18,214.89 287.49,214.12 287.79,213.41 288.09,212.76 288.40,212.17 288.70,211.64 289.01,211.18 289.31,210.78 289.61,210.45 289.92,210.19 290.22,210.00 290.52,209.88 290.83,209.82 291.13,209.85 291.43,209.94 291.74,210.11 292.04,210.36 292.35,210.68 292.65,211.07 292.95,211.54 293.26,212.09 293.56,212.71 293.86,213.41 294.17,214.18 294.47,215.03 294.77,215.94 295.08,216.93 295.38,218.00 295.69,219.12 295.99,220.32 296.29,221.58 296.60,222.91 296.90,224.29 297.20,225.74 297.51,227.23 297.81,228.79 298.11,230.39 298.42,232.04 298.72,233.74 299.03,235.47 299.33,237.25 299.63,239.06 299.94,240.91 300.24,242.78 300.54,244.68 300.85,246.61 301.15,248.55 301.45,250.51 301.76,252.49 302.06,254.48 302.37,256.48 302.67,258.50 302.97,260.52 303.28,262.56 303.58,264.61 303.88,266.66 304.19,268.72 304.49,271.01 304.79,273.49 305.10,275.98 305.40,278.46 305.71,280.92 306.01,283.37 306.31,285.80 306.62,288.20 306.92,290.58 307.22,292.93 307.53,295.26 307.83,297.55 308.13,299.80 308.44,302.02 308.74,304.20 309.04,306.34 309.35,308.43 309.65,310.48 309.96,312.48 310.26,314.43 310.56,316.33 310.87,318.17 311.17,319.96 311.47,321.69 311.78,323.36 312.08,324.98 312.38,326.52 312.69,328.01 312.99,329.43 313.30,330.78 313.60,332.06 313.90,333.27 314.21,334.41 314.51,335.48 314.81,336.47 315.12,337.39 315.42,338.23 315.72,338.99 316.03,339.67 316.33,340.27 316.64,340.79 316.94,341.23 317.24,341.58 317.55,341.85 317.85,342.03 318.15,342.13 318.46,342.14 318.76,342.07 319.06,341.91 319.37,341.66 319.67,341.33 319.98,340.90 320.28,340.40 320.58,339.80 320.89,339.12 321.19,338.36 321.49,337.51 321.80,336.58 322.10,335.56 322.40,334.47 322.71,333.29 323.01,332.04 323.32,330.71 323.62,329.30 323.92,327.83 324.23,326.28 324.53,324.66 324.83,322.97 325.14,321.22 325.44,319.41 325.74,317.53 326.05,315.61 326.35,313.62 326.66,311.59 326.96,309.50 327.26,307.37 327.57,305.20 327.87,302.98 328.17,300.73 328.48,298.44 328.78,296.12 329.08,293.78 329.39,291.41 329.69,289.01 330.00,286.60 330.30,284.17 330.60,281.72 330.91,279.26 331.21,276.78 331.51,274.30 331.82,271.81 332.12,269.35 332.42,267.07 332.73,264.79 333.03,262.52 333.33,260.25 333.64,258.00 333.94,255.76 334.25,253.54 334.55,251.34 334.85,249.15 335.16,247.00 335.46,244.87 335.76,242.76 336.07,240.69 336.37,238.66 336.67,236.66 336.98,234.70 337.28,232.78 337.59,230.91 337.89,229.08 338.19,227.30 338.50,225.57 338.80,223.89 339.10,222.26 339.41,220.69 339.71,219.18 340.01,217.73 340.32,216.34 340.62,215.02 340.93,213.75 341.23,212.56 341.53,211.43 341.84,210.37 342.14,209.38 342.44,208.46 342.75,207.61 343.05,206.84 343.35,206.14 343.66,205.52 343.96,204.97 344.27,204.50 344.57,204.11 344.87,203.79 345.18,203.55 345.48,203.39 345.78,203.31 346.09,203.30 346.39,203.38 346.69,203.53 347.00,203.76 347.30,204.07 347.61,204.45 347.91,204.92 348.21,205.46 348.52,206.07 348.82,206.76 349.12,207.53 349.43,208.37 349.73,209.28 350.03,210.26 350.34,211.31 350.64,212.43 350.95,213.62 351.25,214.88 351.55,216.20 351.86,217.58 352.16,219.03 352.46,220.53 352.77,222.09 353.07,223.71 353.37,225.39 353.68,227.11 353.98,228.89 354.29,230.71 354.59,232.58 354.89,234.49 355.20,236.45 355.50,238.44 355.80,240.48 356.11,242.54 356.41,244.64 356.71,246.77 357.02,248.92 357.32,251.10 357.62,253.30 357.93,255.52 358.23,257.76 358.54,260.01 358.84,262.28 359.14,264.55 359.45,266.82 359.75,269.11 360.05,271.35 360.36,273.57 360.66,275.80 360.96,278.01 361.27,280.22 361.57,282.42 361.88,284.61 362.18,286.78 362.48,288.94 362.79,291.08 363.09,293.19 363.39,295.27 363.70,297.33 364.00,299.36 364.30,301.35 364.61,303.30 364.91,305.22 365.22,307.09 365.52,308.92 365.82,310.70 366.13,312.44 366.43,314.12 366.73,315.74 367.04,317.31 367.34,318.83 367.64,320.28 367.95,321.67 368.25,322.99 368.56,324.25 368.86,325.44 369.16,326.56 369.47,327.61 369.77,328.59 370.07,329.50 370.38,330.34 370.68,331.10 370.98,331.78 371.29,332.39 371.59,332.93 371.90,333.39 372.20,333.77 372.50,334.07 372.81,334.30 373.11,334.45 373.41,334.52 373.72,334.52 374.02,334.44 374.32,334.29 374.63,334.06 374.93,333.75 375.24,333.37 375.54,332.92 375.84,332.40 376.15,331.80 376.45,331.13 376.75,330.40 377.06,329.59 377.36,328.72 377.66,327.78 377.97,326.77 378.27,325.70 378.58,324.56 378.88,323.37 379.18,322.11 379.49,320.79 379.79,319.42 380.09,317.98 380.40,316.50 380.70,314.96 381.00,313.36 381.31,311.72 381.61,310.02 381.91,308.28 382.22,306.49 382.52,304.66 382.83,302.79 383.13,300.87 383.43,298.92 383.74,296.93 384.04,294.91 384.34,292.85 384.65,290.76 384.95,288.65 385.25,286.51 385.56,284.35 385.86,282.17 386.17,279.98 386.47,277.77 386.77,275.55 387.08,273.33 387.38,271.10 387.68,268.93 387.99,266.88 388.29,264.83 388.59,262.78 388.90,260.75 389.20,258.73 389.51,256.74 389.81,254.77 390.11,252.83 390.42,250.91 390.72,249.03 391.02,247.17 391.33,245.34 391.63,243.55 391.93,241.79 392.24,240.07 392.54,238.38 392.85,236.73 393.15,235.11 393.45,233.54 393.76,232.01 394.06,230.52 394.36,229.07 394.67,227.67 394.97,226.30 395.27,224.99 395.58,223.72 395.88,222.50 396.19,221.32 396.49,220.20 396.79,219.12 397.10,218.10 397.40,217.13 397.70,216.22 398.01,215.36 398.31,214.55 398.61,213.81 398.92,213.12 399.22,212.50 399.53,211.93 399.83,211.43 400.13,211.00 400.44,210.63 400.74,210.33 401.04,210.10 401.35,209.94 401.65,209.84 401.95,209.82 402.26,209.88 402.56,210.01 402.87,210.21 403.17,210.48 403.47,210.84 403.78,211.27 404.08,211.77 404.38,212.35 404.69,213.00 404.99,213.73 405.29,214.54 405.60,215.41 405.90,216.36 406.20,217.39 406.51,218.48 406.81,219.63 407.12,220.86 407.42,222.15 407.72,223.50 408.03,224.91 408.33,226.38 408.63,227.90 408.94,229.48 409.24,231.10 409.54,232.77 409.85,234.48 410.15,236.24 410.46,238.03 410.76,239.86 411.06,241.72 411.37,243.60 411.67,245.51 411.97,247.45 412.28,249.40 412.58,251.37 412.88,253.35 413.19,255.35 413.49,257.35 413.80,259.37 414.10,261.40 414.40,263.45 414.71,265.50 415.01,267.55 415.31,269.61 415.62,272.01 415.92,274.42 416.22,276.83 416.53,279.23 416.83,281.63 417.14,284.02 417.44,286.40 417.74,288.77 418.05,291.12 418.35,293.45 418.65,295.75 418.96,298.03 419.26,300.28 419.56,302.49 419.87,304.67 420.17,306.81 420.48,308.90 420.78,310.95 421.08,312.95 421.39,314.89 421.69,316.78 421.99,318.61 422.30,320.38 422.60,322.08 422.90,323.72 423.21,325.28 423.51,326.78 423.82,328.20 424.12,329.55 424.42,330.82 424.73,332.01 425.03,333.12 425.33,334.15 425.64,335.10 425.94,335.97 426.24,336.75 426.55,337.44 426.85,338.06 427.16,338.58 427.46,339.02 427.76,339.38 428.07,339.65 428.37,339.84 428.67,339.95 428.98,339.97 429.28,339.91 429.58,339.77 429.89,339.54 430.19,339.24 430.49,338.86 430.80,338.40 431.10,337.86 431.41,337.25 431.71,336.56 432.01,335.80 432.32,334.97 432.62,334.06 432.92,333.09 433.23,332.05 433.53,330.94 433.83,329.76 434.14,328.52 434.44,327.22 434.75,325.85 435.05,324.42 435.35,322.93 435.66,321.38 435.96,319.78 436.26,318.12 436.57,316.40 436.87,314.63 437.17,312.80 437.48,310.93 437.78,309.00 438.09,307.03 438.39,305.01 438.69,302.95 439.00,300.84 439.30,298.70 439.60,296.51 439.91,294.29 440.21,292.03 440.51,289.74 440.82,287.42 441.12,285.07 441.43,282.71 441.73,280.32 442.03,277.93 442.34,275.53 442.64,273.11 442.94,270.70 443.25,268.38 443.55,266.14 443.85,263.90 444.16,261.67 444.46,259.45 444.77,257.26 445.07,255.08 445.37,252.93 445.68,250.80 445.98,248.70 446.28,246.62 446.59,244.58 446.89,242.58 447.19,240.60 447.50,238.67 447.80,236.77 448.11,234.91 448.41,233.09 448.71,231.32 449.02,229.59 449.32,227.90 449.62,226.26 449.93,224.67 450.23,223.13 450.53,221.64 450.84,220.21 451.14,218.82 451.45,217.49 451.75,216.22 452.05,215.00 452.36,213.85 452.66,212.75 452.96,211.72 453.27,210.74 453.57,209.83 453.87,208.99 454.18,208.21 454.48,207.51 454.78,206.87 455.09,206.30 455.39,205.80 455.70,205.38 456.00,205.03 456.30,204.75 456.61,204.55 456.91,204.43 457.21,204.38 457.52,204.42 457.82,204.53 458.12,204.72 458.43,204.99 458.73,205.34 459.04,205.77 459.34,206.29 459.64,206.88 459.95,207.55 460.25,208.30 460.55,209.13 460.86,210.03 461.16,211.02 461.46,212.07 461.77,213.21 462.07,214.41 462.38,215.68 462.68,217.03 462.98,218.44 463.29,219.91 463.59,221.45 463.89,223.05 464.20,224.70 464.50,226.41 464.80,228.17 465.11,229.99 465.41,231.84 465.72,233.75 466.02,235.69 466.32,237.67 466.63,239.68 466.93,241.73 467.23,243.81 467.54,245.91 467.84,248.03 468.14,250.18 468.45,252.34 468.75,254.51 469.06,256.71 469.36,258.91 469.66,261.13 469.97,263.36 470.27,265.60 470.57,267.84 470.88,270.08 471.18,272.29 471.48,274.49 471.79,276.69 472.09,278.88 472.40,281.07 472.70,283.25 473.00,285.42 473.31,287.58 473.61,289.72 473.91,291.84 474.22,293.94 474.52,296.02 474.82,298.06 475.13,300.08 475.43,302.06 475.74,304.01 476.04,305.91 476.34,307.77 476.65,309.58 476.95,311.35 477.25,313.06 477.56,314.72 477.86,316.32 478.16,317.87 478.47,319.35 478.77,320.77 479.07,322.12 479.38,323.40 479.68,324.62 479.99,325.76 480.29,326.83 480.59,327.83 480.90,328.76 481.20,329.61 481.50,330.38 481.81,331.08 482.11,331.70 482.41,332.24 482.72,332.70 483.02,333.09 483.33,333.40 483.63,333.63 483.93,333.79 484.24,333.87 484.54,333.87 484.84,333.80 485.15,333.65 485.45,333.43 485.75,333.14 486.06,332.77 486.36,332.34 486.67,331.83 486.97,331.26 487.27,330.62 487.58,329.91 487.88,329.13 488.18,328.30 488.49,327.39 488.79,326.43 489.09,325.40 489.40,324.31 489.70,323.17 490.01,321.96 490.31,320.70 490.61,319.39 490.92,318.01 491.22,316.59 491.52,315.11 491.83,313.58 492.13,312.00 492.43,310.37 492.74,308.70 493.04,306.98 493.35,305.21 493.65,303.40 493.95,301.55 494.26,299.65 494.56,297.72 494.86,295.75 495.17,293.75 495.47,291.71 495.77,289.64 496.08,287.54 496.38,285.42 496.69,283.27 496.99,281.11 497.29,278.93 497.60,276.74 497.90,274.54 498.20,272.34 498.51,270.13 498.81,267.91 499.11,265.69 499.42,263.48 499.72,261.27 500.03,259.07 500.33,256.88 500.63,254.70 500.94,252.53 501.24,250.38 501.54,248.26 501.85,246.15 502.15,244.08 502.45,242.03 502.76,240.01 503.06,238.02 503.36,236.08 503.67,234.17 503.97,232.30 504.28,230.48 504.58,228.71 504.88,226.98 505.19,225.31 505.49,223.69 505.79,222.13 506.10,220.63 506.40,219.18 506.70,217.80 507.01,216.48 507.31,215.23 507.62,214.05 507.92,212.93 508.22,211.89 508.53,210.91 508.83,210.01 509.13,209.18 509.44,208.42 509.74,207.74 510.04,207.14 510.35,206.61 510.65,206.16 510.96,205.78 511.26,205.48 511.56,205.26 511.87,205.11 512.17,205.04 512.47,205.05 512.78,205.13 513.08,205.29 513.38,205.52 513.69,205.83 513.99,206.21 514.30,206.66 514.60,207.19 514.90,207.78 515.21,208.45 515.51,209.19 515.81,209.99 516.12,210.87 516.42,211.81 516.72,212.81 517.03,213.88 517.33,215.02 517.64,216.21 517.94,217.47 518.24,218.78 518.55,220.15 518.85,221.58 519.15,223.07 519.46,224.61 519.76,226.20 520.06,227.84 520.37,229.53 520.67,231.27 520.98,233.05 521.28,234.88 521.58,236.75 521.89,238.66 522.19,240.61 522.49,242.59 522.80,244.61 523.10,246.66 523.40,248.74 523.71,250.85 524.01,252.98 524.32,255.13 524.62,257.31 524.92,259.50 525.23,261.70 525.53,263.90 525.83,266.12 526.14,268.34 526.44,270.54 526.74,272.71 527.05,274.88 527.35,277.03 527.65,279.19 527.96,281.34 528.26,283.48 528.57,285.61 528.87,287.73 529.17,289.83 529.48,291.92 529.78,293.97 530.08,296.01 530.39,298.01 530.69,299.99 530.99,301.93 531.30,303.83 531.60,305.69 531.91,307.51 532.21,309.29 532.51,311.01 532.82,312.68 533.12,314.30 533.42,315.87 533.73,317.37 534.03,318.81 534.33,320.19 534.64,321.51 534.94,322.76 535.25,323.94 535.55,325.05 535.85,326.08 536.16,327.05 536.46,327.94 536.76,328.76 537.07,329.51 537.37,330.17 537.67,330.77 537.98,331.28 538.28,331.72 538.59,332.09 538.89,332.37 539.19,332.59 539.50,332.72 539.80,332.78"/>
</g>
<g clip-path="url(#c_yaw)">
<polyline fill="none" stroke="#ff0000" stroke-width="2.4" stroke-linejoin="round" points="54.00,452.93 539.80,452.93"/>
<path fill="none" stroke="#0000ff" stroke-width="2.6" stroke-dasharray="8.9 7.9" stroke-linejoin="round" d="M54.00 452.90L93.50 452.90Q94.70 452.90 95.85 452.55L95.85 452.55Q97.00 452.20 97.46 451.09L101.24 442.07Q102.40 439.30 105.33 439.94L119.07 442.96Q122.00 443.60 123.05 446.41L124.25 449.59Q125.30 452.40 128.27 452.84L138.46 454.35Q139.50 454.50 140.55 454.40L140.55 454.40Q141.60 454.30 141.92 453.29L145.09 443.26Q146.00 440.40 148.93 441.06L157.27 442.94Q160.20 443.60 161.54 446.28L163.26 449.72Q164.60 452.40 167.51 453.13L170.09 453.77Q173.00 454.50 175.94 455.10L178.86 455.70Q181.80 456.30 183.02 453.56L187.18 444.24Q188.40 441.50 191.01 442.98L193.39 444.32Q196.00 445.80 198.97 446.21L201.73 446.59Q204.70 447.00 206.06 449.67L208.84 455.13Q210.20 457.80 213.20 457.66L220.30 457.34Q223.30 457.20 224.68 454.54L230.99 442.36Q232.00 440.40 234.20 440.50L234.20 440.50Q236.40 440.60 238.48 441.33L242.64 442.78Q245.00 443.60 247.25 444.70L247.25 444.70Q249.50 445.80 251.26 447.58L253.89 450.26Q256.00 452.40 259.00 452.45L264.72 452.56Q267.00 452.60 268.00 454.65L268.00 454.65Q269.00 456.70 269.65 458.89L274.22 474.34Q274.50 475.30 275.50 475.30L275.50 475.30Q276.50 475.30 277.29 474.68L289.44 465.15Q291.80 463.30 292.26 460.34L295.74 437.96Q296.20 435.00 298.95 436.19L310.85 441.31Q313.60 442.50 313.97 445.48L316.63 466.82Q317.00 469.80 319.92 469.12L332.58 466.18Q335.50 465.50 335.87 462.52L339.56 432.43Q339.80 430.50 340.90 428.90L340.90 428.90Q342.00 427.30 343.31 428.73L354.18 440.61Q355.00 441.50 355.60 442.55L355.60 442.55Q356.20 443.60 356.34 444.80L359.15 469.02Q359.50 472.00 362.04 470.40L374.46 462.60Q377.00 461.00 377.42 458.03L381.05 432.29Q381.30 430.50 382.15 428.90L382.15 428.90Q383.00 427.30 384.45 428.39L386.31 429.79Q388.70 431.60 391.16 433.32L393.94 435.28Q396.40 437.00 397.69 439.71L398.11 440.59Q399.40 443.30 399.65 446.29L401.64 470.03Q401.80 472.00 403.50 473.00L403.50 473.00Q405.20 474.00 406.03 472.21L406.73 470.72Q408.00 468.00 410.88 467.15L413.92 466.25Q416.80 465.40 417.87 462.60L418.63 460.60Q419.70 457.80 420.44 454.89L422.86 445.41Q423.60 442.50 426.39 443.61L429.61 444.89Q432.40 446.00 435.34 446.61L437.99 447.16Q440.10 447.60 441.20 449.45L441.20 449.45Q442.30 451.30 442.61 453.43L444.90 468.86Q445.30 471.60 447.40 469.80L447.40 469.80Q449.50 468.00 451.36 465.95L453.38 463.72Q455.40 461.50 458.38 461.82L458.92 461.88Q461.90 462.20 462.62 459.29L466.98 441.81Q467.70 438.90 470.69 438.66L473.31 438.44Q476.30 438.20 479.15 439.13L483.45 440.53Q484.90 441.00 485.20 442.50L485.20 442.50Q485.50 444.00 485.77 445.51L489.07 463.85Q489.60 466.80 492.44 465.84L503.96 461.96Q506.80 461.00 507.33 458.05L510.22 442.11Q510.60 440.00 512.55 439.10L512.55 439.10Q514.50 438.20 516.56 438.81L521.12 440.15Q524.00 441.00 526.90 441.76L528.70 442.24Q531.60 443.00 534.30 444.32L539.80 447.00"/>
<path fill="none" stroke="#000" stroke-width="2.6" stroke-dasharray="9 1.8 4.3 1.8" stroke-linejoin="round" d="M54.00 452.90L67.70 452.90Q70.70 452.90 73.39 454.22L73.58 454.31Q76.20 455.60 79.10 455.95L79.10 455.95Q82.00 456.30 84.92 456.22L91.94 456.04Q93.60 456.00 94.70 454.75L95.00 454.41Q95.80 453.50 96.90 454.00L96.90 454.00Q98.00 454.50 98.25 455.68L102.88 477.76Q103.50 480.70 106.43 481.34L115.77 483.36Q118.70 484.00 119.13 481.03L123.77 448.77Q124.20 445.80 127.20 445.72L138.76 445.42Q139.50 445.40 140.00 445.95L140.00 445.95Q140.50 446.50 140.64 447.23L145.45 473.05Q146.00 476.00 148.85 475.05L158.45 471.85Q161.30 470.90 161.71 467.93L165.31 442.10Q165.60 440.00 167.15 438.55L167.15 438.55Q168.70 437.10 170.21 438.59L172.06 440.40Q174.20 442.50 176.96 441.34L179.57 440.24Q181.80 439.30 182.90 441.45L182.90 441.45Q184.00 443.60 184.52 445.96L189.36 468.04Q189.50 468.70 190.00 469.15L190.00 469.15Q190.50 469.60 191.17 469.56L201.71 468.89Q204.70 468.70 205.20 465.74L210.13 436.40Q210.20 436.00 210.40 435.65L210.40 435.65Q210.60 435.30 211.00 435.34L222.51 436.42Q225.50 436.70 226.21 439.61L231.86 462.71Q232.00 463.30 232.25 463.85L232.25 463.85Q232.50 464.40 233.10 464.44L244.31 465.28Q247.30 465.50 247.77 462.54L252.23 434.56Q252.70 431.60 254.82 433.72L259.38 438.28Q261.50 440.40 264.50 440.40L265.00 440.40Q268.00 440.40 269.05 437.59L274.09 424.09Q274.50 423.00 275.50 422.40L275.50 422.40Q276.50 421.80 277.65 421.97L287.80 423.49Q288.50 423.60 289.05 424.05L289.05 424.05Q289.60 424.50 289.68 425.21L294.93 473.60Q295.00 474.20 295.25 474.75L295.25 474.75Q295.50 475.30 296.10 475.26L308.51 474.41Q311.50 474.20 311.95 471.23L319.75 419.97Q320.20 417.00 322.48 418.95L331.55 426.75Q332.20 427.30 332.75 427.95L332.75 427.95Q333.30 428.60 333.37 429.45L337.56 482.46Q337.60 483.00 337.80 483.50L337.80 483.50Q338.00 484.00 338.54 483.95L351.01 482.78Q354.00 482.50 354.35 479.52L361.25 420.48Q361.60 417.50 363.91 419.42L374.10 427.90Q374.70 428.40 375.25 428.95L375.25 428.95Q375.80 429.50 375.88 430.27L381.13 479.11Q381.30 480.70 382.85 481.10L382.85 481.10Q384.40 481.50 385.80 480.72L394.88 475.66Q397.50 474.20 397.89 471.22L404.61 419.38Q405.00 416.40 407.87 417.26L416.43 419.84Q419.30 420.70 419.66 423.68L423.49 455.74Q423.60 456.70 423.95 457.60L423.95 457.60Q424.30 458.50 425.25 458.35L438.04 456.28Q441.00 455.80 441.92 452.94L447.78 434.66Q448.70 431.80 451.32 433.26L461.13 438.73Q461.80 439.10 462.20 439.75L462.20 439.75Q462.60 440.40 462.75 441.15L466.80 461.65Q467.30 464.20 469.90 464.10L469.90 464.10Q472.50 464.00 474.82 462.83L481.32 459.55Q484.00 458.20 485.04 455.39L492.02 436.53Q492.40 435.50 492.95 434.55L492.95 434.55Q493.50 433.60 494.60 433.68L503.95 434.33Q505.00 434.40 505.45 435.35L505.45 435.35Q505.90 436.30 506.05 437.34L509.61 462.37Q509.70 463.00 510.10 463.50L510.10 463.50Q510.50 464.00 511.14 463.93L524.82 462.34Q527.80 462.00 530.57 460.85L539.80 457.00"/>
</g>
<rect x="54.00" y="7.40" width="485.80" height="150.30" fill="none" stroke="#262626" stroke-width="1.1"/>
<path d="M112.88 157.70V152.70M112.88 7.40V12.40M171.77 157.70V152.70M171.77 7.40V12.40M230.65 157.70V152.70M230.65 7.40V12.40M289.54 157.70V152.70M289.54 7.40V12.40M348.42 157.70V152.70M348.42 7.40V12.40M407.31 157.70V152.70M407.31 7.40V12.40M466.19 157.70V152.70M466.19 7.40V12.40M525.08 157.70V152.70M525.08 7.40V12.40M54.00 125.49H59.00M539.80 125.49H534.80M54.00 82.55H59.00M539.80 82.55H534.80M54.00 39.61H59.00M539.80 39.61H534.80" stroke="#262626" stroke-width="1.1" fill="none"/>
<text class="tl" text-anchor="middle" transform="translate(54.00 172.70) scale(0.93 1)">0</text>
<text class="tl" text-anchor="middle" transform="translate(112.88 172.70) scale(0.93 1)">20</text>
<text class="tl" text-anchor="middle" transform="translate(171.77 172.70) scale(0.93 1)">40</text>
<text class="tl" text-anchor="middle" transform="translate(230.65 172.70) scale(0.93 1)">60</text>
<text class="tl" text-anchor="middle" transform="translate(289.54 172.70) scale(0.93 1)">80</text>
<text class="tl" text-anchor="middle" transform="translate(348.42 172.70) scale(0.93 1)">100</text>
<text class="tl" text-anchor="middle" transform="translate(407.31 172.70) scale(0.93 1)">120</text>
<text class="tl" text-anchor="middle" transform="translate(466.19 172.70) scale(0.93 1)">140</text>
<text class="tl" text-anchor="middle" transform="translate(525.08 172.70) scale(0.93 1)">160</text>
<text class="tl" text-anchor="end" transform="translate(50.50 130.19) scale(0.93 1)">−20</text>
<text class="tl" text-anchor="end" transform="translate(50.50 87.25) scale(0.93 1)">0</text>
<text class="tl" text-anchor="end" transform="translate(50.50 44.31) scale(0.93 1)">20</text>
<rect x="54.00" y="193.50" width="485.80" height="156.70" fill="none" stroke="#262626" stroke-width="1.1"/>
<path d="M112.88 350.20V345.20M112.88 193.50V198.50M171.77 350.20V345.20M171.77 193.50V198.50M230.65 350.20V345.20M230.65 193.50V198.50M289.54 350.20V345.20M289.54 193.50V198.50M348.42 350.20V345.20M348.42 193.50V198.50M407.31 350.20V345.20M407.31 193.50V198.50M466.19 350.20V345.20M466.19 193.50V198.50M525.08 350.20V345.20M525.08 193.50V198.50M54.00 313.20H59.00M539.80 313.20H534.80M54.00 269.67H59.00M539.80 269.67H534.80M54.00 226.15H59.00M539.80 226.15H534.80" stroke="#262626" stroke-width="1.1" fill="none"/>
<text class="tl" text-anchor="middle" transform="translate(54.00 365.80) scale(0.93 1)">0</text>
<text class="tl" text-anchor="middle" transform="translate(112.88 365.80) scale(0.93 1)">20</text>
<text class="tl" text-anchor="middle" transform="translate(171.77 365.80) scale(0.93 1)">40</text>
<text class="tl" text-anchor="middle" transform="translate(230.65 365.80) scale(0.93 1)">60</text>
<text class="tl" text-anchor="middle" transform="translate(289.54 365.80) scale(0.93 1)">80</text>
<text class="tl" text-anchor="middle" transform="translate(348.42 365.80) scale(0.93 1)">100</text>
<text class="tl" text-anchor="middle" transform="translate(407.31 365.80) scale(0.93 1)">120</text>
<text class="tl" text-anchor="middle" transform="translate(466.19 365.80) scale(0.93 1)">140</text>
<text class="tl" text-anchor="middle" transform="translate(525.08 365.80) scale(0.93 1)">160</text>
<text class="tl" text-anchor="end" transform="translate(50.50 317.90) scale(0.93 1)">−20</text>
<text class="tl" text-anchor="end" transform="translate(50.50 274.37) scale(0.93 1)">0</text>
<text class="tl" text-anchor="end" transform="translate(50.50 230.85) scale(0.93 1)">20</text>
<rect x="54.00" y="385.90" width="485.80" height="156.40" fill="none" stroke="#262626" stroke-width="1.1"/>
<path d="M112.88 542.30V537.30M112.88 385.90V390.90M171.77 542.30V537.30M171.77 385.90V390.90M230.65 542.30V537.30M230.65 385.90V390.90M289.54 542.30V537.30M289.54 385.90V390.90M348.42 542.30V537.30M348.42 385.90V390.90M407.31 542.30V537.30M407.31 385.90V390.90M466.19 542.30V537.30M466.19 385.90V390.90M525.08 542.30V537.30M525.08 385.90V390.90M54.00 497.61H59.00M539.80 497.61H534.80M54.00 452.93H59.00M539.80 452.93H534.80M54.00 408.24H59.00M539.80 408.24H534.80" stroke="#262626" stroke-width="1.1" fill="none"/>
<text class="tl" text-anchor="middle" transform="translate(54.00 558.10) scale(0.93 1)">0</text>
<text class="tl" text-anchor="middle" transform="translate(112.88 558.10) scale(0.93 1)">20</text>
<text class="tl" text-anchor="middle" transform="translate(171.77 558.10) scale(0.93 1)">40</text>
<text class="tl" text-anchor="middle" transform="translate(230.65 558.10) scale(0.93 1)">60</text>
<text class="tl" text-anchor="middle" transform="translate(289.54 558.10) scale(0.93 1)">80</text>
<text class="tl" text-anchor="middle" transform="translate(348.42 558.10) scale(0.93 1)">100</text>
<text class="tl" text-anchor="middle" transform="translate(407.31 558.10) scale(0.93 1)">120</text>
<text class="tl" text-anchor="middle" transform="translate(466.19 558.10) scale(0.93 1)">140</text>
<text class="tl" text-anchor="middle" transform="translate(525.08 558.10) scale(0.93 1)">160</text>
<text class="tl" text-anchor="end" transform="translate(50.50 547.00) scale(0.93 1)">−20</text>
<text class="tl" text-anchor="end" transform="translate(50.50 502.31) scale(0.93 1)">−10</text>
<text class="tl" text-anchor="end" transform="translate(50.50 457.63) scale(0.93 1)">0</text>
<text class="tl" text-anchor="end" transform="translate(50.50 412.94) scale(0.93 1)">10</text>
<text class="al" x="0" y="0" text-anchor="middle" textLength="38.9" lengthAdjust="spacingAndGlyphs" transform="translate(24.60 82.80) rotate(-90)">Pitch/°</text>
<text class="al" x="0" y="0" text-anchor="middle" textLength="35.1" lengthAdjust="spacingAndGlyphs" transform="translate(21.40 270.90) rotate(-90)">Roll/°</text>
<text class="al" x="0" y="0" text-anchor="middle" textLength="38.8" lengthAdjust="spacingAndGlyphs" transform="translate(21.50 463.65) rotate(-90)">Yaw/°</text>
<text class="al" x="296.90" y="576.9" text-anchor="middle" textLength="41.7" lengthAdjust="spacingAndGlyphs">Time/s</text>
<rect x="298.50" y="492.80" width="236.80" height="49.50" fill="#fff" stroke="#262626" stroke-width="1.1"/>
<polyline fill="none" stroke="#ff0000" stroke-width="2.4" stroke-linejoin="round" points="302.7,502.10 345.3,502.10"/>
<text class="lg" x="348.2" y="506.80">Desired attitude angles</text>
<polyline fill="none" stroke="#0000ff" stroke-width="2.6" stroke-dasharray="8.9 7.9" stroke-linejoin="round" points="302.7,517.50 345.3,517.50"/>
<text class="lg" x="348.2" y="522.20">Switched control attitude angles</text>
<polyline fill="none" stroke="#000" stroke-width="2.6" stroke-dasharray="9 1.8 4.3 1.8" stroke-linejoin="round" points="302.7,533.00 345.3,533.00"/>
<text class="lg" x="348.2" y="537.70">Non-switched control attitude angles</text>
</svg></body></html>
